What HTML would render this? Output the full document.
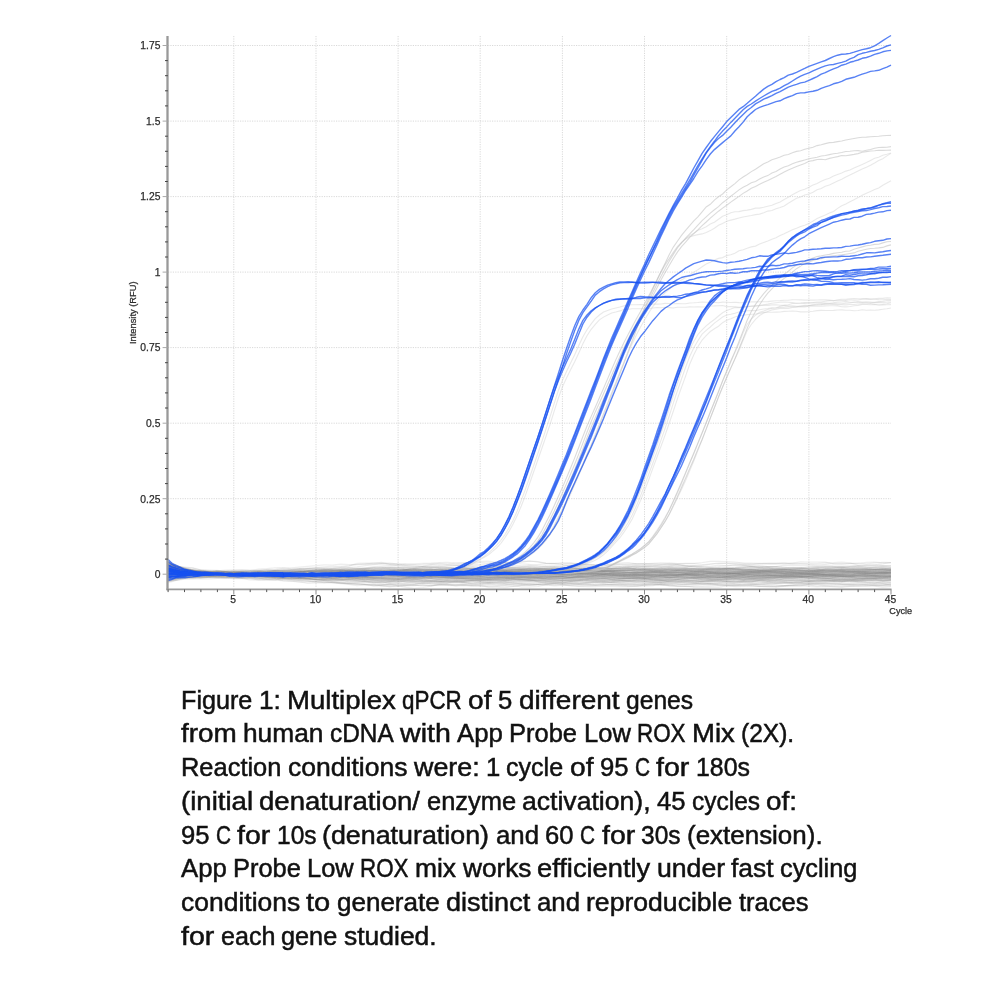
<!DOCTYPE html>
<html><head><meta charset="utf-8"><title>Figure 1</title>
<style>
html,body{margin:0;padding:0;background:#fff;}
body{width:1000px;height:1000px;position:relative;overflow:hidden;font-family:"Liberation Sans",sans-serif;}
.ln{position:absolute;display:block;white-space:nowrap;-webkit-text-stroke:0.5px #111;font-size:25.3px;line-height:33.095px;color:#111;transform-origin:0 50%;letter-spacing:0;}
#cap{position:absolute;left:0;top:0;width:1000px;height:1000px;filter:blur(0.3px);will-change:transform;}
</style></head><body>
<svg width="1000" height="1000" viewBox="0 0 1000 1000" style="position:absolute;left:0;top:0;will-change:transform">
<g stroke="#d9d9d9" stroke-width="1" stroke-dasharray="1.2,1.2" fill="none">
<path d="M233.8,36 V588"/>
<path d="M316.0,36 V588"/>
<path d="M398.1,36 V588"/>
<path d="M480.2,36 V588"/>
<path d="M562.4,36 V588"/>
<path d="M644.5,36 V588"/>
<path d="M726.7,36 V588"/>
<path d="M808.9,36 V588"/>
<path d="M168,498.7 H891"/>
<path d="M168,423.2 H891"/>
<path d="M168,347.6 H891"/>
<path d="M168,272.1 H891"/>
<path d="M168,196.6 H891"/>
<path d="M168,121.1 H891"/>
<path d="M168,45.5 H891"/>
</g>
<g stroke="#8a8a8a" stroke-width="1.2" fill="none" stroke-opacity="0.14" style="filter:blur(0.4px)">
<path d="M168.1,566.6 L176.3,570.1 L184.5,571.5 L192.7,573.5 L200.9,574.9 L209.2,576.1 L217.4,577.4 L225.6,578.2 L233.8,578.6 L242.0,578.7 L250.2,580.0 L258.4,580.1 L266.7,580.3 L274.9,579.9 L283.1,578.4 L291.3,578.7 L299.5,578.9 L307.7,579.7 L316.0,580.1 L324.2,580.4 L332.4,581.4 L340.6,582.2 L348.8,583.1 L357.0,584.5 L365.2,584.7 L373.5,584.8 L381.7,585.2 L389.9,584.3 L398.1,585.8 L406.3,587.3 L414.5,588.3 L422.7,587.5 L431.0,586.1 L439.2,584.4 L447.4,584.4 L455.6,586.0 L463.8,585.5 L472.0,586.1 L480.2,585.8 L488.5,585.3 L496.7,585.7 L504.9,585.2 L513.1,584.2 L521.3,584.3 L529.5,584.2 L537.8,584.5 L546.0,584.7 L554.2,585.2 L562.4,584.6 L570.6,584.6 L578.8,584.1 L587.0,583.3 L595.3,584.0 L603.5,583.8 L611.7,585.0 L619.9,584.8 L628.1,584.7 L636.3,584.5 L644.5,583.9 L652.8,584.3 L661.0,584.7 L669.2,585.6 L677.4,586.1 L685.6,586.0 L693.8,587.1 L702.1,587.4 L710.3,587.1 L718.5,587.3 L726.7,585.8 L734.9,585.8 L743.1,585.3 L751.3,584.6 L759.6,584.5 L767.8,584.2 L776.0,584.8 L784.2,585.6 L792.4,585.4 L800.6,585.0 L808.9,584.7 L817.1,584.9 L825.3,585.8 L833.5,586.7 L841.7,586.6 L849.9,586.1 L858.1,586.5 L866.4,585.9 L874.6,586.2 L882.8,587.3 L891.0,586.7"/>
<path d="M168.1,565.4 L176.3,569.3 L184.5,570.1 L192.7,571.3 L200.9,571.5 L209.2,571.3 L217.4,572.7 L225.6,572.6 L233.8,572.5 L242.0,573.1 L250.2,572.3 L258.4,572.1 L266.7,572.4 L274.9,572.0 L283.1,571.8 L291.3,571.0 L299.5,570.9 L307.7,570.4 L316.0,571.0 L324.2,572.0 L332.4,571.6 L340.6,571.5 L348.8,570.1 L357.0,569.9 L365.2,570.2 L373.5,571.2 L381.7,572.5 L389.9,571.8 L398.1,571.1 L406.3,569.3 L414.5,568.3 L422.7,568.6 L431.0,568.5 L439.2,568.7 L447.4,569.9 L455.6,570.7 L463.8,570.8 L472.0,571.2 L480.2,571.4 L488.5,570.7 L496.7,571.4 L504.9,571.5 L513.1,570.0 L521.3,569.4 L529.5,568.2 L537.8,568.6 L546.0,569.5 L554.2,569.5 L562.4,570.3 L570.6,570.1 L578.8,569.5 L587.0,570.4 L595.3,571.2 L603.5,570.6 L611.7,571.0 L619.9,570.1 L628.1,568.9 L636.3,570.2 L644.5,570.0 L652.8,570.7 L661.0,571.0 L669.2,570.5 L677.4,570.6 L685.6,570.2 L693.8,570.5 L702.1,569.9 L710.3,569.0 L718.5,569.2 L726.7,568.2 L734.9,568.5 L743.1,569.6 L751.3,569.9 L759.6,570.0 L767.8,570.0 L776.0,570.2 L784.2,569.3 L792.4,570.1 L800.6,569.9 L808.9,570.3 L817.1,571.2 L825.3,571.2 L833.5,571.0 L841.7,570.0 L849.9,569.5 L858.1,569.6 L866.4,569.3 L874.6,569.6 L882.8,569.8 L891.0,570.2"/>
<path d="M168.1,580.6 L176.3,578.6 L184.5,577.3 L192.7,577.6 L200.9,577.5 L209.2,577.8 L217.4,578.0 L225.6,578.0 L233.8,576.9 L242.0,577.3 L250.2,577.3 L258.4,577.1 L266.7,578.1 L274.9,578.1 L283.1,578.3 L291.3,578.2 L299.5,578.3 L307.7,579.2 L316.0,579.3 L324.2,579.5 L332.4,578.5 L340.6,578.8 L348.8,579.2 L357.0,579.0 L365.2,580.4 L373.5,580.6 L381.7,581.9 L389.9,583.3 L398.1,583.5 L406.3,582.9 L414.5,582.0 L422.7,581.6 L431.0,580.9 L439.2,581.6 L447.4,581.4 L455.6,580.5 L463.8,581.0 L472.0,580.4 L480.2,581.4 L488.5,581.8 L496.7,581.2 L504.9,581.1 L513.1,580.1 L521.3,579.7 L529.5,580.1 L537.8,580.9 L546.0,580.8 L554.2,582.5 L562.4,583.4 L570.6,583.2 L578.8,583.4 L587.0,582.3 L595.3,581.3 L603.5,580.5 L611.7,581.0 L619.9,580.0 L628.1,580.2 L636.3,581.1 L644.5,580.7 L652.8,581.1 L661.0,580.7 L669.2,580.4 L677.4,580.8 L685.6,581.0 L693.8,582.0 L702.1,581.4 L710.3,581.2 L718.5,582.0 L726.7,581.2 L734.9,582.4 L743.1,581.3 L751.3,581.3 L759.6,582.0 L767.8,581.6 L776.0,583.3 L784.2,582.6 L792.4,582.9 L800.6,582.5 L808.9,581.3 L817.1,581.8 L825.3,580.9 L833.5,581.3 L841.7,581.7 L849.9,581.2 L858.1,581.1 L866.4,580.5 L874.6,580.4 L882.8,579.9 L891.0,579.9"/>
<path d="M168.1,577.6 L176.3,576.1 L184.5,575.3 L192.7,574.1 L200.9,573.5 L209.2,572.8 L217.4,572.0 L225.6,572.5 L233.8,572.5 L242.0,571.6 L250.2,571.2 L258.4,570.9 L266.7,570.8 L274.9,571.6 L283.1,572.7 L291.3,572.7 L299.5,572.1 L307.7,571.0 L316.0,570.9 L324.2,570.6 L332.4,570.6 L340.6,571.1 L348.8,570.9 L357.0,571.3 L365.2,572.0 L373.5,571.9 L381.7,571.3 L389.9,570.7 L398.1,569.6 L406.3,569.8 L414.5,570.1 L422.7,571.1 L431.0,570.7 L439.2,571.1 L447.4,570.6 L455.6,568.9 L463.8,569.5 L472.0,568.8 L480.2,569.1 L488.5,569.5 L496.7,569.6 L504.9,570.5 L513.1,570.7 L521.3,571.7 L529.5,571.5 L537.8,570.7 L546.0,570.2 L554.2,569.8 L562.4,570.6 L570.6,570.5 L578.8,571.2 L587.0,571.0 L595.3,570.9 L603.5,571.4 L611.7,570.9 L619.9,570.8 L628.1,570.3 L636.3,569.1 L644.5,568.9 L652.8,568.8 L661.0,568.4 L669.2,569.5 L677.4,570.4 L685.6,570.4 L693.8,570.7 L702.1,570.3 L710.3,569.1 L718.5,569.7 L726.7,569.5 L734.9,569.4 L743.1,569.9 L751.3,569.5 L759.6,570.3 L767.8,570.6 L776.0,571.0 L784.2,571.4 L792.4,570.8 L800.6,571.0 L808.9,571.7 L817.1,570.9 L825.3,571.2 L833.5,571.4 L841.7,571.0 L849.9,571.4 L858.1,571.8 L866.4,571.8 L874.6,571.6 L882.8,571.1 L891.0,570.9"/>
<path d="M168.1,573.2 L176.3,573.1 L184.5,573.1 L192.7,572.9 L200.9,573.3 L209.2,573.3 L217.4,572.9 L225.6,573.4 L233.8,572.2 L242.0,572.7 L250.2,573.2 L258.4,573.0 L266.7,573.1 L274.9,572.4 L283.1,571.7 L291.3,571.0 L299.5,571.4 L307.7,571.9 L316.0,572.0 L324.2,571.6 L332.4,570.9 L340.6,570.6 L348.8,570.7 L357.0,571.1 L365.2,570.9 L373.5,570.4 L381.7,569.4 L389.9,569.3 L398.1,569.0 L406.3,569.5 L414.5,570.0 L422.7,569.7 L431.0,570.2 L439.2,568.5 L447.4,568.6 L455.6,568.2 L463.8,567.7 L472.0,569.3 L480.2,569.3 L488.5,570.4 L496.7,570.1 L504.9,569.9 L513.1,569.7 L521.3,569.1 L529.5,569.6 L537.8,570.0 L546.0,570.1 L554.2,570.7 L562.4,570.2 L570.6,570.4 L578.8,571.0 L587.0,569.6 L595.3,570.0 L603.5,569.7 L611.7,568.7 L619.9,569.2 L628.1,569.4 L636.3,569.0 L644.5,568.9 L652.8,569.3 L661.0,569.1 L669.2,569.2 L677.4,569.4 L685.6,569.3 L693.8,569.8 L702.1,570.0 L710.3,570.3 L718.5,570.2 L726.7,569.1 L734.9,568.7 L743.1,568.8 L751.3,569.0 L759.6,570.1 L767.8,570.5 L776.0,569.4 L784.2,569.4 L792.4,569.0 L800.6,568.9 L808.9,569.2 L817.1,569.3 L825.3,570.1 L833.5,570.3 L841.7,571.1 L849.9,570.2 L858.1,570.3 L866.4,570.2 L874.6,570.2 L882.8,571.3 L891.0,570.1"/>
<path d="M168.1,562.8 L176.3,567.5 L184.5,569.6 L192.7,570.3 L200.9,572.2 L209.2,572.3 L217.4,572.8 L225.6,573.7 L233.8,573.4 L242.0,572.7 L250.2,573.0 L258.4,572.5 L266.7,572.5 L274.9,573.1 L283.1,573.7 L291.3,574.8 L299.5,574.9 L307.7,574.7 L316.0,573.7 L324.2,573.4 L332.4,572.4 L340.6,572.8 L348.8,573.8 L357.0,573.1 L365.2,573.4 L373.5,573.3 L381.7,572.6 L389.9,572.5 L398.1,572.5 L406.3,572.4 L414.5,572.7 L422.7,571.6 L431.0,571.6 L439.2,571.8 L447.4,571.4 L455.6,572.4 L463.8,572.3 L472.0,572.6 L480.2,572.9 L488.5,572.9 L496.7,572.9 L504.9,571.6 L513.1,571.4 L521.3,572.0 L529.5,571.5 L537.8,572.5 L546.0,572.5 L554.2,571.7 L562.4,572.6 L570.6,571.5 L578.8,571.3 L587.0,571.4 L595.3,570.8 L603.5,571.3 L611.7,572.2 L619.9,572.1 L628.1,572.3 L636.3,572.3 L644.5,571.6 L652.8,572.2 L661.0,572.9 L669.2,572.7 L677.4,573.2 L685.6,572.6 L693.8,572.5 L702.1,573.0 L710.3,573.0 L718.5,573.6 L726.7,573.4 L734.9,573.1 L743.1,572.6 L751.3,572.1 L759.6,572.3 L767.8,572.3 L776.0,572.7 L784.2,572.6 L792.4,571.9 L800.6,571.7 L808.9,570.7 L817.1,571.3 L825.3,572.1 L833.5,572.4 L841.7,572.0 L849.9,571.5 L858.1,571.0 L866.4,570.9 L874.6,571.5 L882.8,571.5 L891.0,571.2"/>
<path d="M168.1,564.4 L176.3,568.7 L184.5,571.4 L192.7,572.9 L200.9,574.1 L209.2,574.4 L217.4,575.4 L225.6,575.6 L233.8,576.2 L242.0,575.7 L250.2,576.2 L258.4,576.1 L266.7,576.4 L274.9,577.4 L283.1,577.1 L291.3,577.6 L299.5,578.1 L307.7,578.8 L316.0,579.8 L324.2,580.2 L332.4,580.0 L340.6,579.7 L348.8,579.6 L357.0,580.3 L365.2,581.5 L373.5,582.1 L381.7,582.8 L389.9,583.1 L398.1,583.2 L406.3,584.0 L414.5,583.7 L422.7,583.4 L431.0,582.5 L439.2,582.1 L447.4,581.0 L455.6,580.9 L463.8,581.6 L472.0,581.2 L480.2,582.5 L488.5,582.1 L496.7,582.3 L504.9,583.2 L513.1,582.0 L521.3,582.3 L529.5,581.7 L537.8,581.4 L546.0,582.7 L554.2,583.1 L562.4,583.2 L570.6,582.8 L578.8,583.3 L587.0,582.6 L595.3,582.5 L603.5,582.2 L611.7,582.0 L619.9,582.6 L628.1,583.2 L636.3,583.7 L644.5,583.9 L652.8,583.4 L661.0,583.4 L669.2,584.6 L677.4,583.5 L685.6,584.3 L693.8,583.7 L702.1,583.3 L710.3,583.8 L718.5,584.0 L726.7,584.2 L734.9,584.0 L743.1,584.3 L751.3,584.0 L759.6,584.6 L767.8,583.6 L776.0,583.3 L784.2,583.1 L792.4,582.8 L800.6,583.2 L808.9,582.9 L817.1,582.9 L825.3,583.2 L833.5,583.4 L841.7,583.5 L849.9,583.3 L858.1,582.6 L866.4,582.9 L874.6,583.5 L882.8,583.4 L891.0,583.9"/>
<path d="M168.1,572.0 L176.3,573.6 L184.5,574.5 L192.7,573.7 L200.9,574.7 L209.2,574.0 L217.4,574.1 L225.6,574.8 L233.8,573.7 L242.0,574.5 L250.2,574.7 L258.4,574.0 L266.7,573.8 L274.9,572.9 L283.1,572.8 L291.3,573.3 L299.5,573.5 L307.7,573.8 L316.0,573.4 L324.2,573.8 L332.4,574.1 L340.6,573.7 L348.8,573.4 L357.0,572.5 L365.2,572.8 L373.5,574.1 L381.7,574.4 L389.9,575.3 L398.1,575.6 L406.3,575.6 L414.5,575.6 L422.7,574.8 L431.0,574.7 L439.2,574.9 L447.4,574.6 L455.6,574.8 L463.8,573.9 L472.0,572.9 L480.2,573.2 L488.5,572.8 L496.7,573.7 L504.9,573.8 L513.1,573.4 L521.3,574.2 L529.5,573.8 L537.8,573.5 L546.0,572.9 L554.2,573.3 L562.4,573.9 L570.6,573.6 L578.8,573.9 L587.0,573.8 L595.3,573.7 L603.5,573.9 L611.7,575.2 L619.9,575.2 L628.1,574.7 L636.3,574.8 L644.5,574.4 L652.8,574.7 L661.0,575.1 L669.2,575.4 L677.4,575.1 L685.6,574.0 L693.8,574.1 L702.1,574.6 L710.3,573.4 L718.5,574.0 L726.7,574.3 L734.9,573.8 L743.1,575.1 L751.3,573.8 L759.6,573.3 L767.8,573.4 L776.0,573.1 L784.2,574.6 L792.4,574.0 L800.6,573.7 L808.9,573.7 L817.1,573.1 L825.3,574.8 L833.5,575.0 L841.7,575.4 L849.9,575.3 L858.1,573.6 L866.4,573.5 L874.6,573.1 L882.8,572.9 L891.0,572.7"/>
<path d="M168.1,561.8 L176.3,565.5 L184.5,568.6 L192.7,570.9 L200.9,571.4 L209.2,572.6 L217.4,572.9 L225.6,573.2 L233.8,574.5 L242.0,574.2 L250.2,573.5 L258.4,573.8 L266.7,573.1 L274.9,573.0 L283.1,574.0 L291.3,574.0 L299.5,574.7 L307.7,575.9 L316.0,576.3 L324.2,576.3 L332.4,575.9 L340.6,575.8 L348.8,575.0 L357.0,576.1 L365.2,577.0 L373.5,576.6 L381.7,577.9 L389.9,577.4 L398.1,576.7 L406.3,577.2 L414.5,577.3 L422.7,576.9 L431.0,576.4 L439.2,576.0 L447.4,574.9 L455.6,575.9 L463.8,577.0 L472.0,576.4 L480.2,576.7 L488.5,576.0 L496.7,576.1 L504.9,577.4 L513.1,577.3 L521.3,576.9 L529.5,576.3 L537.8,575.3 L546.0,575.8 L554.2,576.4 L562.4,576.7 L570.6,577.2 L578.8,577.6 L587.0,576.8 L595.3,576.3 L603.5,576.0 L611.7,575.0 L619.9,575.3 L628.1,575.5 L636.3,575.4 L644.5,575.7 L652.8,576.3 L661.0,576.3 L669.2,576.8 L677.4,577.3 L685.6,577.1 L693.8,577.4 L702.1,576.8 L710.3,576.4 L718.5,575.5 L726.7,575.1 L734.9,575.1 L743.1,575.5 L751.3,576.3 L759.6,576.4 L767.8,576.1 L776.0,575.8 L784.2,575.8 L792.4,576.2 L800.6,576.6 L808.9,576.3 L817.1,576.8 L825.3,575.9 L833.5,575.9 L841.7,576.8 L849.9,576.4 L858.1,576.5 L866.4,576.1 L874.6,576.0 L882.8,576.0 L891.0,575.7"/>
<path d="M168.1,579.0 L176.3,577.3 L184.5,575.7 L192.7,575.5 L200.9,575.0 L209.2,574.2 L217.4,574.3 L225.6,574.2 L233.8,574.2 L242.0,574.2 L250.2,574.1 L258.4,573.9 L266.7,572.5 L274.9,572.2 L283.1,571.4 L291.3,571.8 L299.5,571.7 L307.7,571.3 L316.0,571.1 L324.2,570.6 L332.4,570.0 L340.6,570.2 L348.8,570.6 L357.0,570.1 L365.2,570.2 L373.5,570.3 L381.7,569.7 L389.9,569.2 L398.1,569.0 L406.3,568.7 L414.5,569.0 L422.7,569.3 L431.0,569.3 L439.2,569.6 L447.4,569.8 L455.6,570.5 L463.8,570.8 L472.0,570.5 L480.2,570.5 L488.5,569.9 L496.7,570.2 L504.9,569.5 L513.1,569.4 L521.3,569.7 L529.5,569.3 L537.8,569.4 L546.0,568.5 L554.2,568.5 L562.4,568.6 L570.6,568.5 L578.8,568.7 L587.0,568.9 L595.3,568.7 L603.5,568.1 L611.7,568.2 L619.9,567.0 L628.1,567.4 L636.3,569.1 L644.5,569.6 L652.8,570.7 L661.0,570.8 L669.2,569.0 L677.4,569.2 L685.6,568.9 L693.8,569.1 L702.1,569.8 L710.3,569.5 L718.5,569.9 L726.7,569.2 L734.9,569.1 L743.1,568.4 L751.3,568.3 L759.6,568.4 L767.8,568.9 L776.0,569.3 L784.2,569.3 L792.4,569.2 L800.6,568.2 L808.9,569.3 L817.1,568.8 L825.3,570.0 L833.5,570.8 L841.7,569.9 L849.9,570.2 L858.1,569.3 L866.4,569.3 L874.6,569.5 L882.8,570.5 L891.0,570.5"/>
<path d="M168.1,576.6 L176.3,576.3 L184.5,574.9 L192.7,574.9 L200.9,573.4 L209.2,572.9 L217.4,573.4 L225.6,572.6 L233.8,573.2 L242.0,573.0 L250.2,572.9 L258.4,573.3 L266.7,572.6 L274.9,572.7 L283.1,573.1 L291.3,571.9 L299.5,571.4 L307.7,571.2 L316.0,570.3 L324.2,571.5 L332.4,571.8 L340.6,571.4 L348.8,571.3 L357.0,571.0 L365.2,570.8 L373.5,570.6 L381.7,571.1 L389.9,569.7 L398.1,569.9 L406.3,570.8 L414.5,570.5 L422.7,570.8 L431.0,571.3 L439.2,569.7 L447.4,569.1 L455.6,569.6 L463.8,568.7 L472.0,568.9 L480.2,569.8 L488.5,570.0 L496.7,570.4 L504.9,570.8 L513.1,570.5 L521.3,570.6 L529.5,570.5 L537.8,570.7 L546.0,570.1 L554.2,570.2 L562.4,570.1 L570.6,570.2 L578.8,570.3 L587.0,569.3 L595.3,569.5 L603.5,569.9 L611.7,570.3 L619.9,571.0 L628.1,570.3 L636.3,569.9 L644.5,569.4 L652.8,569.3 L661.0,569.0 L669.2,568.9 L677.4,568.5 L685.6,568.1 L693.8,569.4 L702.1,569.5 L710.3,570.5 L718.5,571.3 L726.7,570.6 L734.9,571.2 L743.1,570.6 L751.3,569.4 L759.6,568.6 L767.8,568.0 L776.0,568.0 L784.2,569.2 L792.4,569.8 L800.6,570.2 L808.9,570.5 L817.1,570.1 L825.3,570.1 L833.5,569.9 L841.7,569.2 L849.9,569.4 L858.1,569.2 L866.4,569.0 L874.6,569.8 L882.8,569.1 L891.0,569.4"/>
<path d="M168.1,579.1 L176.3,578.6 L184.5,577.7 L192.7,577.6 L200.9,577.3 L209.2,577.2 L217.4,577.7 L225.6,577.4 L233.8,578.3 L242.0,578.3 L250.2,578.4 L258.4,579.8 L266.7,579.3 L274.9,579.0 L283.1,579.3 L291.3,579.6 L299.5,580.3 L307.7,581.2 L316.0,582.0 L324.2,582.5 L332.4,582.5 L340.6,582.9 L348.8,582.7 L357.0,582.0 L365.2,582.0 L373.5,583.3 L381.7,584.3 L389.9,585.2 L398.1,585.1 L406.3,584.2 L414.5,583.9 L422.7,582.8 L431.0,583.6 L439.2,583.8 L447.4,584.2 L455.6,584.9 L463.8,584.1 L472.0,584.6 L480.2,584.1 L488.5,583.8 L496.7,584.9 L504.9,584.4 L513.1,585.4 L521.3,587.0 L529.5,587.0 L537.8,586.5 L546.0,584.9 L554.2,583.4 L562.4,582.6 L570.6,583.5 L578.8,584.3 L587.0,584.5 L595.3,584.4 L603.5,583.5 L611.7,583.8 L619.9,583.7 L628.1,583.9 L636.3,584.6 L644.5,583.8 L652.8,583.5 L661.0,584.2 L669.2,583.6 L677.4,583.5 L685.6,584.0 L693.8,583.9 L702.1,583.6 L710.3,583.7 L718.5,583.3 L726.7,582.8 L734.9,583.9 L743.1,584.1 L751.3,584.3 L759.6,583.5 L767.8,582.3 L776.0,581.8 L784.2,582.1 L792.4,583.1 L800.6,583.3 L808.9,583.9 L817.1,583.8 L825.3,584.0 L833.5,583.4 L841.7,583.9 L849.9,584.0 L858.1,583.6 L866.4,584.4 L874.6,584.3 L882.8,584.7 L891.0,584.6"/>
<path d="M168.1,580.2 L176.3,578.6 L184.5,576.0 L192.7,575.4 L200.9,574.4 L209.2,574.0 L217.4,573.8 L225.6,573.6 L233.8,573.2 L242.0,573.6 L250.2,573.4 L258.4,573.4 L266.7,573.8 L274.9,573.3 L283.1,573.1 L291.3,573.5 L299.5,573.0 L307.7,572.6 L316.0,572.5 L324.2,573.4 L332.4,574.0 L340.6,575.3 L348.8,575.8 L357.0,574.0 L365.2,574.2 L373.5,573.4 L381.7,573.2 L389.9,575.1 L398.1,575.7 L406.3,575.7 L414.5,576.0 L422.7,575.4 L431.0,574.7 L439.2,573.9 L447.4,573.9 L455.6,573.3 L463.8,573.0 L472.0,573.8 L480.2,573.0 L488.5,573.3 L496.7,573.4 L504.9,572.7 L513.1,573.5 L521.3,573.6 L529.5,574.5 L537.8,575.2 L546.0,574.1 L554.2,573.8 L562.4,573.9 L570.6,573.4 L578.8,573.5 L587.0,573.0 L595.3,572.3 L603.5,573.0 L611.7,573.3 L619.9,573.9 L628.1,574.2 L636.3,573.5 L644.5,573.5 L652.8,572.8 L661.0,572.5 L669.2,572.9 L677.4,574.0 L685.6,575.2 L693.8,575.4 L702.1,575.8 L710.3,575.5 L718.5,574.3 L726.7,573.2 L734.9,573.4 L743.1,572.1 L751.3,572.5 L759.6,573.0 L767.8,571.8 L776.0,572.4 L784.2,572.8 L792.4,573.2 L800.6,574.7 L808.9,574.9 L817.1,575.1 L825.3,575.2 L833.5,575.4 L841.7,576.0 L849.9,575.8 L858.1,575.3 L866.4,573.4 L874.6,573.2 L882.8,573.0 L891.0,572.8"/>
<path d="M168.1,561.3 L176.3,565.5 L184.5,568.8 L192.7,571.0 L200.9,572.0 L209.2,573.5 L217.4,573.7 L225.6,573.6 L233.8,574.4 L242.0,573.4 L250.2,573.2 L258.4,573.4 L266.7,573.4 L274.9,573.5 L283.1,574.1 L291.3,573.4 L299.5,572.2 L307.7,572.8 L316.0,572.0 L324.2,571.7 L332.4,572.1 L340.6,572.0 L348.8,572.0 L357.0,573.1 L365.2,573.2 L373.5,573.7 L381.7,574.3 L389.9,574.0 L398.1,574.2 L406.3,573.7 L414.5,573.9 L422.7,574.5 L431.0,574.3 L439.2,574.3 L447.4,573.7 L455.6,573.5 L463.8,573.9 L472.0,574.2 L480.2,574.1 L488.5,574.1 L496.7,574.3 L504.9,573.4 L513.1,574.1 L521.3,573.6 L529.5,572.7 L537.8,572.6 L546.0,573.1 L554.2,573.7 L562.4,574.1 L570.6,574.8 L578.8,574.2 L587.0,573.3 L595.3,573.8 L603.5,574.5 L611.7,574.5 L619.9,575.7 L628.1,575.5 L636.3,575.0 L644.5,575.1 L652.8,575.4 L661.0,574.3 L669.2,574.2 L677.4,574.4 L685.6,573.9 L693.8,575.3 L702.1,574.9 L710.3,574.7 L718.5,575.0 L726.7,574.3 L734.9,574.6 L743.1,573.3 L751.3,573.5 L759.6,574.8 L767.8,574.5 L776.0,575.7 L784.2,574.5 L792.4,573.6 L800.6,573.4 L808.9,573.6 L817.1,573.9 L825.3,574.3 L833.5,575.8 L841.7,575.9 L849.9,576.6 L858.1,575.4 L866.4,574.4 L874.6,573.7 L882.8,573.0 L891.0,574.5"/>
<path d="M168.1,563.0 L176.3,567.6 L184.5,570.6 L192.7,572.2 L200.9,572.7 L209.2,572.7 L217.4,572.7 L225.6,573.0 L233.8,572.5 L242.0,571.8 L250.2,572.3 L258.4,572.3 L266.7,573.2 L274.9,574.5 L283.1,573.9 L291.3,574.7 L299.5,574.7 L307.7,574.3 L316.0,574.0 L324.2,574.3 L332.4,574.1 L340.6,574.1 L348.8,573.5 L357.0,572.9 L365.2,574.2 L373.5,573.5 L381.7,574.3 L389.9,573.7 L398.1,572.2 L406.3,572.1 L414.5,571.9 L422.7,572.1 L431.0,572.5 L439.2,573.4 L447.4,573.1 L455.6,573.4 L463.8,573.0 L472.0,572.6 L480.2,572.7 L488.5,572.2 L496.7,572.8 L504.9,573.0 L513.1,574.1 L521.3,574.4 L529.5,574.1 L537.8,574.0 L546.0,573.9 L554.2,574.1 L562.4,574.0 L570.6,574.9 L578.8,574.8 L587.0,574.2 L595.3,574.7 L603.5,574.7 L611.7,574.0 L619.9,574.9 L628.1,575.3 L636.3,574.6 L644.5,573.9 L652.8,572.9 L661.0,571.9 L669.2,572.1 L677.4,572.4 L685.6,573.3 L693.8,573.6 L702.1,573.2 L710.3,574.1 L718.5,573.1 L726.7,573.1 L734.9,572.2 L743.1,571.2 L751.3,570.8 L759.6,570.6 L767.8,570.7 L776.0,571.2 L784.2,571.3 L792.4,571.3 L800.6,572.0 L808.9,572.3 L817.1,573.4 L825.3,574.3 L833.5,574.3 L841.7,573.1 L849.9,572.4 L858.1,572.1 L866.4,572.7 L874.6,574.7 L882.8,574.5 L891.0,574.4"/>
<path d="M168.1,565.3 L176.3,567.2 L184.5,569.5 L192.7,570.5 L200.9,570.7 L209.2,572.1 L217.4,572.0 L225.6,572.3 L233.8,572.8 L242.0,571.7 L250.2,572.6 L258.4,573.3 L266.7,573.1 L274.9,574.7 L283.1,574.6 L291.3,574.0 L299.5,574.3 L307.7,573.5 L316.0,573.4 L324.2,573.5 L332.4,573.4 L340.6,574.0 L348.8,573.6 L357.0,574.8 L365.2,575.0 L373.5,574.0 L381.7,574.5 L389.9,573.4 L398.1,573.1 L406.3,572.6 L414.5,572.7 L422.7,572.3 L431.0,572.4 L439.2,573.6 L447.4,573.0 L455.6,572.8 L463.8,572.5 L472.0,571.6 L480.2,570.9 L488.5,570.2 L496.7,571.1 L504.9,571.4 L513.1,572.8 L521.3,574.1 L529.5,574.1 L537.8,574.0 L546.0,572.2 L554.2,572.5 L562.4,571.9 L570.6,572.3 L578.8,573.0 L587.0,572.0 L595.3,572.7 L603.5,572.8 L611.7,574.1 L619.9,574.9 L628.1,574.3 L636.3,573.4 L644.5,572.4 L652.8,572.3 L661.0,572.4 L669.2,573.5 L677.4,574.2 L685.6,573.5 L693.8,573.4 L702.1,572.8 L710.3,572.3 L718.5,572.9 L726.7,572.5 L734.9,571.9 L743.1,572.4 L751.3,571.6 L759.6,573.4 L767.8,573.6 L776.0,572.5 L784.2,573.1 L792.4,571.8 L800.6,572.6 L808.9,573.4 L817.1,572.6 L825.3,572.2 L833.5,571.3 L841.7,571.3 L849.9,572.4 L858.1,572.6 L866.4,573.5 L874.6,573.5 L882.8,573.1 L891.0,572.4"/>
<path d="M168.1,567.2 L176.3,568.9 L184.5,571.6 L192.7,572.0 L200.9,572.4 L209.2,572.0 L217.4,570.8 L225.6,571.5 L233.8,571.8 L242.0,572.1 L250.2,572.5 L258.4,571.8 L266.7,572.6 L274.9,573.0 L283.1,573.0 L291.3,573.1 L299.5,572.1 L307.7,571.1 L316.0,571.4 L324.2,571.1 L332.4,571.4 L340.6,571.6 L348.8,570.2 L357.0,570.0 L365.2,569.4 L373.5,569.6 L381.7,570.4 L389.9,570.7 L398.1,571.0 L406.3,570.8 L414.5,569.7 L422.7,569.6 L431.0,569.2 L439.2,569.8 L447.4,570.3 L455.6,569.9 L463.8,570.5 L472.0,570.5 L480.2,571.3 L488.5,572.2 L496.7,572.1 L504.9,571.7 L513.1,571.4 L521.3,570.5 L529.5,570.5 L537.8,570.8 L546.0,571.1 L554.2,571.6 L562.4,571.7 L570.6,572.5 L578.8,572.9 L587.0,573.2 L595.3,573.3 L603.5,573.3 L611.7,572.8 L619.9,573.4 L628.1,573.1 L636.3,572.7 L644.5,571.8 L652.8,570.4 L661.0,570.7 L669.2,569.9 L677.4,570.5 L685.6,571.1 L693.8,570.9 L702.1,571.5 L710.3,572.0 L718.5,572.5 L726.7,572.0 L734.9,572.1 L743.1,571.8 L751.3,571.6 L759.6,571.3 L767.8,570.9 L776.0,571.5 L784.2,571.7 L792.4,572.3 L800.6,573.4 L808.9,572.0 L817.1,572.1 L825.3,572.4 L833.5,571.7 L841.7,572.2 L849.9,571.3 L858.1,572.0 L866.4,572.0 L874.6,571.1 L882.8,570.5 L891.0,570.3"/>
<path d="M168.1,570.3 L176.3,571.7 L184.5,571.6 L192.7,573.5 L200.9,572.7 L209.2,573.1 L217.4,574.9 L225.6,573.8 L233.8,574.1 L242.0,574.3 L250.2,573.8 L258.4,573.9 L266.7,574.5 L274.9,575.6 L283.1,575.4 L291.3,575.9 L299.5,577.1 L307.7,576.3 L316.0,576.8 L324.2,577.0 L332.4,576.0 L340.6,575.2 L348.8,574.9 L357.0,575.0 L365.2,575.9 L373.5,576.8 L381.7,576.1 L389.9,576.1 L398.1,576.3 L406.3,576.5 L414.5,577.3 L422.7,577.0 L431.0,576.9 L439.2,576.2 L447.4,575.9 L455.6,576.3 L463.8,575.6 L472.0,575.4 L480.2,576.1 L488.5,576.0 L496.7,575.9 L504.9,576.5 L513.1,576.6 L521.3,576.6 L529.5,576.3 L537.8,576.3 L546.0,576.0 L554.2,576.1 L562.4,577.0 L570.6,577.5 L578.8,576.7 L587.0,576.5 L595.3,575.7 L603.5,575.4 L611.7,575.7 L619.9,575.5 L628.1,575.6 L636.3,574.7 L644.5,574.9 L652.8,575.7 L661.0,575.8 L669.2,575.7 L677.4,575.5 L685.6,574.9 L693.8,575.1 L702.1,576.7 L710.3,577.4 L718.5,577.1 L726.7,576.5 L734.9,574.9 L743.1,574.6 L751.3,575.1 L759.6,576.2 L767.8,577.4 L776.0,577.6 L784.2,577.9 L792.4,577.0 L800.6,577.4 L808.9,576.5 L817.1,575.4 L825.3,576.2 L833.5,575.3 L841.7,576.1 L849.9,575.9 L858.1,575.2 L866.4,575.0 L874.6,575.2 L882.8,575.5 L891.0,576.1"/>
<path d="M168.1,569.3 L176.3,571.0 L184.5,572.6 L192.7,573.3 L200.9,573.7 L209.2,574.3 L217.4,574.4 L225.6,574.1 L233.8,573.7 L242.0,574.0 L250.2,573.7 L258.4,573.6 L266.7,573.0 L274.9,571.3 L283.1,572.0 L291.3,571.9 L299.5,572.8 L307.7,573.5 L316.0,572.9 L324.2,572.9 L332.4,572.7 L340.6,571.9 L348.8,572.8 L357.0,572.6 L365.2,572.8 L373.5,573.7 L381.7,573.0 L389.9,572.9 L398.1,573.1 L406.3,572.3 L414.5,572.3 L422.7,572.5 L431.0,572.5 L439.2,572.9 L447.4,573.4 L455.6,573.5 L463.8,572.7 L472.0,572.3 L480.2,572.3 L488.5,572.7 L496.7,572.0 L504.9,572.3 L513.1,571.8 L521.3,571.3 L529.5,572.5 L537.8,572.9 L546.0,573.1 L554.2,573.5 L562.4,573.4 L570.6,573.2 L578.8,573.3 L587.0,573.0 L595.3,573.4 L603.5,573.0 L611.7,572.8 L619.9,573.0 L628.1,572.5 L636.3,572.8 L644.5,572.8 L652.8,571.7 L661.0,571.4 L669.2,571.1 L677.4,570.5 L685.6,570.2 L693.8,570.8 L702.1,570.9 L710.3,571.8 L718.5,572.7 L726.7,573.1 L734.9,573.0 L743.1,573.0 L751.3,572.9 L759.6,572.7 L767.8,573.3 L776.0,572.7 L784.2,573.6 L792.4,572.7 L800.6,572.1 L808.9,572.8 L817.1,572.1 L825.3,573.1 L833.5,573.3 L841.7,572.4 L849.9,572.0 L858.1,572.2 L866.4,572.7 L874.6,573.1 L882.8,572.9 L891.0,573.2"/>
<path d="M168.1,576.4 L176.3,574.2 L184.5,573.6 L192.7,573.6 L200.9,573.3 L209.2,575.0 L217.4,574.4 L225.6,574.6 L233.8,574.9 L242.0,575.2 L250.2,576.3 L258.4,576.1 L266.7,575.8 L274.9,575.8 L283.1,575.4 L291.3,576.3 L299.5,576.8 L307.7,577.0 L316.0,577.6 L324.2,577.7 L332.4,578.3 L340.6,577.2 L348.8,577.1 L357.0,576.3 L365.2,576.7 L373.5,577.7 L381.7,577.5 L389.9,577.9 L398.1,577.0 L406.3,576.7 L414.5,577.0 L422.7,576.6 L431.0,577.1 L439.2,576.7 L447.4,576.7 L455.6,577.7 L463.8,577.7 L472.0,577.8 L480.2,577.9 L488.5,578.9 L496.7,579.4 L504.9,580.2 L513.1,580.6 L521.3,579.9 L529.5,579.9 L537.8,578.7 L546.0,577.9 L554.2,576.9 L562.4,576.8 L570.6,577.6 L578.8,578.0 L587.0,578.0 L595.3,577.3 L603.5,577.2 L611.7,576.7 L619.9,577.3 L628.1,577.6 L636.3,577.4 L644.5,578.4 L652.8,578.6 L661.0,578.8 L669.2,577.9 L677.4,576.8 L685.6,576.2 L693.8,575.6 L702.1,576.6 L710.3,576.5 L718.5,577.0 L726.7,577.8 L734.9,578.6 L743.1,579.9 L751.3,579.1 L759.6,578.7 L767.8,577.4 L776.0,577.3 L784.2,576.7 L792.4,576.6 L800.6,577.0 L808.9,577.1 L817.1,578.7 L825.3,578.8 L833.5,577.9 L841.7,576.9 L849.9,575.4 L858.1,575.8 L866.4,576.7 L874.6,576.6 L882.8,577.4 L891.0,577.1"/>
<path d="M168.1,565.9 L176.3,569.6 L184.5,571.6 L192.7,572.6 L200.9,572.8 L209.2,574.4 L217.4,575.4 L225.6,575.8 L233.8,575.7 L242.0,575.5 L250.2,576.0 L258.4,576.3 L266.7,577.3 L274.9,577.2 L283.1,576.7 L291.3,576.7 L299.5,577.0 L307.7,577.3 L316.0,577.5 L324.2,578.6 L332.4,578.6 L340.6,579.1 L348.8,579.6 L357.0,579.0 L365.2,579.0 L373.5,579.0 L381.7,578.9 L389.9,578.9 L398.1,579.5 L406.3,581.0 L414.5,581.8 L422.7,582.0 L431.0,581.4 L439.2,579.5 L447.4,578.7 L455.6,579.2 L463.8,579.1 L472.0,580.3 L480.2,581.0 L488.5,580.6 L496.7,580.5 L504.9,580.3 L513.1,579.5 L521.3,579.4 L529.5,580.0 L537.8,579.9 L546.0,579.4 L554.2,579.4 L562.4,578.7 L570.6,578.1 L578.8,578.2 L587.0,578.1 L595.3,578.1 L603.5,578.6 L611.7,579.8 L619.9,580.2 L628.1,580.8 L636.3,580.2 L644.5,580.1 L652.8,580.3 L661.0,579.8 L669.2,580.4 L677.4,579.9 L685.6,580.0 L693.8,581.6 L702.1,581.2 L710.3,581.4 L718.5,580.7 L726.7,579.6 L734.9,580.7 L743.1,580.8 L751.3,580.4 L759.6,579.8 L767.8,578.2 L776.0,578.3 L784.2,579.1 L792.4,579.5 L800.6,580.1 L808.9,579.1 L817.1,579.4 L825.3,579.4 L833.5,580.2 L841.7,581.2 L849.9,580.4 L858.1,580.4 L866.4,579.8 L874.6,578.9 L882.8,578.9 L891.0,578.0"/>
<path d="M168.1,564.8 L176.3,568.3 L184.5,569.9 L192.7,570.2 L200.9,571.2 L209.2,571.2 L217.4,571.4 L225.6,572.1 L233.8,573.5 L242.0,573.3 L250.2,572.6 L258.4,573.4 L266.7,572.7 L274.9,572.0 L283.1,571.9 L291.3,571.9 L299.5,571.8 L307.7,571.6 L316.0,571.4 L324.2,570.6 L332.4,570.2 L340.6,569.9 L348.8,571.2 L357.0,570.9 L365.2,570.4 L373.5,570.8 L381.7,570.2 L389.9,570.0 L398.1,569.2 L406.3,569.7 L414.5,569.0 L422.7,569.8 L431.0,570.8 L439.2,570.1 L447.4,570.5 L455.6,569.3 L463.8,569.0 L472.0,568.8 L480.2,568.4 L488.5,568.5 L496.7,569.0 L504.9,569.6 L513.1,568.9 L521.3,569.3 L529.5,568.7 L537.8,568.1 L546.0,568.4 L554.2,568.8 L562.4,569.0 L570.6,569.8 L578.8,570.8 L587.0,570.7 L595.3,570.9 L603.5,569.6 L611.7,568.9 L619.9,568.6 L628.1,567.9 L636.3,569.3 L644.5,569.8 L652.8,569.8 L661.0,570.2 L669.2,569.2 L677.4,569.0 L685.6,569.5 L693.8,569.1 L702.1,569.8 L710.3,569.4 L718.5,568.7 L726.7,568.8 L734.9,568.9 L743.1,569.0 L751.3,569.3 L759.6,569.7 L767.8,569.2 L776.0,569.1 L784.2,569.5 L792.4,569.7 L800.6,570.4 L808.9,570.8 L817.1,570.0 L825.3,569.4 L833.5,569.5 L841.7,569.4 L849.9,570.0 L858.1,570.5 L866.4,570.6 L874.6,570.2 L882.8,569.7 L891.0,569.5"/>
<path d="M168.1,566.6 L176.3,568.9 L184.5,570.5 L192.7,572.3 L200.9,572.9 L209.2,573.9 L217.4,574.9 L225.6,574.0 L233.8,573.9 L242.0,573.7 L250.2,574.0 L258.4,574.8 L266.7,574.3 L274.9,574.8 L283.1,575.4 L291.3,575.1 L299.5,575.1 L307.7,574.3 L316.0,572.7 L324.2,573.2 L332.4,573.9 L340.6,575.2 L348.8,575.5 L357.0,575.1 L365.2,574.8 L373.5,573.1 L381.7,573.3 L389.9,573.3 L398.1,573.3 L406.3,573.8 L414.5,574.1 L422.7,573.7 L431.0,572.7 L439.2,573.2 L447.4,572.4 L455.6,573.7 L463.8,574.4 L472.0,574.2 L480.2,574.7 L488.5,573.4 L496.7,572.3 L504.9,571.5 L513.1,571.1 L521.3,571.5 L529.5,572.9 L537.8,573.6 L546.0,574.2 L554.2,574.6 L562.4,574.1 L570.6,573.6 L578.8,573.9 L587.0,572.9 L595.3,572.9 L603.5,572.3 L611.7,572.1 L619.9,572.2 L628.1,572.9 L636.3,574.4 L644.5,574.1 L652.8,574.5 L661.0,573.7 L669.2,573.8 L677.4,574.0 L685.6,574.2 L693.8,574.6 L702.1,573.7 L710.3,572.9 L718.5,573.4 L726.7,573.2 L734.9,573.6 L743.1,574.3 L751.3,573.3 L759.6,573.2 L767.8,573.9 L776.0,573.5 L784.2,573.8 L792.4,574.3 L800.6,573.2 L808.9,573.7 L817.1,574.8 L825.3,574.3 L833.5,573.9 L841.7,573.9 L849.9,573.3 L858.1,573.0 L866.4,574.0 L874.6,573.6 L882.8,572.6 L891.0,573.0"/>
<path d="M168.1,572.5 L176.3,573.2 L184.5,574.6 L192.7,575.5 L200.9,576.2 L209.2,577.0 L217.4,575.9 L225.6,574.9 L233.8,575.3 L242.0,574.5 L250.2,574.7 L258.4,575.6 L266.7,575.2 L274.9,576.3 L283.1,577.4 L291.3,577.2 L299.5,578.0 L307.7,577.6 L316.0,577.6 L324.2,577.7 L332.4,578.3 L340.6,579.4 L348.8,579.6 L357.0,580.5 L365.2,580.6 L373.5,580.6 L381.7,580.7 L389.9,580.8 L398.1,580.0 L406.3,579.1 L414.5,578.5 L422.7,577.8 L431.0,578.7 L439.2,579.5 L447.4,580.6 L455.6,581.4 L463.8,581.1 L472.0,580.5 L480.2,580.9 L488.5,580.7 L496.7,580.8 L504.9,581.5 L513.1,580.0 L521.3,580.0 L529.5,580.6 L537.8,580.4 L546.0,581.3 L554.2,581.7 L562.4,580.9 L570.6,580.7 L578.8,581.1 L587.0,580.5 L595.3,581.3 L603.5,582.0 L611.7,582.3 L619.9,582.3 L628.1,581.5 L636.3,580.4 L644.5,579.6 L652.8,579.9 L661.0,580.2 L669.2,581.8 L677.4,582.2 L685.6,582.7 L693.8,582.9 L702.1,581.9 L710.3,581.2 L718.5,579.8 L726.7,578.8 L734.9,578.5 L743.1,579.1 L751.3,580.1 L759.6,580.5 L767.8,580.9 L776.0,580.5 L784.2,579.0 L792.4,578.2 L800.6,577.8 L808.9,578.1 L817.1,579.0 L825.3,579.8 L833.5,579.8 L841.7,579.5 L849.9,579.5 L858.1,580.2 L866.4,580.5 L874.6,580.0 L882.8,580.5 L891.0,580.3"/>
<path d="M168.1,572.5 L176.3,572.2 L184.5,572.9 L192.7,571.9 L200.9,572.5 L209.2,572.5 L217.4,572.1 L225.6,573.1 L233.8,572.6 L242.0,572.6 L250.2,572.3 L258.4,571.8 L266.7,571.7 L274.9,570.4 L283.1,569.9 L291.3,569.9 L299.5,568.9 L307.7,570.0 L316.0,570.0 L324.2,569.7 L332.4,570.1 L340.6,570.3 L348.8,569.5 L357.0,569.5 L365.2,569.4 L373.5,567.8 L381.7,567.9 L389.9,567.6 L398.1,567.5 L406.3,569.4 L414.5,568.2 L422.7,567.6 L431.0,567.5 L439.2,566.4 L447.4,567.5 L455.6,568.1 L463.8,567.6 L472.0,567.2 L480.2,566.5 L488.5,566.5 L496.7,567.3 L504.9,567.6 L513.1,567.9 L521.3,567.4 L529.5,566.1 L537.8,566.3 L546.0,566.8 L554.2,567.4 L562.4,569.2 L570.6,568.3 L578.8,568.0 L587.0,568.2 L595.3,567.4 L603.5,568.6 L611.7,568.6 L619.9,567.9 L628.1,567.2 L636.3,565.9 L644.5,566.4 L652.8,566.0 L661.0,565.7 L669.2,566.1 L677.4,564.8 L685.6,565.6 L693.8,566.6 L702.1,566.5 L710.3,567.3 L718.5,566.7 L726.7,565.6 L734.9,565.6 L743.1,565.3 L751.3,565.6 L759.6,565.8 L767.8,566.5 L776.0,566.6 L784.2,567.2 L792.4,568.0 L800.6,567.9 L808.9,567.5 L817.1,566.9 L825.3,566.7 L833.5,566.6 L841.7,566.7 L849.9,566.9 L858.1,566.8 L866.4,567.0 L874.6,566.8 L882.8,566.4 L891.0,567.1"/>
<path d="M168.1,569.7 L176.3,571.1 L184.5,572.9 L192.7,573.0 L200.9,574.3 L209.2,575.3 L217.4,575.3 L225.6,575.3 L233.8,575.4 L242.0,575.3 L250.2,575.2 L258.4,575.2 L266.7,575.1 L274.9,574.4 L283.1,574.6 L291.3,574.9 L299.5,574.4 L307.7,575.3 L316.0,575.7 L324.2,575.2 L332.4,575.3 L340.6,575.3 L348.8,574.7 L357.0,574.8 L365.2,574.9 L373.5,574.6 L381.7,575.5 L389.9,575.9 L398.1,575.5 L406.3,575.4 L414.5,575.5 L422.7,575.4 L431.0,576.7 L439.2,577.1 L447.4,577.9 L455.6,578.6 L463.8,578.4 L472.0,577.3 L480.2,576.4 L488.5,575.4 L496.7,575.2 L504.9,575.3 L513.1,574.9 L521.3,575.4 L529.5,575.3 L537.8,576.2 L546.0,577.0 L554.2,576.9 L562.4,576.5 L570.6,577.2 L578.8,576.2 L587.0,575.5 L595.3,575.6 L603.5,574.7 L611.7,575.1 L619.9,575.9 L628.1,575.6 L636.3,575.7 L644.5,576.0 L652.8,576.4 L661.0,577.0 L669.2,576.6 L677.4,576.2 L685.6,575.8 L693.8,574.9 L702.1,575.5 L710.3,575.8 L718.5,575.7 L726.7,576.9 L734.9,576.7 L743.1,576.2 L751.3,576.3 L759.6,574.5 L767.8,575.3 L776.0,575.6 L784.2,575.6 L792.4,576.4 L800.6,575.8 L808.9,575.7 L817.1,575.9 L825.3,576.0 L833.5,575.7 L841.7,576.0 L849.9,576.4 L858.1,577.4 L866.4,578.2 L874.6,578.1 L882.8,578.0 L891.0,577.4"/>
<path d="M168.1,570.6 L176.3,572.3 L184.5,573.5 L192.7,574.2 L200.9,575.0 L209.2,575.4 L217.4,574.8 L225.6,575.4 L233.8,575.0 L242.0,575.1 L250.2,575.2 L258.4,575.0 L266.7,575.0 L274.9,575.3 L283.1,575.0 L291.3,575.8 L299.5,576.1 L307.7,575.8 L316.0,576.0 L324.2,575.3 L332.4,575.5 L340.6,576.2 L348.8,577.4 L357.0,577.1 L365.2,576.4 L373.5,575.7 L381.7,575.2 L389.9,575.4 L398.1,575.7 L406.3,575.6 L414.5,575.5 L422.7,576.0 L431.0,576.1 L439.2,577.0 L447.4,577.6 L455.6,576.7 L463.8,576.8 L472.0,575.8 L480.2,575.5 L488.5,576.0 L496.7,576.1 L504.9,575.5 L513.1,575.4 L521.3,575.1 L529.5,575.1 L537.8,575.5 L546.0,575.7 L554.2,575.6 L562.4,576.3 L570.6,577.4 L578.8,576.4 L587.0,576.5 L595.3,575.5 L603.5,575.4 L611.7,575.7 L619.9,575.3 L628.1,575.7 L636.3,576.0 L644.5,575.2 L652.8,576.7 L661.0,576.0 L669.2,575.2 L677.4,576.7 L685.6,575.2 L693.8,575.1 L702.1,575.5 L710.3,575.3 L718.5,575.3 L726.7,576.5 L734.9,575.8 L743.1,576.1 L751.3,576.4 L759.6,575.4 L767.8,576.2 L776.0,575.3 L784.2,575.3 L792.4,575.4 L800.6,574.3 L808.9,574.7 L817.1,574.5 L825.3,574.6 L833.5,574.9 L841.7,574.9 L849.9,575.6 L858.1,575.9 L866.4,576.4 L874.6,577.7 L882.8,577.2 L891.0,576.6"/>
<path d="M168.1,575.8 L176.3,574.3 L184.5,574.3 L192.7,574.0 L200.9,574.1 L209.2,573.7 L217.4,572.8 L225.6,573.1 L233.8,572.3 L242.0,571.5 L250.2,572.2 L258.4,571.7 L266.7,572.3 L274.9,573.4 L283.1,572.5 L291.3,572.5 L299.5,572.7 L307.7,571.7 L316.0,571.0 L324.2,571.2 L332.4,571.2 L340.6,571.5 L348.8,571.8 L357.0,570.6 L365.2,570.2 L373.5,570.2 L381.7,570.6 L389.9,571.6 L398.1,570.4 L406.3,569.6 L414.5,570.4 L422.7,570.3 L431.0,571.1 L439.2,571.9 L447.4,571.0 L455.6,571.0 L463.8,570.9 L472.0,569.8 L480.2,571.0 L488.5,570.6 L496.7,570.1 L504.9,570.6 L513.1,569.3 L521.3,569.1 L529.5,569.4 L537.8,569.0 L546.0,568.8 L554.2,569.6 L562.4,569.9 L570.6,569.9 L578.8,570.6 L587.0,571.0 L595.3,571.0 L603.5,571.0 L611.7,571.1 L619.9,569.7 L628.1,570.3 L636.3,570.9 L644.5,570.0 L652.8,570.9 L661.0,570.3 L669.2,570.4 L677.4,570.1 L685.6,569.8 L693.8,569.9 L702.1,569.5 L710.3,570.4 L718.5,570.3 L726.7,570.5 L734.9,570.1 L743.1,570.2 L751.3,570.3 L759.6,570.5 L767.8,571.2 L776.0,570.6 L784.2,570.5 L792.4,570.4 L800.6,570.5 L808.9,570.9 L817.1,570.4 L825.3,570.4 L833.5,569.7 L841.7,568.6 L849.9,569.0 L858.1,568.1 L866.4,569.2 L874.6,570.4 L882.8,570.0 L891.0,570.5"/>
<path d="M168.1,566.1 L176.3,569.1 L184.5,570.7 L192.7,571.6 L200.9,571.1 L209.2,571.8 L217.4,572.0 L225.6,572.5 L233.8,573.6 L242.0,574.0 L250.2,574.5 L258.4,573.8 L266.7,573.8 L274.9,573.3 L283.1,574.1 L291.3,574.3 L299.5,574.9 L307.7,575.7 L316.0,575.7 L324.2,576.2 L332.4,576.0 L340.6,576.4 L348.8,575.6 L357.0,575.5 L365.2,575.3 L373.5,574.7 L381.7,575.1 L389.9,575.6 L398.1,576.4 L406.3,577.1 L414.5,576.7 L422.7,576.0 L431.0,575.3 L439.2,575.1 L447.4,575.4 L455.6,575.4 L463.8,575.6 L472.0,575.6 L480.2,575.7 L488.5,576.8 L496.7,576.5 L504.9,576.3 L513.1,576.6 L521.3,576.7 L529.5,576.4 L537.8,576.8 L546.0,576.0 L554.2,574.5 L562.4,575.3 L570.6,575.1 L578.8,576.1 L587.0,576.7 L595.3,576.5 L603.5,576.5 L611.7,576.0 L619.9,576.6 L628.1,577.4 L636.3,577.7 L644.5,577.2 L652.8,576.5 L661.0,575.7 L669.2,575.8 L677.4,575.6 L685.6,575.6 L693.8,575.6 L702.1,575.1 L710.3,576.6 L718.5,576.6 L726.7,575.7 L734.9,575.7 L743.1,574.7 L751.3,575.2 L759.6,576.4 L767.8,576.3 L776.0,576.0 L784.2,575.6 L792.4,575.8 L800.6,575.6 L808.9,576.3 L817.1,577.0 L825.3,576.2 L833.5,576.9 L841.7,576.0 L849.9,575.8 L858.1,576.5 L866.4,576.2 L874.6,576.7 L882.8,576.2 L891.0,576.5"/>
<path d="M168.1,582.6 L176.3,580.3 L184.5,579.2 L192.7,579.2 L200.9,578.7 L209.2,579.0 L217.4,578.3 L225.6,577.4 L233.8,577.0 L242.0,576.5 L250.2,577.3 L258.4,577.9 L266.7,577.8 L274.9,578.0 L283.1,578.1 L291.3,578.4 L299.5,579.1 L307.7,579.2 L316.0,579.6 L324.2,579.7 L332.4,580.6 L340.6,580.7 L348.8,581.2 L357.0,582.2 L365.2,581.4 L373.5,581.8 L381.7,581.4 L389.9,580.6 L398.1,581.0 L406.3,581.6 L414.5,581.5 L422.7,581.9 L431.0,581.6 L439.2,581.1 L447.4,581.3 L455.6,582.1 L463.8,582.4 L472.0,583.9 L480.2,583.8 L488.5,582.6 L496.7,582.8 L504.9,582.4 L513.1,583.1 L521.3,583.9 L529.5,583.5 L537.8,583.0 L546.0,581.9 L554.2,581.8 L562.4,582.7 L570.6,581.7 L578.8,582.9 L587.0,583.1 L595.3,582.2 L603.5,582.4 L611.7,582.1 L619.9,581.2 L628.1,581.1 L636.3,582.1 L644.5,582.1 L652.8,581.9 L661.0,582.4 L669.2,581.3 L677.4,581.9 L685.6,582.8 L693.8,582.8 L702.1,584.0 L710.3,583.5 L718.5,582.8 L726.7,581.8 L734.9,582.1 L743.1,582.3 L751.3,583.2 L759.6,584.0 L767.8,583.6 L776.0,583.6 L784.2,583.2 L792.4,583.1 L800.6,583.2 L808.9,582.8 L817.1,583.2 L825.3,582.6 L833.5,582.2 L841.7,581.6 L849.9,580.2 L858.1,580.8 L866.4,581.5 L874.6,581.9 L882.8,583.3 L891.0,583.0"/>
<path d="M168.1,565.3 L176.3,570.0 L184.5,573.7 L192.7,574.8 L200.9,575.6 L209.2,575.5 L217.4,575.6 L225.6,576.4 L233.8,577.7 L242.0,578.2 L250.2,579.0 L258.4,578.8 L266.7,577.6 L274.9,577.9 L283.1,578.5 L291.3,579.3 L299.5,580.6 L307.7,581.1 L316.0,581.7 L324.2,581.9 L332.4,582.5 L340.6,583.6 L348.8,583.7 L357.0,584.2 L365.2,584.0 L373.5,584.5 L381.7,585.8 L389.9,586.6 L398.1,586.3 L406.3,585.3 L414.5,584.3 L422.7,583.0 L431.0,583.1 L439.2,582.9 L447.4,583.2 L455.6,583.0 L463.8,582.7 L472.0,583.7 L480.2,583.4 L488.5,583.5 L496.7,583.1 L504.9,582.8 L513.1,583.0 L521.3,583.6 L529.5,585.0 L537.8,584.9 L546.0,585.0 L554.2,585.8 L562.4,585.3 L570.6,585.5 L578.8,585.9 L587.0,585.7 L595.3,585.5 L603.5,584.8 L611.7,584.5 L619.9,584.3 L628.1,585.6 L636.3,586.1 L644.5,585.2 L652.8,584.9 L661.0,583.4 L669.2,583.3 L677.4,584.4 L685.6,584.6 L693.8,584.5 L702.1,584.2 L710.3,584.3 L718.5,584.7 L726.7,584.9 L734.9,585.1 L743.1,584.0 L751.3,584.0 L759.6,585.2 L767.8,585.3 L776.0,586.7 L784.2,586.5 L792.4,585.8 L800.6,585.8 L808.9,584.2 L817.1,583.6 L825.3,583.6 L833.5,583.9 L841.7,584.4 L849.9,584.7 L858.1,585.2 L866.4,584.7 L874.6,585.7 L882.8,585.4 L891.0,584.0"/>
<path d="M168.1,581.6 L176.3,579.0 L184.5,577.2 L192.7,576.3 L200.9,574.8 L209.2,574.8 L217.4,575.2 L225.6,575.3 L233.8,575.4 L242.0,575.3 L250.2,574.7 L258.4,575.1 L266.7,575.6 L274.9,577.0 L283.1,577.2 L291.3,577.5 L299.5,578.1 L307.7,578.2 L316.0,579.1 L324.2,578.5 L332.4,578.9 L340.6,577.9 L348.8,577.7 L357.0,578.9 L365.2,579.0 L373.5,580.6 L381.7,580.7 L389.9,580.6 L398.1,580.4 L406.3,579.8 L414.5,580.7 L422.7,581.4 L431.0,581.8 L439.2,581.7 L447.4,580.3 L455.6,579.1 L463.8,578.8 L472.0,578.9 L480.2,579.9 L488.5,579.7 L496.7,579.7 L504.9,579.8 L513.1,579.2 L521.3,581.1 L529.5,580.8 L537.8,579.8 L546.0,580.0 L554.2,578.5 L562.4,578.7 L570.6,579.4 L578.8,579.6 L587.0,580.2 L595.3,580.6 L603.5,581.0 L611.7,580.9 L619.9,580.2 L628.1,579.4 L636.3,578.9 L644.5,579.1 L652.8,579.4 L661.0,579.9 L669.2,580.1 L677.4,580.5 L685.6,581.3 L693.8,580.7 L702.1,581.0 L710.3,580.7 L718.5,579.7 L726.7,581.6 L734.9,581.4 L743.1,581.1 L751.3,581.8 L759.6,580.1 L767.8,580.5 L776.0,580.6 L784.2,580.4 L792.4,580.4 L800.6,580.3 L808.9,580.1 L817.1,580.5 L825.3,581.0 L833.5,580.4 L841.7,580.9 L849.9,579.9 L858.1,579.8 L866.4,579.6 L874.6,579.7 L882.8,580.4 L891.0,580.5"/>
<path d="M168.1,573.1 L176.3,573.2 L184.5,573.6 L192.7,575.4 L200.9,575.4 L209.2,576.3 L217.4,576.3 L225.6,575.7 L233.8,575.5 L242.0,574.9 L250.2,575.0 L258.4,574.5 L266.7,575.3 L274.9,575.8 L283.1,575.9 L291.3,576.4 L299.5,575.4 L307.7,575.6 L316.0,575.6 L324.2,575.9 L332.4,576.8 L340.6,577.4 L348.8,577.9 L357.0,578.3 L365.2,577.4 L373.5,577.3 L381.7,577.2 L389.9,576.2 L398.1,576.8 L406.3,576.9 L414.5,577.5 L422.7,577.5 L431.0,578.4 L439.2,578.1 L447.4,577.3 L455.6,578.7 L463.8,578.5 L472.0,579.0 L480.2,579.8 L488.5,578.7 L496.7,578.8 L504.9,578.7 L513.1,578.0 L521.3,577.8 L529.5,577.5 L537.8,577.6 L546.0,578.7 L554.2,579.0 L562.4,578.8 L570.6,578.1 L578.8,577.4 L587.0,577.4 L595.3,578.1 L603.5,578.1 L611.7,579.0 L619.9,578.5 L628.1,578.5 L636.3,578.9 L644.5,578.6 L652.8,578.7 L661.0,578.1 L669.2,577.7 L677.4,576.9 L685.6,577.9 L693.8,578.3 L702.1,579.1 L710.3,579.8 L718.5,579.0 L726.7,578.4 L734.9,577.6 L743.1,577.6 L751.3,578.4 L759.6,578.1 L767.8,578.2 L776.0,577.7 L784.2,577.3 L792.4,577.6 L800.6,577.2 L808.9,577.4 L817.1,577.6 L825.3,578.5 L833.5,579.2 L841.7,579.5 L849.9,580.0 L858.1,579.2 L866.4,579.0 L874.6,578.5 L882.8,578.5 L891.0,579.0"/>
<path d="M168.1,568.7 L176.3,570.0 L184.5,570.1 L192.7,570.9 L200.9,570.9 L209.2,572.4 L217.4,573.6 L225.6,574.6 L233.8,574.5 L242.0,574.8 L250.2,574.8 L258.4,574.5 L266.7,574.7 L274.9,573.2 L283.1,573.8 L291.3,574.0 L299.5,573.3 L307.7,573.4 L316.0,573.2 L324.2,573.2 L332.4,573.8 L340.6,575.1 L348.8,574.5 L357.0,574.3 L365.2,574.5 L373.5,575.0 L381.7,575.3 L389.9,575.1 L398.1,574.4 L406.3,572.7 L414.5,572.5 L422.7,572.3 L431.0,572.6 L439.2,572.6 L447.4,574.3 L455.6,575.0 L463.8,575.2 L472.0,574.8 L480.2,574.1 L488.5,574.2 L496.7,574.7 L504.9,575.5 L513.1,574.9 L521.3,574.2 L529.5,573.1 L537.8,572.8 L546.0,573.5 L554.2,573.8 L562.4,574.0 L570.6,573.8 L578.8,573.0 L587.0,573.2 L595.3,573.8 L603.5,574.4 L611.7,574.2 L619.9,573.2 L628.1,572.9 L636.3,573.0 L644.5,573.4 L652.8,574.1 L661.0,574.8 L669.2,575.3 L677.4,574.4 L685.6,574.7 L693.8,573.0 L702.1,572.7 L710.3,573.5 L718.5,573.5 L726.7,574.7 L734.9,574.4 L743.1,574.8 L751.3,574.4 L759.6,574.2 L767.8,574.7 L776.0,573.9 L784.2,574.8 L792.4,574.9 L800.6,574.3 L808.9,574.5 L817.1,573.6 L825.3,573.3 L833.5,572.6 L841.7,572.7 L849.9,572.8 L858.1,573.2 L866.4,573.9 L874.6,573.8 L882.8,572.9 L891.0,572.5"/>
<path d="M168.1,575.9 L176.3,577.4 L184.5,576.7 L192.7,576.9 L200.9,577.6 L209.2,577.0 L217.4,577.0 L225.6,576.0 L233.8,576.1 L242.0,575.3 L250.2,575.7 L258.4,577.0 L266.7,577.4 L274.9,578.1 L283.1,578.9 L291.3,578.9 L299.5,578.5 L307.7,578.8 L316.0,579.5 L324.2,579.1 L332.4,579.5 L340.6,579.8 L348.8,579.3 L357.0,580.7 L365.2,581.3 L373.5,582.2 L381.7,583.0 L389.9,581.6 L398.1,581.8 L406.3,580.8 L414.5,580.7 L422.7,581.5 L431.0,580.9 L439.2,581.3 L447.4,581.9 L455.6,581.7 L463.8,582.4 L472.0,582.8 L480.2,582.0 L488.5,582.4 L496.7,583.0 L504.9,582.9 L513.1,583.1 L521.3,583.1 L529.5,582.8 L537.8,582.8 L546.0,582.7 L554.2,582.6 L562.4,581.6 L570.6,581.6 L578.8,581.6 L587.0,582.1 L595.3,582.7 L603.5,581.5 L611.7,582.5 L619.9,581.4 L628.1,581.2 L636.3,582.3 L644.5,581.5 L652.8,581.8 L661.0,582.6 L669.2,581.9 L677.4,581.6 L685.6,581.1 L693.8,580.2 L702.1,580.5 L710.3,580.4 L718.5,580.8 L726.7,580.3 L734.9,580.5 L743.1,580.7 L751.3,581.1 L759.6,581.9 L767.8,581.5 L776.0,581.9 L784.2,581.2 L792.4,581.1 L800.6,582.3 L808.9,581.7 L817.1,582.1 L825.3,582.2 L833.5,581.0 L841.7,581.2 L849.9,581.7 L858.1,581.5 L866.4,582.3 L874.6,582.8 L882.8,581.6 L891.0,582.7"/>
<path d="M168.1,564.0 L176.3,566.9 L184.5,569.3 L192.7,571.5 L200.9,571.5 L209.2,572.3 L217.4,573.1 L225.6,572.0 L233.8,573.3 L242.0,574.1 L250.2,574.1 L258.4,575.2 L266.7,575.9 L274.9,575.2 L283.1,575.0 L291.3,574.5 L299.5,572.9 L307.7,573.5 L316.0,573.3 L324.2,573.6 L332.4,574.0 L340.6,573.4 L348.8,573.4 L357.0,573.0 L365.2,573.0 L373.5,572.9 L381.7,573.0 L389.9,573.4 L398.1,573.2 L406.3,572.8 L414.5,573.3 L422.7,573.1 L431.0,573.7 L439.2,574.6 L447.4,574.6 L455.6,574.7 L463.8,574.8 L472.0,574.3 L480.2,574.4 L488.5,573.9 L496.7,573.4 L504.9,573.7 L513.1,572.9 L521.3,573.7 L529.5,574.1 L537.8,574.4 L546.0,575.2 L554.2,576.1 L562.4,576.0 L570.6,575.5 L578.8,575.9 L587.0,575.0 L595.3,574.4 L603.5,574.3 L611.7,573.4 L619.9,573.0 L628.1,573.2 L636.3,574.2 L644.5,575.5 L652.8,575.4 L661.0,575.5 L669.2,574.6 L677.4,573.8 L685.6,573.6 L693.8,573.8 L702.1,574.5 L710.3,573.9 L718.5,573.8 L726.7,574.0 L734.9,573.2 L743.1,573.7 L751.3,574.6 L759.6,574.6 L767.8,574.7 L776.0,574.6 L784.2,574.2 L792.4,574.2 L800.6,574.2 L808.9,574.2 L817.1,574.1 L825.3,574.1 L833.5,574.0 L841.7,573.3 L849.9,573.2 L858.1,573.0 L866.4,572.8 L874.6,574.1 L882.8,573.4 L891.0,573.6"/>
<path d="M168.1,571.3 L176.3,571.1 L184.5,571.9 L192.7,573.0 L200.9,571.3 L209.2,571.9 L217.4,570.9 L225.6,571.5 L233.8,573.2 L242.0,573.5 L250.2,574.4 L258.4,573.3 L266.7,572.3 L274.9,570.7 L283.1,570.0 L291.3,570.0 L299.5,570.2 L307.7,570.4 L316.0,569.4 L324.2,569.3 L332.4,569.5 L340.6,569.4 L348.8,569.1 L357.0,568.8 L365.2,568.4 L373.5,568.4 L381.7,568.2 L389.9,568.4 L398.1,568.0 L406.3,567.4 L414.5,567.8 L422.7,566.9 L431.0,567.2 L439.2,567.6 L447.4,567.8 L455.6,568.6 L463.8,568.1 L472.0,568.8 L480.2,569.3 L488.5,569.1 L496.7,570.0 L504.9,569.7 L513.1,569.2 L521.3,569.3 L529.5,568.5 L537.8,568.2 L546.0,568.3 L554.2,568.1 L562.4,568.8 L570.6,568.3 L578.8,568.5 L587.0,567.6 L595.3,567.3 L603.5,567.7 L611.7,567.5 L619.9,568.4 L628.1,568.8 L636.3,568.5 L644.5,568.3 L652.8,568.5 L661.0,568.0 L669.2,568.2 L677.4,568.9 L685.6,568.6 L693.8,568.6 L702.1,568.8 L710.3,568.5 L718.5,569.2 L726.7,568.5 L734.9,568.3 L743.1,567.7 L751.3,566.6 L759.6,567.8 L767.8,567.6 L776.0,568.0 L784.2,569.0 L792.4,569.1 L800.6,569.6 L808.9,569.4 L817.1,569.4 L825.3,569.1 L833.5,568.0 L841.7,567.7 L849.9,566.8 L858.1,566.1 L866.4,567.4 L874.6,568.0 L882.8,568.5 L891.0,569.4"/>
<path d="M168.1,562.6 L176.3,566.2 L184.5,568.1 L192.7,569.9 L200.9,571.3 L209.2,571.3 L217.4,571.8 L225.6,571.9 L233.8,572.4 L242.0,573.5 L250.2,573.7 L258.4,573.6 L266.7,573.5 L274.9,572.9 L283.1,573.1 L291.3,572.7 L299.5,572.0 L307.7,572.7 L316.0,572.2 L324.2,572.6 L332.4,573.0 L340.6,571.8 L348.8,572.0 L357.0,571.5 L365.2,571.4 L373.5,571.8 L381.7,571.6 L389.9,571.7 L398.1,571.0 L406.3,571.2 L414.5,571.9 L422.7,572.0 L431.0,572.6 L439.2,573.2 L447.4,572.4 L455.6,573.4 L463.8,573.0 L472.0,572.6 L480.2,572.3 L488.5,570.9 L496.7,570.7 L504.9,570.4 L513.1,571.8 L521.3,572.4 L529.5,573.2 L537.8,573.4 L546.0,572.5 L554.2,572.4 L562.4,572.2 L570.6,572.3 L578.8,572.5 L587.0,572.6 L595.3,571.3 L603.5,571.5 L611.7,571.7 L619.9,571.5 L628.1,572.5 L636.3,571.9 L644.5,570.7 L652.8,571.2 L661.0,570.4 L669.2,570.6 L677.4,571.7 L685.6,571.6 L693.8,571.7 L702.1,572.6 L710.3,572.7 L718.5,571.7 L726.7,573.3 L734.9,573.0 L743.1,572.1 L751.3,572.7 L759.6,571.8 L767.8,571.2 L776.0,572.6 L784.2,573.2 L792.4,572.7 L800.6,573.3 L808.9,573.4 L817.1,571.8 L825.3,572.1 L833.5,571.5 L841.7,570.4 L849.9,571.5 L858.1,571.7 L866.4,572.1 L874.6,573.2 L882.8,573.6 L891.0,572.9"/>
<path d="M168.1,580.3 L176.3,578.5 L184.5,576.9 L192.7,576.0 L200.9,575.9 L209.2,575.9 L217.4,576.2 L225.6,576.0 L233.8,575.5 L242.0,574.7 L250.2,574.3 L258.4,573.8 L266.7,574.4 L274.9,574.6 L283.1,574.7 L291.3,575.8 L299.5,575.2 L307.7,575.9 L316.0,576.1 L324.2,575.4 L332.4,575.3 L340.6,574.9 L348.8,575.2 L357.0,574.8 L365.2,575.5 L373.5,575.0 L381.7,575.1 L389.9,575.5 L398.1,576.4 L406.3,577.7 L414.5,577.7 L422.7,578.0 L431.0,577.9 L439.2,577.4 L447.4,577.9 L455.6,578.8 L463.8,578.4 L472.0,578.3 L480.2,578.8 L488.5,577.5 L496.7,577.9 L504.9,578.2 L513.1,577.5 L521.3,578.1 L529.5,578.0 L537.8,577.6 L546.0,578.0 L554.2,577.9 L562.4,578.1 L570.6,577.3 L578.8,577.1 L587.0,576.0 L595.3,575.4 L603.5,575.2 L611.7,575.1 L619.9,575.9 L628.1,576.1 L636.3,575.6 L644.5,576.2 L652.8,576.3 L661.0,575.7 L669.2,577.9 L677.4,578.4 L685.6,577.5 L693.8,578.3 L702.1,577.4 L710.3,577.0 L718.5,577.4 L726.7,576.9 L734.9,576.6 L743.1,575.5 L751.3,575.9 L759.6,576.5 L767.8,576.7 L776.0,577.0 L784.2,577.7 L792.4,576.8 L800.6,576.4 L808.9,575.8 L817.1,575.1 L825.3,576.4 L833.5,577.6 L841.7,578.2 L849.9,577.7 L858.1,576.5 L866.4,575.6 L874.6,576.2 L882.8,576.7 L891.0,577.3"/>
<path d="M168.1,565.5 L176.3,569.4 L184.5,570.9 L192.7,573.1 L200.9,573.9 L209.2,574.1 L217.4,574.1 L225.6,574.7 L233.8,574.4 L242.0,574.3 L250.2,574.8 L258.4,574.7 L266.7,574.4 L274.9,574.8 L283.1,575.2 L291.3,575.5 L299.5,576.6 L307.7,577.0 L316.0,577.5 L324.2,578.0 L332.4,578.6 L340.6,578.2 L348.8,577.9 L357.0,577.5 L365.2,577.3 L373.5,578.0 L381.7,578.3 L389.9,578.8 L398.1,579.4 L406.3,578.5 L414.5,578.5 L422.7,578.1 L431.0,576.7 L439.2,577.3 L447.4,576.7 L455.6,577.1 L463.8,578.5 L472.0,579.0 L480.2,579.3 L488.5,578.6 L496.7,578.0 L504.9,578.2 L513.1,578.9 L521.3,578.9 L529.5,578.7 L537.8,578.4 L546.0,578.0 L554.2,577.2 L562.4,577.5 L570.6,577.7 L578.8,577.8 L587.0,578.7 L595.3,577.9 L603.5,577.2 L611.7,577.6 L619.9,577.9 L628.1,578.1 L636.3,578.5 L644.5,577.4 L652.8,577.9 L661.0,578.4 L669.2,578.2 L677.4,579.1 L685.6,578.5 L693.8,578.1 L702.1,578.2 L710.3,578.0 L718.5,577.9 L726.7,577.8 L734.9,577.1 L743.1,577.0 L751.3,577.4 L759.6,577.5 L767.8,577.5 L776.0,576.6 L784.2,576.3 L792.4,576.6 L800.6,577.0 L808.9,578.1 L817.1,576.9 L825.3,576.9 L833.5,577.0 L841.7,576.7 L849.9,578.0 L858.1,578.5 L866.4,579.0 L874.6,579.4 L882.8,579.8 L891.0,579.3"/>
<path d="M168.1,565.7 L176.3,568.6 L184.5,570.2 L192.7,572.2 L200.9,572.4 L209.2,572.5 L217.4,573.9 L225.6,573.7 L233.8,573.9 L242.0,574.2 L250.2,573.8 L258.4,573.7 L266.7,573.7 L274.9,573.8 L283.1,573.7 L291.3,573.5 L299.5,573.9 L307.7,573.6 L316.0,573.5 L324.2,573.5 L332.4,574.3 L340.6,574.4 L348.8,574.1 L357.0,573.6 L365.2,573.5 L373.5,573.4 L381.7,574.4 L389.9,574.3 L398.1,573.2 L406.3,573.7 L414.5,573.1 L422.7,574.2 L431.0,575.1 L439.2,573.7 L447.4,573.9 L455.6,574.0 L463.8,573.6 L472.0,574.4 L480.2,574.1 L488.5,574.0 L496.7,574.4 L504.9,574.4 L513.1,574.6 L521.3,574.2 L529.5,573.3 L537.8,573.4 L546.0,573.7 L554.2,573.6 L562.4,574.6 L570.6,574.9 L578.8,574.0 L587.0,573.5 L595.3,572.7 L603.5,572.2 L611.7,572.6 L619.9,573.5 L628.1,574.5 L636.3,574.2 L644.5,574.3 L652.8,575.2 L661.0,574.3 L669.2,574.7 L677.4,574.7 L685.6,573.4 L693.8,573.6 L702.1,574.0 L710.3,573.0 L718.5,572.9 L726.7,573.4 L734.9,573.4 L743.1,573.8 L751.3,574.5 L759.6,574.4 L767.8,574.4 L776.0,575.9 L784.2,576.3 L792.4,576.3 L800.6,576.5 L808.9,575.8 L817.1,574.8 L825.3,575.4 L833.5,574.7 L841.7,574.6 L849.9,575.2 L858.1,574.2 L866.4,574.9 L874.6,575.5 L882.8,575.2 L891.0,575.6"/>
<path d="M168.1,562.8 L176.3,566.0 L184.5,568.6 L192.7,571.1 L200.9,572.0 L209.2,573.5 L217.4,574.7 L225.6,575.2 L233.8,575.2 L242.0,575.4 L250.2,574.8 L258.4,574.8 L266.7,575.2 L274.9,575.4 L283.1,575.8 L291.3,576.3 L299.5,575.7 L307.7,575.6 L316.0,575.8 L324.2,576.6 L332.4,577.7 L340.6,577.3 L348.8,577.5 L357.0,576.7 L365.2,577.1 L373.5,578.2 L381.7,578.5 L389.9,579.4 L398.1,579.4 L406.3,578.2 L414.5,578.4 L422.7,578.1 L431.0,577.4 L439.2,578.2 L447.4,578.3 L455.6,578.1 L463.8,578.7 L472.0,579.2 L480.2,578.9 L488.5,578.9 L496.7,579.0 L504.9,578.9 L513.1,578.4 L521.3,577.7 L529.5,577.4 L537.8,578.3 L546.0,578.9 L554.2,580.3 L562.4,580.6 L570.6,580.2 L578.8,579.4 L587.0,578.8 L595.3,578.0 L603.5,578.2 L611.7,578.3 L619.9,578.2 L628.1,578.4 L636.3,577.5 L644.5,578.4 L652.8,579.5 L661.0,580.1 L669.2,580.9 L677.4,581.0 L685.6,580.7 L693.8,580.7 L702.1,578.8 L710.3,578.3 L718.5,577.5 L726.7,577.1 L734.9,578.2 L743.1,578.9 L751.3,578.7 L759.6,578.7 L767.8,579.2 L776.0,578.2 L784.2,577.9 L792.4,578.0 L800.6,577.1 L808.9,577.8 L817.1,578.2 L825.3,578.4 L833.5,579.1 L841.7,578.6 L849.9,578.3 L858.1,577.8 L866.4,577.1 L874.6,577.1 L882.8,577.4 L891.0,576.1"/>
<path d="M168.1,578.7 L176.3,577.5 L184.5,577.4 L192.7,576.7 L200.9,576.1 L209.2,576.9 L217.4,577.0 L225.6,578.2 L233.8,577.9 L242.0,577.4 L250.2,578.0 L258.4,577.8 L266.7,579.3 L274.9,579.8 L283.1,579.4 L291.3,580.1 L299.5,580.0 L307.7,580.5 L316.0,581.4 L324.2,581.1 L332.4,582.6 L340.6,583.1 L348.8,584.3 L357.0,585.7 L365.2,584.9 L373.5,584.6 L381.7,584.9 L389.9,584.1 L398.1,585.0 L406.3,585.6 L414.5,585.2 L422.7,586.0 L431.0,585.1 L439.2,584.8 L447.4,585.1 L455.6,585.0 L463.8,585.0 L472.0,585.0 L480.2,584.6 L488.5,583.7 L496.7,584.0 L504.9,584.2 L513.1,584.6 L521.3,585.0 L529.5,585.0 L537.8,584.3 L546.0,583.6 L554.2,583.9 L562.4,584.6 L570.6,585.9 L578.8,586.5 L587.0,586.7 L595.3,586.6 L603.5,586.4 L611.7,586.4 L619.9,586.6 L628.1,586.7 L636.3,586.2 L644.5,586.2 L652.8,585.6 L661.0,584.4 L669.2,585.0 L677.4,584.9 L685.6,584.0 L693.8,583.9 L702.1,583.0 L710.3,583.7 L718.5,584.9 L726.7,585.6 L734.9,586.7 L743.1,586.5 L751.3,585.5 L759.6,586.4 L767.8,586.3 L776.0,586.2 L784.2,585.7 L792.4,584.9 L800.6,584.8 L808.9,584.9 L817.1,586.3 L825.3,585.7 L833.5,585.5 L841.7,584.8 L849.9,584.9 L858.1,584.9 L866.4,583.9 L874.6,584.0 L882.8,583.9 L891.0,585.1"/>
<path d="M168.1,569.6 L176.3,571.7 L184.5,573.6 L192.7,573.7 L200.9,573.7 L209.2,574.3 L217.4,573.8 L225.6,574.3 L233.8,574.3 L242.0,574.8 L250.2,575.7 L258.4,575.8 L266.7,577.5 L274.9,577.5 L283.1,577.9 L291.3,579.1 L299.5,578.2 L307.7,578.6 L316.0,578.0 L324.2,578.8 L332.4,579.4 L340.6,579.8 L348.8,581.9 L357.0,582.2 L365.2,582.0 L373.5,582.6 L381.7,581.9 L389.9,581.5 L398.1,582.2 L406.3,580.7 L414.5,580.6 L422.7,580.2 L431.0,578.8 L439.2,579.0 L447.4,578.6 L455.6,578.8 L463.8,579.8 L472.0,579.9 L480.2,580.6 L488.5,580.4 L496.7,580.5 L504.9,581.3 L513.1,581.8 L521.3,581.2 L529.5,581.1 L537.8,580.8 L546.0,580.2 L554.2,581.3 L562.4,581.0 L570.6,580.6 L578.8,580.4 L587.0,579.6 L595.3,580.2 L603.5,580.9 L611.7,580.6 L619.9,580.8 L628.1,580.5 L636.3,580.9 L644.5,580.8 L652.8,580.6 L661.0,580.6 L669.2,579.5 L677.4,579.9 L685.6,580.8 L693.8,581.0 L702.1,581.6 L710.3,582.2 L718.5,580.9 L726.7,581.8 L734.9,581.8 L743.1,580.7 L751.3,581.5 L759.6,580.0 L767.8,579.8 L776.0,579.7 L784.2,580.0 L792.4,580.2 L800.6,580.3 L808.9,580.6 L817.1,580.3 L825.3,579.8 L833.5,579.9 L841.7,580.0 L849.9,580.3 L858.1,581.9 L866.4,582.3 L874.6,582.6 L882.8,582.5 L891.0,582.0"/>
<path d="M168.1,563.9 L176.3,567.1 L184.5,569.9 L192.7,571.3 L200.9,573.1 L209.2,574.7 L217.4,576.2 L225.6,577.1 L233.8,576.9 L242.0,575.8 L250.2,575.9 L258.4,576.2 L266.7,576.8 L274.9,577.1 L283.1,576.8 L291.3,577.4 L299.5,577.0 L307.7,577.9 L316.0,577.3 L324.2,577.2 L332.4,577.6 L340.6,577.4 L348.8,578.1 L357.0,578.7 L365.2,579.8 L373.5,579.6 L381.7,581.3 L389.9,581.6 L398.1,580.6 L406.3,580.8 L414.5,579.3 L422.7,579.1 L431.0,581.0 L439.2,582.1 L447.4,583.0 L455.6,581.2 L463.8,580.4 L472.0,579.7 L480.2,579.2 L488.5,579.9 L496.7,579.0 L504.9,578.8 L513.1,578.2 L521.3,579.0 L529.5,579.0 L537.8,578.8 L546.0,579.9 L554.2,579.9 L562.4,580.5 L570.6,580.9 L578.8,580.4 L587.0,580.5 L595.3,580.2 L603.5,580.4 L611.7,580.7 L619.9,580.1 L628.1,580.0 L636.3,579.6 L644.5,579.6 L652.8,580.7 L661.0,581.4 L669.2,581.1 L677.4,579.7 L685.6,578.2 L693.8,577.7 L702.1,577.9 L710.3,579.1 L718.5,579.7 L726.7,579.6 L734.9,580.0 L743.1,579.6 L751.3,578.6 L759.6,579.1 L767.8,578.9 L776.0,578.9 L784.2,580.4 L792.4,579.9 L800.6,579.9 L808.9,580.8 L817.1,579.7 L825.3,580.6 L833.5,580.1 L841.7,579.3 L849.9,579.8 L858.1,578.8 L866.4,578.4 L874.6,578.0 L882.8,578.3 L891.0,578.2"/>
<path d="M168.1,570.8 L176.3,570.7 L184.5,571.1 L192.7,570.8 L200.9,571.1 L209.2,571.5 L217.4,571.2 L225.6,571.3 L233.8,571.2 L242.0,571.2 L250.2,570.5 L258.4,569.1 L266.7,568.6 L274.9,567.9 L283.1,567.7 L291.3,568.8 L299.5,568.5 L307.7,568.3 L316.0,568.5 L324.2,568.2 L332.4,567.5 L340.6,567.0 L348.8,566.1 L357.0,563.4 L365.2,563.2 L373.5,563.1 L381.7,562.4 L389.9,564.4 L398.1,564.3 L406.3,563.8 L414.5,563.9 L422.7,563.4 L431.0,563.1 L439.2,562.5 L447.4,562.3 L455.6,563.2 L463.8,563.7 L472.0,564.2 L480.2,564.5 L488.5,563.4 L496.7,563.2 L504.9,562.8 L513.1,562.6 L521.3,562.3 L529.5,561.0 L537.8,562.0 L546.0,563.3 L554.2,563.8 L562.4,564.5 L570.6,565.7 L578.8,564.5 L587.0,564.5 L595.3,565.0 L603.5,563.8 L611.7,564.8 L619.9,564.7 L628.1,564.6 L636.3,564.1 L644.5,563.6 L652.8,563.9 L661.0,564.1 L669.2,564.3 L677.4,564.7 L685.6,565.7 L693.8,565.5 L702.1,565.4 L710.3,564.2 L718.5,563.5 L726.7,563.3 L734.9,563.9 L743.1,564.6 L751.3,563.8 L759.6,564.0 L767.8,563.8 L776.0,563.9 L784.2,564.0 L792.4,563.3 L800.6,563.7 L808.9,563.5 L817.1,563.7 L825.3,562.8 L833.5,562.7 L841.7,562.2 L849.9,562.8 L858.1,565.0 L866.4,564.7 L874.6,564.8 L882.8,563.9 L891.0,562.5"/>
<path d="M168.1,565.1 L176.3,568.6 L184.5,570.2 L192.7,572.4 L200.9,573.6 L209.2,573.2 L217.4,573.9 L225.6,573.5 L233.8,574.9 L242.0,575.4 L250.2,574.9 L258.4,575.3 L266.7,574.4 L274.9,574.1 L283.1,573.6 L291.3,573.8 L299.5,574.2 L307.7,574.6 L316.0,576.1 L324.2,575.9 L332.4,576.4 L340.6,576.8 L348.8,576.9 L357.0,578.0 L365.2,577.7 L373.5,578.2 L381.7,578.5 L389.9,578.1 L398.1,578.6 L406.3,578.1 L414.5,577.3 L422.7,577.0 L431.0,575.8 L439.2,575.9 L447.4,576.3 L455.6,576.4 L463.8,577.4 L472.0,578.0 L480.2,577.6 L488.5,578.1 L496.7,578.3 L504.9,577.8 L513.1,578.0 L521.3,577.9 L529.5,578.5 L537.8,578.3 L546.0,578.2 L554.2,577.9 L562.4,576.1 L570.6,576.5 L578.8,575.8 L587.0,575.8 L595.3,576.9 L603.5,575.6 L611.7,576.5 L619.9,576.2 L628.1,576.4 L636.3,576.8 L644.5,576.2 L652.8,576.8 L661.0,575.6 L669.2,576.7 L677.4,576.1 L685.6,576.7 L693.8,577.2 L702.1,576.6 L710.3,579.0 L718.5,578.3 L726.7,578.6 L734.9,579.1 L743.1,578.0 L751.3,578.8 L759.6,578.2 L767.8,578.2 L776.0,578.1 L784.2,576.7 L792.4,576.4 L800.6,576.6 L808.9,576.2 L817.1,576.2 L825.3,576.6 L833.5,576.4 L841.7,576.8 L849.9,577.3 L858.1,577.4 L866.4,576.5 L874.6,576.9 L882.8,576.6 L891.0,576.6"/>
<path d="M168.1,579.6 L176.3,577.5 L184.5,577.6 L192.7,576.6 L200.9,574.4 L209.2,574.7 L217.4,573.2 L225.6,573.6 L233.8,575.1 L242.0,575.7 L250.2,576.2 L258.4,576.3 L266.7,576.7 L274.9,575.5 L283.1,575.4 L291.3,575.3 L299.5,573.8 L307.7,574.5 L316.0,575.0 L324.2,575.8 L332.4,577.4 L340.6,576.5 L348.8,576.5 L357.0,576.2 L365.2,575.8 L373.5,576.5 L381.7,576.8 L389.9,576.0 L398.1,575.7 L406.3,575.8 L414.5,575.4 L422.7,574.8 L431.0,574.7 L439.2,575.8 L447.4,575.4 L455.6,576.7 L463.8,576.8 L472.0,575.5 L480.2,575.8 L488.5,575.5 L496.7,575.8 L504.9,575.0 L513.1,575.2 L521.3,576.4 L529.5,576.1 L537.8,577.7 L546.0,578.3 L554.2,577.6 L562.4,578.6 L570.6,578.0 L578.8,577.7 L587.0,577.5 L595.3,576.6 L603.5,576.9 L611.7,577.2 L619.9,577.8 L628.1,577.9 L636.3,577.9 L644.5,578.5 L652.8,578.0 L661.0,577.6 L669.2,577.5 L677.4,576.4 L685.6,575.3 L693.8,575.9 L702.1,575.2 L710.3,576.0 L718.5,576.8 L726.7,576.6 L734.9,577.6 L743.1,577.0 L751.3,577.8 L759.6,578.5 L767.8,577.8 L776.0,577.6 L784.2,576.7 L792.4,576.3 L800.6,575.7 L808.9,576.1 L817.1,576.5 L825.3,576.4 L833.5,576.5 L841.7,576.3 L849.9,576.2 L858.1,575.4 L866.4,575.8 L874.6,576.3 L882.8,576.1 L891.0,576.9"/>
<path d="M168.1,581.0 L176.3,579.9 L184.5,577.6 L192.7,577.9 L200.9,577.0 L209.2,576.3 L217.4,576.6 L225.6,575.6 L233.8,575.4 L242.0,575.3 L250.2,576.0 L258.4,576.0 L266.7,576.7 L274.9,578.0 L283.1,577.6 L291.3,578.2 L299.5,579.3 L307.7,579.0 L316.0,579.7 L324.2,580.6 L332.4,581.1 L340.6,580.7 L348.8,580.7 L357.0,581.1 L365.2,581.2 L373.5,581.8 L381.7,582.5 L389.9,582.1 L398.1,581.7 L406.3,582.1 L414.5,581.6 L422.7,580.6 L431.0,580.8 L439.2,581.2 L447.4,581.3 L455.6,581.4 L463.8,580.6 L472.0,579.8 L480.2,579.3 L488.5,580.2 L496.7,580.9 L504.9,580.6 L513.1,581.4 L521.3,581.0 L529.5,580.5 L537.8,581.2 L546.0,580.6 L554.2,580.3 L562.4,579.9 L570.6,580.0 L578.8,580.2 L587.0,580.8 L595.3,582.0 L603.5,582.1 L611.7,581.9 L619.9,581.2 L628.1,581.1 L636.3,580.7 L644.5,581.4 L652.8,582.5 L661.0,581.5 L669.2,581.7 L677.4,581.8 L685.6,581.7 L693.8,582.9 L702.1,582.2 L710.3,582.8 L718.5,582.9 L726.7,583.0 L734.9,583.4 L743.1,582.2 L751.3,581.9 L759.6,580.9 L767.8,581.0 L776.0,581.7 L784.2,581.8 L792.4,582.4 L800.6,581.9 L808.9,581.0 L817.1,581.0 L825.3,581.2 L833.5,581.5 L841.7,582.2 L849.9,581.5 L858.1,580.3 L866.4,580.1 L874.6,580.2 L882.8,581.3 L891.0,581.8"/>
<path d="M168.1,568.0 L176.3,569.9 L184.5,571.4 L192.7,572.4 L200.9,572.6 L209.2,573.9 L217.4,573.5 L225.6,573.7 L233.8,574.1 L242.0,574.4 L250.2,575.4 L258.4,576.1 L266.7,576.2 L274.9,576.9 L283.1,576.2 L291.3,576.0 L299.5,575.5 L307.7,574.5 L316.0,575.1 L324.2,575.2 L332.4,576.7 L340.6,576.7 L348.8,577.4 L357.0,578.1 L365.2,577.5 L373.5,577.6 L381.7,577.5 L389.9,576.9 L398.1,577.0 L406.3,576.7 L414.5,576.5 L422.7,576.9 L431.0,576.6 L439.2,577.5 L447.4,577.0 L455.6,577.2 L463.8,576.7 L472.0,576.5 L480.2,576.4 L488.5,577.0 L496.7,577.9 L504.9,577.4 L513.1,577.8 L521.3,577.1 L529.5,577.4 L537.8,577.6 L546.0,577.6 L554.2,577.4 L562.4,577.2 L570.6,577.8 L578.8,577.2 L587.0,576.6 L595.3,575.7 L603.5,575.0 L611.7,575.3 L619.9,576.0 L628.1,576.5 L636.3,576.6 L644.5,577.1 L652.8,577.6 L661.0,577.5 L669.2,578.1 L677.4,577.0 L685.6,576.6 L693.8,576.4 L702.1,575.8 L710.3,576.6 L718.5,576.3 L726.7,576.6 L734.9,576.4 L743.1,576.0 L751.3,575.5 L759.6,575.5 L767.8,575.5 L776.0,576.1 L784.2,576.2 L792.4,576.3 L800.6,576.5 L808.9,576.5 L817.1,577.6 L825.3,578.6 L833.5,577.5 L841.7,576.5 L849.9,576.4 L858.1,575.4 L866.4,577.3 L874.6,577.6 L882.8,577.0 L891.0,576.5"/>
<path d="M168.1,577.6 L176.3,575.2 L184.5,574.0 L192.7,574.9 L200.9,573.9 L209.2,572.9 L217.4,572.5 L225.6,571.0 L233.8,571.3 L242.0,572.6 L250.2,573.1 L258.4,572.3 L266.7,572.5 L274.9,573.3 L283.1,572.0 L291.3,573.4 L299.5,572.4 L307.7,570.6 L316.0,570.9 L324.2,570.5 L332.4,570.7 L340.6,570.8 L348.8,571.0 L357.0,570.9 L365.2,571.2 L373.5,571.1 L381.7,572.0 L389.9,571.0 L398.1,570.7 L406.3,571.4 L414.5,569.6 L422.7,569.7 L431.0,569.5 L439.2,568.9 L447.4,569.4 L455.6,569.6 L463.8,569.8 L472.0,569.7 L480.2,568.6 L488.5,568.0 L496.7,568.1 L504.9,568.1 L513.1,569.6 L521.3,570.3 L529.5,570.2 L537.8,569.7 L546.0,569.2 L554.2,569.0 L562.4,569.4 L570.6,569.9 L578.8,569.6 L587.0,569.9 L595.3,569.8 L603.5,569.8 L611.7,571.1 L619.9,570.9 L628.1,570.6 L636.3,570.0 L644.5,569.0 L652.8,569.2 L661.0,569.1 L669.2,569.5 L677.4,570.1 L685.6,569.5 L693.8,569.5 L702.1,568.9 L710.3,568.8 L718.5,569.9 L726.7,569.6 L734.9,569.9 L743.1,569.4 L751.3,569.9 L759.6,570.8 L767.8,570.7 L776.0,570.9 L784.2,570.3 L792.4,570.1 L800.6,570.8 L808.9,571.3 L817.1,570.8 L825.3,570.9 L833.5,570.6 L841.7,569.6 L849.9,569.7 L858.1,569.8 L866.4,568.5 L874.6,569.2 L882.8,569.5 L891.0,568.7"/>
<path d="M168.1,567.0 L176.3,569.1 L184.5,572.3 L192.7,573.5 L200.9,573.6 L209.2,574.2 L217.4,574.3 L225.6,574.6 L233.8,575.6 L242.0,575.4 L250.2,576.0 L258.4,576.3 L266.7,575.7 L274.9,577.2 L283.1,576.8 L291.3,575.8 L299.5,576.4 L307.7,576.5 L316.0,576.1 L324.2,577.6 L332.4,578.3 L340.6,578.8 L348.8,579.5 L357.0,579.9 L365.2,579.2 L373.5,579.0 L381.7,578.9 L389.9,578.4 L398.1,578.7 L406.3,578.4 L414.5,578.1 L422.7,578.4 L431.0,578.3 L439.2,577.9 L447.4,577.8 L455.6,576.3 L463.8,576.0 L472.0,576.3 L480.2,576.3 L488.5,577.5 L496.7,577.4 L504.9,577.6 L513.1,578.3 L521.3,579.4 L529.5,579.4 L537.8,579.9 L546.0,578.8 L554.2,578.3 L562.4,579.2 L570.6,579.0 L578.8,579.9 L587.0,579.3 L595.3,578.8 L603.5,578.7 L611.7,577.4 L619.9,578.6 L628.1,578.5 L636.3,578.0 L644.5,578.8 L652.8,577.0 L661.0,577.0 L669.2,577.9 L677.4,577.6 L685.6,578.9 L693.8,579.4 L702.1,578.5 L710.3,579.5 L718.5,579.3 L726.7,578.7 L734.9,579.4 L743.1,578.7 L751.3,579.2 L759.6,579.7 L767.8,580.0 L776.0,579.9 L784.2,578.9 L792.4,578.5 L800.6,577.7 L808.9,578.4 L817.1,578.0 L825.3,578.3 L833.5,578.5 L841.7,577.8 L849.9,579.0 L858.1,579.4 L866.4,578.3 L874.6,578.5 L882.8,578.5 L891.0,577.8"/>
<path d="M168.1,576.2 L176.3,575.0 L184.5,573.7 L192.7,573.0 L200.9,572.4 L209.2,572.1 L217.4,570.9 L225.6,570.1 L233.8,569.8 L242.0,569.5 L250.2,570.0 L258.4,571.1 L266.7,571.0 L274.9,570.7 L283.1,571.4 L291.3,570.1 L299.5,569.3 L307.7,568.5 L316.0,567.6 L324.2,566.9 L332.4,566.2 L340.6,566.3 L348.8,565.6 L357.0,564.7 L365.2,564.2 L373.5,563.2 L381.7,563.0 L389.9,563.2 L398.1,564.0 L406.3,565.4 L414.5,565.4 L422.7,566.1 L431.0,564.7 L439.2,563.4 L447.4,564.1 L455.6,563.0 L463.8,562.7 L472.0,562.5 L480.2,561.4 L488.5,561.1 L496.7,562.5 L504.9,562.2 L513.1,563.0 L521.3,563.8 L529.5,564.4 L537.8,564.6 L546.0,563.7 L554.2,563.5 L562.4,562.7 L570.6,563.1 L578.8,564.0 L587.0,565.5 L595.3,566.1 L603.5,566.1 L611.7,565.0 L619.9,564.2 L628.1,563.8 L636.3,563.7 L644.5,563.9 L652.8,563.4 L661.0,562.9 L669.2,563.2 L677.4,563.6 L685.6,563.4 L693.8,563.4 L702.1,562.7 L710.3,561.3 L718.5,561.4 L726.7,561.5 L734.9,562.0 L743.1,563.0 L751.3,563.2 L759.6,563.3 L767.8,563.6 L776.0,563.7 L784.2,563.2 L792.4,563.1 L800.6,561.8 L808.9,562.2 L817.1,562.1 L825.3,562.2 L833.5,563.8 L841.7,564.1 L849.9,563.7 L858.1,563.5 L866.4,562.3 L874.6,562.2 L882.8,562.9 L891.0,562.8"/>
<path d="M168.1,564.8 L176.3,567.1 L184.5,569.5 L192.7,571.3 L200.9,572.1 L209.2,573.9 L217.4,575.4 L225.6,575.0 L233.8,575.9 L242.0,575.9 L250.2,576.3 L258.4,576.6 L266.7,576.2 L274.9,576.1 L283.1,575.3 L291.3,575.5 L299.5,575.5 L307.7,576.1 L316.0,577.2 L324.2,576.5 L332.4,576.8 L340.6,575.9 L348.8,574.8 L357.0,575.8 L365.2,576.0 L373.5,576.6 L381.7,576.8 L389.9,576.6 L398.1,576.3 L406.3,576.3 L414.5,576.8 L422.7,577.4 L431.0,577.2 L439.2,577.8 L447.4,577.4 L455.6,577.0 L463.8,577.7 L472.0,577.9 L480.2,578.6 L488.5,578.6 L496.7,578.2 L504.9,577.3 L513.1,577.0 L521.3,577.1 L529.5,577.5 L537.8,577.7 L546.0,578.0 L554.2,578.0 L562.4,577.3 L570.6,577.0 L578.8,576.1 L587.0,575.6 L595.3,575.7 L603.5,576.1 L611.7,575.9 L619.9,576.3 L628.1,577.2 L636.3,577.0 L644.5,577.7 L652.8,577.3 L661.0,576.7 L669.2,577.2 L677.4,576.8 L685.6,577.1 L693.8,577.4 L702.1,577.7 L710.3,578.4 L718.5,578.0 L726.7,576.9 L734.9,575.8 L743.1,575.9 L751.3,576.6 L759.6,577.3 L767.8,577.5 L776.0,577.4 L784.2,576.8 L792.4,576.3 L800.6,576.9 L808.9,576.8 L817.1,576.8 L825.3,576.8 L833.5,576.2 L841.7,576.4 L849.9,577.5 L858.1,577.8 L866.4,577.6 L874.6,576.8 L882.8,576.5 L891.0,576.4"/>
<path d="M168.1,572.5 L176.3,573.0 L184.5,573.2 L192.7,573.1 L200.9,572.1 L209.2,572.6 L217.4,572.5 L225.6,571.8 L233.8,573.4 L242.0,573.7 L250.2,573.7 L258.4,574.1 L266.7,573.0 L274.9,573.2 L283.1,573.6 L291.3,573.5 L299.5,573.7 L307.7,573.9 L316.0,573.2 L324.2,572.5 L332.4,572.6 L340.6,572.3 L348.8,571.4 L357.0,571.0 L365.2,570.8 L373.5,569.9 L381.7,571.0 L389.9,571.9 L398.1,572.4 L406.3,572.8 L414.5,571.8 L422.7,571.7 L431.0,570.8 L439.2,571.4 L447.4,571.9 L455.6,572.0 L463.8,572.0 L472.0,571.7 L480.2,571.9 L488.5,572.7 L496.7,573.4 L504.9,572.4 L513.1,572.4 L521.3,572.1 L529.5,571.2 L537.8,571.5 L546.0,571.7 L554.2,571.0 L562.4,571.7 L570.6,571.6 L578.8,570.7 L587.0,571.8 L595.3,571.5 L603.5,573.0 L611.7,573.8 L619.9,573.3 L628.1,573.2 L636.3,571.9 L644.5,571.5 L652.8,571.0 L661.0,570.8 L669.2,571.6 L677.4,572.7 L685.6,573.6 L693.8,574.4 L702.1,574.1 L710.3,572.8 L718.5,571.4 L726.7,570.9 L734.9,570.5 L743.1,570.8 L751.3,571.8 L759.6,571.7 L767.8,572.0 L776.0,571.6 L784.2,571.1 L792.4,571.4 L800.6,571.4 L808.9,571.8 L817.1,571.4 L825.3,570.8 L833.5,570.7 L841.7,570.8 L849.9,571.4 L858.1,571.9 L866.4,571.7 L874.6,572.1 L882.8,572.1 L891.0,571.7"/>
<path d="M168.1,569.5 L176.3,570.1 L184.5,571.2 L192.7,572.0 L200.9,572.4 L209.2,574.0 L217.4,574.0 L225.6,573.5 L233.8,573.3 L242.0,572.6 L250.2,572.8 L258.4,573.1 L266.7,573.4 L274.9,573.6 L283.1,573.2 L291.3,572.9 L299.5,573.2 L307.7,574.1 L316.0,574.7 L324.2,574.6 L332.4,574.8 L340.6,574.6 L348.8,575.0 L357.0,575.3 L365.2,574.4 L373.5,573.9 L381.7,574.1 L389.9,573.4 L398.1,573.7 L406.3,573.0 L414.5,573.1 L422.7,573.7 L431.0,573.3 L439.2,572.8 L447.4,571.7 L455.6,570.6 L463.8,571.3 L472.0,572.7 L480.2,572.3 L488.5,572.6 L496.7,571.4 L504.9,570.7 L513.1,571.8 L521.3,572.1 L529.5,572.3 L537.8,572.5 L546.0,572.0 L554.2,572.4 L562.4,573.1 L570.6,572.2 L578.8,573.3 L587.0,573.4 L595.3,573.2 L603.5,574.3 L611.7,573.1 L619.9,573.2 L628.1,573.5 L636.3,572.9 L644.5,573.2 L652.8,573.2 L661.0,573.0 L669.2,573.7 L677.4,574.0 L685.6,574.3 L693.8,574.8 L702.1,574.6 L710.3,573.6 L718.5,573.6 L726.7,572.9 L734.9,573.1 L743.1,573.2 L751.3,572.3 L759.6,572.3 L767.8,572.1 L776.0,572.5 L784.2,572.9 L792.4,573.5 L800.6,572.9 L808.9,572.8 L817.1,572.7 L825.3,572.6 L833.5,573.5 L841.7,574.3 L849.9,573.8 L858.1,573.6 L866.4,573.1 L874.6,572.3 L882.8,572.6 L891.0,572.2"/>
<path d="M168.1,581.3 L176.3,580.1 L184.5,578.5 L192.7,578.0 L200.9,578.2 L209.2,577.1 L217.4,577.1 L225.6,577.5 L233.8,576.6 L242.0,577.1 L250.2,577.2 L258.4,576.6 L266.7,576.9 L274.9,577.4 L283.1,578.0 L291.3,577.9 L299.5,578.6 L307.7,578.6 L316.0,579.5 L324.2,580.0 L332.4,580.0 L340.6,580.0 L348.8,578.9 L357.0,579.1 L365.2,579.3 L373.5,579.0 L381.7,579.4 L389.9,579.3 L398.1,579.3 L406.3,579.9 L414.5,579.8 L422.7,580.5 L431.0,581.0 L439.2,581.3 L447.4,582.3 L455.6,582.2 L463.8,581.7 L472.0,580.9 L480.2,580.4 L488.5,579.9 L496.7,579.7 L504.9,579.3 L513.1,579.4 L521.3,579.6 L529.5,579.9 L537.8,580.8 L546.0,581.7 L554.2,581.4 L562.4,580.7 L570.6,581.3 L578.8,580.3 L587.0,579.7 L595.3,579.9 L603.5,578.9 L611.7,579.4 L619.9,580.3 L628.1,580.8 L636.3,581.4 L644.5,581.4 L652.8,582.0 L661.0,582.6 L669.2,582.8 L677.4,582.5 L685.6,582.2 L693.8,581.8 L702.1,581.4 L710.3,580.9 L718.5,581.4 L726.7,581.1 L734.9,581.5 L743.1,581.3 L751.3,580.6 L759.6,580.6 L767.8,579.9 L776.0,580.0 L784.2,580.5 L792.4,580.6 L800.6,581.2 L808.9,581.0 L817.1,580.9 L825.3,580.6 L833.5,580.5 L841.7,580.6 L849.9,580.3 L858.1,580.9 L866.4,580.2 L874.6,581.2 L882.8,581.4 L891.0,580.1"/>
<path d="M168.1,570.7 L176.3,572.9 L184.5,573.2 L192.7,574.6 L200.9,574.8 L209.2,573.9 L217.4,574.7 L225.6,574.5 L233.8,575.4 L242.0,575.8 L250.2,575.7 L258.4,575.4 L266.7,575.6 L274.9,575.0 L283.1,575.3 L291.3,575.5 L299.5,574.3 L307.7,574.6 L316.0,573.4 L324.2,573.0 L332.4,573.3 L340.6,572.8 L348.8,573.1 L357.0,573.0 L365.2,572.5 L373.5,573.8 L381.7,573.8 L389.9,573.7 L398.1,574.5 L406.3,574.3 L414.5,575.0 L422.7,575.5 L431.0,574.6 L439.2,574.0 L447.4,574.3 L455.6,573.3 L463.8,574.1 L472.0,573.9 L480.2,573.4 L488.5,574.9 L496.7,575.2 L504.9,576.8 L513.1,576.9 L521.3,575.8 L529.5,575.3 L537.8,574.9 L546.0,575.9 L554.2,576.2 L562.4,576.2 L570.6,574.8 L578.8,574.1 L587.0,574.1 L595.3,574.7 L603.5,576.1 L611.7,575.7 L619.9,576.4 L628.1,576.2 L636.3,575.6 L644.5,576.6 L652.8,575.6 L661.0,575.7 L669.2,576.0 L677.4,574.8 L685.6,575.0 L693.8,575.1 L702.1,575.4 L710.3,576.6 L718.5,577.1 L726.7,576.3 L734.9,575.5 L743.1,576.1 L751.3,575.7 L759.6,575.5 L767.8,575.9 L776.0,574.8 L784.2,575.0 L792.4,575.1 L800.6,574.7 L808.9,574.8 L817.1,574.3 L825.3,575.3 L833.5,575.2 L841.7,574.6 L849.9,575.2 L858.1,574.8 L866.4,575.1 L874.6,575.6 L882.8,575.0 L891.0,575.2"/>
<path d="M168.1,568.1 L176.3,569.7 L184.5,571.3 L192.7,571.8 L200.9,572.1 L209.2,572.0 L217.4,572.9 L225.6,573.4 L233.8,574.0 L242.0,573.5 L250.2,572.6 L258.4,572.0 L266.7,571.9 L274.9,572.6 L283.1,572.3 L291.3,572.7 L299.5,572.5 L307.7,571.4 L316.0,571.3 L324.2,571.1 L332.4,570.7 L340.6,570.4 L348.8,570.4 L357.0,570.9 L365.2,570.8 L373.5,571.2 L381.7,571.0 L389.9,571.6 L398.1,572.7 L406.3,573.3 L414.5,573.6 L422.7,572.8 L431.0,572.3 L439.2,572.1 L447.4,572.2 L455.6,572.2 L463.8,572.3 L472.0,572.0 L480.2,571.6 L488.5,571.4 L496.7,571.3 L504.9,571.4 L513.1,570.8 L521.3,570.6 L529.5,570.5 L537.8,570.3 L546.0,571.5 L554.2,571.9 L562.4,571.0 L570.6,570.5 L578.8,570.1 L587.0,570.0 L595.3,569.9 L603.5,570.5 L611.7,570.0 L619.9,570.3 L628.1,571.2 L636.3,571.7 L644.5,573.0 L652.8,573.7 L661.0,573.1 L669.2,572.8 L677.4,572.0 L685.6,570.7 L693.8,571.1 L702.1,570.9 L710.3,571.2 L718.5,570.4 L726.7,570.3 L734.9,570.7 L743.1,570.9 L751.3,571.5 L759.6,571.1 L767.8,571.1 L776.0,570.6 L784.2,571.3 L792.4,572.5 L800.6,571.1 L808.9,571.1 L817.1,570.5 L825.3,569.2 L833.5,570.1 L841.7,569.4 L849.9,570.2 L858.1,570.2 L866.4,570.2 L874.6,570.1 L882.8,569.5 L891.0,570.3"/>
<path d="M168.1,581.5 L176.3,580.2 L184.5,578.7 L192.7,577.6 L200.9,577.2 L209.2,576.7 L217.4,575.9 L225.6,575.6 L233.8,576.8 L242.0,575.8 L250.2,576.1 L258.4,576.5 L266.7,575.7 L274.9,576.2 L283.1,576.1 L291.3,575.9 L299.5,576.8 L307.7,577.1 L316.0,577.7 L324.2,578.0 L332.4,577.2 L340.6,577.5 L348.8,578.1 L357.0,578.4 L365.2,579.1 L373.5,579.5 L381.7,580.3 L389.9,580.8 L398.1,581.0 L406.3,580.0 L414.5,579.4 L422.7,579.5 L431.0,578.9 L439.2,580.6 L447.4,580.4 L455.6,580.7 L463.8,581.2 L472.0,580.2 L480.2,580.4 L488.5,579.7 L496.7,579.6 L504.9,580.2 L513.1,579.5 L521.3,579.7 L529.5,579.1 L537.8,579.0 L546.0,579.8 L554.2,579.7 L562.4,580.3 L570.6,580.3 L578.8,580.1 L587.0,579.5 L595.3,579.6 L603.5,579.5 L611.7,579.7 L619.9,580.2 L628.1,579.9 L636.3,579.3 L644.5,579.1 L652.8,579.5 L661.0,578.8 L669.2,579.6 L677.4,579.9 L685.6,579.7 L693.8,580.5 L702.1,580.2 L710.3,579.8 L718.5,579.8 L726.7,579.0 L734.9,579.2 L743.1,580.2 L751.3,579.7 L759.6,580.7 L767.8,580.9 L776.0,580.4 L784.2,581.5 L792.4,581.2 L800.6,581.2 L808.9,581.6 L817.1,581.2 L825.3,580.8 L833.5,580.7 L841.7,580.1 L849.9,578.8 L858.1,579.0 L866.4,578.9 L874.6,579.2 L882.8,580.6 L891.0,579.9"/>
<path d="M168.1,563.1 L176.3,566.8 L184.5,570.5 L192.7,571.3 L200.9,572.1 L209.2,572.4 L217.4,571.6 L225.6,572.7 L233.8,573.2 L242.0,573.3 L250.2,573.7 L258.4,573.5 L266.7,572.8 L274.9,572.5 L283.1,572.7 L291.3,572.1 L299.5,571.7 L307.7,571.3 L316.0,569.7 L324.2,569.0 L332.4,569.9 L340.6,570.5 L348.8,570.8 L357.0,571.8 L365.2,570.7 L373.5,570.1 L381.7,571.0 L389.9,570.4 L398.1,571.0 L406.3,569.9 L414.5,568.7 L422.7,569.4 L431.0,568.7 L439.2,570.5 L447.4,570.8 L455.6,570.1 L463.8,570.2 L472.0,568.5 L480.2,568.7 L488.5,569.1 L496.7,570.2 L504.9,570.9 L513.1,570.8 L521.3,570.8 L529.5,570.3 L537.8,570.0 L546.0,569.9 L554.2,569.6 L562.4,569.9 L570.6,570.8 L578.8,570.4 L587.0,569.8 L595.3,568.5 L603.5,568.7 L611.7,569.8 L619.9,570.3 L628.1,570.9 L636.3,570.0 L644.5,568.9 L652.8,569.1 L661.0,569.3 L669.2,569.4 L677.4,570.5 L685.6,571.3 L693.8,571.4 L702.1,570.4 L710.3,569.1 L718.5,568.6 L726.7,568.5 L734.9,569.4 L743.1,570.2 L751.3,570.8 L759.6,570.7 L767.8,571.5 L776.0,571.3 L784.2,571.2 L792.4,570.9 L800.6,571.3 L808.9,571.3 L817.1,570.1 L825.3,569.3 L833.5,568.3 L841.7,567.9 L849.9,569.0 L858.1,569.2 L866.4,569.4 L874.6,569.5 L882.8,568.7 L891.0,569.2"/>
<path d="M168.1,564.2 L176.3,568.0 L184.5,570.0 L192.7,572.1 L200.9,572.7 L209.2,572.7 L217.4,572.9 L225.6,572.7 L233.8,573.2 L242.0,574.3 L250.2,574.6 L258.4,574.4 L266.7,574.8 L274.9,574.3 L283.1,573.4 L291.3,573.1 L299.5,572.7 L307.7,572.3 L316.0,571.9 L324.2,571.9 L332.4,572.5 L340.6,571.7 L348.8,572.0 L357.0,572.7 L365.2,571.4 L373.5,571.8 L381.7,571.7 L389.9,571.3 L398.1,571.4 L406.3,572.0 L414.5,573.2 L422.7,573.1 L431.0,573.9 L439.2,574.0 L447.4,573.8 L455.6,574.0 L463.8,574.1 L472.0,573.8 L480.2,573.7 L488.5,572.7 L496.7,572.8 L504.9,572.2 L513.1,571.7 L521.3,571.7 L529.5,571.3 L537.8,572.0 L546.0,572.9 L554.2,572.8 L562.4,572.7 L570.6,572.7 L578.8,572.8 L587.0,573.0 L595.3,572.7 L603.5,572.4 L611.7,572.3 L619.9,572.3 L628.1,572.3 L636.3,573.0 L644.5,572.1 L652.8,572.0 L661.0,572.3 L669.2,572.1 L677.4,571.7 L685.6,572.6 L693.8,572.4 L702.1,571.5 L710.3,572.0 L718.5,572.7 L726.7,573.1 L734.9,573.7 L743.1,574.3 L751.3,572.6 L759.6,572.4 L767.8,571.6 L776.0,571.1 L784.2,572.9 L792.4,573.4 L800.6,573.4 L808.9,574.4 L817.1,572.7 L825.3,571.8 L833.5,571.8 L841.7,570.6 L849.9,571.1 L858.1,571.2 L866.4,571.7 L874.6,571.9 L882.8,572.4 L891.0,572.4"/>
<path d="M168.1,577.4 L176.3,575.6 L184.5,574.8 L192.7,574.5 L200.9,574.0 L209.2,573.7 L217.4,573.6 L225.6,573.3 L233.8,573.9 L242.0,574.1 L250.2,574.3 L258.4,574.3 L266.7,574.4 L274.9,574.4 L283.1,574.9 L291.3,575.3 L299.5,575.7 L307.7,575.4 L316.0,575.2 L324.2,575.3 L332.4,574.5 L340.6,574.3 L348.8,573.7 L357.0,572.6 L365.2,571.8 L373.5,571.6 L381.7,572.5 L389.9,572.5 L398.1,573.3 L406.3,573.5 L414.5,573.1 L422.7,573.2 L431.0,573.1 L439.2,572.5 L447.4,572.2 L455.6,572.0 L463.8,572.5 L472.0,573.4 L480.2,573.6 L488.5,573.0 L496.7,572.2 L504.9,571.7 L513.1,571.6 L521.3,572.8 L529.5,573.2 L537.8,573.2 L546.0,572.2 L554.2,572.1 L562.4,572.1 L570.6,572.6 L578.8,572.6 L587.0,572.3 L595.3,571.1 L603.5,570.8 L611.7,571.7 L619.9,572.3 L628.1,572.4 L636.3,572.7 L644.5,572.8 L652.8,572.7 L661.0,573.7 L669.2,574.3 L677.4,574.5 L685.6,573.7 L693.8,573.8 L702.1,573.3 L710.3,573.1 L718.5,573.3 L726.7,573.6 L734.9,573.3 L743.1,574.1 L751.3,574.1 L759.6,573.4 L767.8,573.3 L776.0,572.2 L784.2,572.3 L792.4,572.5 L800.6,573.5 L808.9,573.9 L817.1,573.7 L825.3,574.0 L833.5,573.0 L841.7,572.4 L849.9,573.0 L858.1,572.9 L866.4,573.2 L874.6,574.1 L882.8,573.6 L891.0,573.5"/>
<path d="M168.1,579.6 L176.3,578.8 L184.5,577.3 L192.7,577.0 L200.9,576.1 L209.2,576.2 L217.4,576.1 L225.6,575.4 L233.8,575.2 L242.0,575.0 L250.2,574.8 L258.4,575.1 L266.7,575.4 L274.9,574.6 L283.1,575.2 L291.3,576.3 L299.5,577.3 L307.7,578.7 L316.0,578.4 L324.2,578.1 L332.4,578.0 L340.6,576.6 L348.8,577.1 L357.0,577.7 L365.2,578.7 L373.5,580.2 L381.7,580.5 L389.9,580.3 L398.1,579.7 L406.3,579.5 L414.5,579.2 L422.7,580.1 L431.0,580.6 L439.2,579.2 L447.4,579.3 L455.6,577.9 L463.8,577.3 L472.0,578.1 L480.2,578.6 L488.5,579.4 L496.7,578.9 L504.9,579.7 L513.1,578.9 L521.3,579.6 L529.5,580.4 L537.8,580.0 L546.0,581.0 L554.2,580.5 L562.4,580.3 L570.6,579.8 L578.8,579.8 L587.0,579.0 L595.3,579.6 L603.5,580.1 L611.7,579.8 L619.9,579.1 L628.1,578.3 L636.3,578.5 L644.5,578.3 L652.8,579.8 L661.0,580.4 L669.2,579.4 L677.4,579.5 L685.6,578.5 L693.8,578.1 L702.1,579.6 L710.3,579.8 L718.5,579.7 L726.7,579.8 L734.9,578.6 L743.1,578.4 L751.3,579.1 L759.6,579.6 L767.8,579.1 L776.0,579.5 L784.2,578.9 L792.4,578.8 L800.6,579.3 L808.9,579.8 L817.1,580.0 L825.3,579.8 L833.5,580.6 L841.7,579.9 L849.9,579.9 L858.1,578.8 L866.4,578.3 L874.6,577.9 L882.8,578.6 L891.0,579.5"/>
<path d="M168.1,569.3 L176.3,571.6 L184.5,572.2 L192.7,573.2 L200.9,572.7 L209.2,572.4 L217.4,572.8 L225.6,571.9 L233.8,571.8 L242.0,571.8 L250.2,571.9 L258.4,572.5 L266.7,573.8 L274.9,573.8 L283.1,573.3 L291.3,573.1 L299.5,571.8 L307.7,571.4 L316.0,571.7 L324.2,571.3 L332.4,571.3 L340.6,571.4 L348.8,570.9 L357.0,571.0 L365.2,570.9 L373.5,571.2 L381.7,571.1 L389.9,571.2 L398.1,572.0 L406.3,571.6 L414.5,571.5 L422.7,572.2 L431.0,571.5 L439.2,570.7 L447.4,571.0 L455.6,571.2 L463.8,571.9 L472.0,571.7 L480.2,570.4 L488.5,569.5 L496.7,568.8 L504.9,570.0 L513.1,572.4 L521.3,571.7 L529.5,571.8 L537.8,571.1 L546.0,569.6 L554.2,570.3 L562.4,570.0 L570.6,570.5 L578.8,571.3 L587.0,571.3 L595.3,571.8 L603.5,570.8 L611.7,569.3 L619.9,568.8 L628.1,568.4 L636.3,569.5 L644.5,571.4 L652.8,571.8 L661.0,571.9 L669.2,572.0 L677.4,571.1 L685.6,571.0 L693.8,571.2 L702.1,571.3 L710.3,570.9 L718.5,571.2 L726.7,571.2 L734.9,571.9 L743.1,572.1 L751.3,572.2 L759.6,571.6 L767.8,570.6 L776.0,570.6 L784.2,570.8 L792.4,571.6 L800.6,571.0 L808.9,571.2 L817.1,570.9 L825.3,570.9 L833.5,571.3 L841.7,571.1 L849.9,571.3 L858.1,570.6 L866.4,570.5 L874.6,570.0 L882.8,569.2 L891.0,569.3"/>
<path d="M168.1,567.5 L176.3,569.9 L184.5,571.1 L192.7,572.8 L200.9,575.0 L209.2,575.1 L217.4,575.3 L225.6,575.4 L233.8,574.7 L242.0,574.4 L250.2,575.6 L258.4,576.1 L266.7,575.2 L274.9,576.0 L283.1,575.1 L291.3,574.0 L299.5,575.0 L307.7,575.0 L316.0,574.3 L324.2,574.9 L332.4,574.1 L340.6,573.7 L348.8,574.3 L357.0,575.7 L365.2,576.6 L373.5,576.1 L381.7,575.8 L389.9,575.1 L398.1,575.1 L406.3,574.9 L414.5,575.1 L422.7,574.9 L431.0,574.4 L439.2,575.0 L447.4,575.3 L455.6,576.0 L463.8,575.9 L472.0,576.1 L480.2,576.7 L488.5,575.0 L496.7,575.0 L504.9,575.6 L513.1,574.6 L521.3,575.8 L529.5,576.4 L537.8,576.1 L546.0,576.5 L554.2,576.4 L562.4,575.1 L570.6,574.2 L578.8,574.9 L587.0,574.2 L595.3,575.5 L603.5,576.4 L611.7,575.9 L619.9,576.0 L628.1,576.4 L636.3,575.7 L644.5,575.5 L652.8,575.1 L661.0,574.5 L669.2,574.5 L677.4,575.9 L685.6,576.6 L693.8,576.6 L702.1,577.5 L710.3,575.7 L718.5,574.9 L726.7,575.5 L734.9,575.7 L743.1,575.7 L751.3,576.8 L759.6,575.4 L767.8,574.7 L776.0,574.5 L784.2,575.0 L792.4,575.8 L800.6,576.0 L808.9,576.2 L817.1,575.0 L825.3,575.4 L833.5,575.7 L841.7,576.6 L849.9,576.5 L858.1,576.7 L866.4,575.8 L874.6,575.3 L882.8,575.8 L891.0,575.5"/>
<path d="M168.1,572.8 L176.3,574.2 L184.5,576.1 L192.7,576.9 L200.9,577.4 L209.2,576.8 L217.4,576.0 L225.6,576.5 L233.8,576.9 L242.0,577.4 L250.2,577.1 L258.4,577.0 L266.7,577.0 L274.9,577.3 L283.1,577.6 L291.3,577.4 L299.5,578.1 L307.7,578.5 L316.0,579.3 L324.2,580.1 L332.4,579.8 L340.6,579.9 L348.8,580.2 L357.0,579.6 L365.2,579.6 L373.5,578.5 L381.7,579.0 L389.9,579.9 L398.1,580.7 L406.3,582.0 L414.5,582.3 L422.7,583.1 L431.0,583.0 L439.2,583.1 L447.4,582.7 L455.6,582.1 L463.8,582.6 L472.0,582.8 L480.2,582.5 L488.5,582.4 L496.7,582.1 L504.9,580.2 L513.1,579.5 L521.3,579.4 L529.5,579.6 L537.8,581.9 L546.0,583.1 L554.2,583.0 L562.4,583.0 L570.6,581.7 L578.8,581.3 L587.0,581.7 L595.3,581.4 L603.5,581.9 L611.7,582.7 L619.9,583.1 L628.1,582.6 L636.3,582.9 L644.5,582.5 L652.8,582.4 L661.0,582.3 L669.2,581.8 L677.4,581.8 L685.6,580.6 L693.8,581.0 L702.1,580.9 L710.3,580.5 L718.5,581.1 L726.7,581.3 L734.9,582.0 L743.1,582.3 L751.3,582.6 L759.6,582.8 L767.8,582.3 L776.0,582.6 L784.2,582.4 L792.4,582.7 L800.6,581.8 L808.9,581.3 L817.1,581.4 L825.3,580.3 L833.5,581.5 L841.7,581.7 L849.9,581.5 L858.1,581.6 L866.4,581.1 L874.6,580.4 L882.8,580.5 L891.0,580.5"/>
<path d="M168.1,573.6 L176.3,573.1 L184.5,573.6 L192.7,573.0 L200.9,573.0 L209.2,574.1 L217.4,573.3 L225.6,573.9 L233.8,574.2 L242.0,573.7 L250.2,572.6 L258.4,572.2 L266.7,571.4 L274.9,570.8 L283.1,571.1 L291.3,571.4 L299.5,571.2 L307.7,571.3 L316.0,571.4 L324.2,570.9 L332.4,571.9 L340.6,572.2 L348.8,571.9 L357.0,571.7 L365.2,570.6 L373.5,570.2 L381.7,569.7 L389.9,569.5 L398.1,570.5 L406.3,570.1 L414.5,570.9 L422.7,570.9 L431.0,570.5 L439.2,571.5 L447.4,570.9 L455.6,571.1 L463.8,571.2 L472.0,569.8 L480.2,569.7 L488.5,569.3 L496.7,568.9 L504.9,569.4 L513.1,569.6 L521.3,569.2 L529.5,570.2 L537.8,569.8 L546.0,569.9 L554.2,569.8 L562.4,569.4 L570.6,570.0 L578.8,568.8 L587.0,569.6 L595.3,569.0 L603.5,569.0 L611.7,569.7 L619.9,569.6 L628.1,569.9 L636.3,569.9 L644.5,570.2 L652.8,570.4 L661.0,570.3 L669.2,570.7 L677.4,570.1 L685.6,570.8 L693.8,571.0 L702.1,570.3 L710.3,570.7 L718.5,570.1 L726.7,570.2 L734.9,570.6 L743.1,570.2 L751.3,570.1 L759.6,569.8 L767.8,569.0 L776.0,569.9 L784.2,569.8 L792.4,570.3 L800.6,570.5 L808.9,569.7 L817.1,569.5 L825.3,568.8 L833.5,568.8 L841.7,569.3 L849.9,569.1 L858.1,569.7 L866.4,569.3 L874.6,569.4 L882.8,570.1 L891.0,569.8"/>
<path d="M168.1,569.2 L176.3,571.1 L184.5,572.1 L192.7,573.2 L200.9,573.7 L209.2,574.4 L217.4,573.6 L225.6,573.5 L233.8,573.5 L242.0,573.7 L250.2,575.1 L258.4,574.9 L266.7,575.3 L274.9,574.8 L283.1,574.1 L291.3,575.1 L299.5,575.1 L307.7,575.7 L316.0,576.0 L324.2,575.3 L332.4,575.9 L340.6,575.3 L348.8,576.4 L357.0,576.4 L365.2,576.3 L373.5,577.5 L381.7,577.1 L389.9,577.4 L398.1,577.6 L406.3,577.1 L414.5,576.5 L422.7,576.4 L431.0,576.8 L439.2,576.6 L447.4,576.4 L455.6,576.4 L463.8,575.3 L472.0,575.2 L480.2,575.8 L488.5,575.1 L496.7,575.1 L504.9,574.9 L513.1,574.5 L521.3,574.5 L529.5,574.5 L537.8,575.0 L546.0,575.6 L554.2,576.3 L562.4,576.9 L570.6,577.2 L578.8,576.2 L587.0,575.4 L595.3,574.7 L603.5,573.7 L611.7,574.4 L619.9,574.5 L628.1,575.3 L636.3,576.3 L644.5,576.1 L652.8,576.8 L661.0,576.2 L669.2,575.5 L677.4,575.3 L685.6,574.7 L693.8,575.2 L702.1,575.8 L710.3,575.6 L718.5,575.3 L726.7,574.7 L734.9,574.5 L743.1,574.3 L751.3,575.0 L759.6,575.3 L767.8,575.1 L776.0,575.6 L784.2,574.9 L792.4,574.5 L800.6,574.0 L808.9,574.4 L817.1,574.2 L825.3,575.0 L833.5,575.0 L841.7,576.1 L849.9,576.8 L858.1,576.0 L866.4,576.3 L874.6,575.2 L882.8,575.9 L891.0,576.1"/>
<path d="M168.1,566.5 L176.3,569.2 L184.5,571.0 L192.7,573.1 L200.9,573.6 L209.2,574.0 L217.4,573.5 L225.6,572.9 L233.8,572.2 L242.0,572.0 L250.2,572.3 L258.4,572.5 L266.7,573.3 L274.9,573.9 L283.1,574.2 L291.3,574.2 L299.5,574.5 L307.7,573.4 L316.0,572.9 L324.2,573.3 L332.4,572.6 L340.6,573.0 L348.8,573.3 L357.0,572.5 L365.2,573.2 L373.5,573.7 L381.7,573.1 L389.9,573.9 L398.1,573.3 L406.3,572.7 L414.5,573.0 L422.7,573.1 L431.0,572.0 L439.2,571.8 L447.4,571.8 L455.6,571.7 L463.8,572.4 L472.0,572.6 L480.2,572.4 L488.5,571.9 L496.7,572.4 L504.9,572.2 L513.1,572.7 L521.3,572.8 L529.5,572.0 L537.8,572.6 L546.0,572.0 L554.2,572.3 L562.4,573.2 L570.6,573.2 L578.8,572.7 L587.0,571.7 L595.3,571.3 L603.5,571.4 L611.7,572.2 L619.9,573.5 L628.1,572.9 L636.3,572.9 L644.5,572.7 L652.8,572.2 L661.0,572.6 L669.2,571.9 L677.4,572.1 L685.6,572.2 L693.8,572.5 L702.1,573.0 L710.3,573.4 L718.5,573.8 L726.7,573.4 L734.9,573.8 L743.1,573.6 L751.3,573.1 L759.6,572.8 L767.8,572.8 L776.0,571.9 L784.2,572.2 L792.4,573.3 L800.6,572.8 L808.9,573.1 L817.1,572.7 L825.3,572.8 L833.5,573.0 L841.7,572.6 L849.9,572.9 L858.1,571.7 L866.4,571.3 L874.6,572.3 L882.8,572.6 L891.0,573.8"/>
<path d="M168.1,573.1 L176.3,572.7 L184.5,574.2 L192.7,573.7 L200.9,573.8 L209.2,574.4 L217.4,573.4 L225.6,574.1 L233.8,574.3 L242.0,574.0 L250.2,573.7 L258.4,573.5 L266.7,573.8 L274.9,573.7 L283.1,574.4 L291.3,573.9 L299.5,573.4 L307.7,573.6 L316.0,573.9 L324.2,573.9 L332.4,574.7 L340.6,575.0 L348.8,574.0 L357.0,574.1 L365.2,574.3 L373.5,574.6 L381.7,575.0 L389.9,574.6 L398.1,574.0 L406.3,573.2 L414.5,573.7 L422.7,573.9 L431.0,574.3 L439.2,574.1 L447.4,573.0 L455.6,573.4 L463.8,573.8 L472.0,573.8 L480.2,574.3 L488.5,574.3 L496.7,574.0 L504.9,574.7 L513.1,574.7 L521.3,574.7 L529.5,573.9 L537.8,574.5 L546.0,574.6 L554.2,573.9 L562.4,574.1 L570.6,573.7 L578.8,573.4 L587.0,574.4 L595.3,575.0 L603.5,574.7 L611.7,575.5 L619.9,575.3 L628.1,574.9 L636.3,574.8 L644.5,574.6 L652.8,574.5 L661.0,575.1 L669.2,575.0 L677.4,574.9 L685.6,574.5 L693.8,574.1 L702.1,572.7 L710.3,572.6 L718.5,572.4 L726.7,572.4 L734.9,573.7 L743.1,574.5 L751.3,574.7 L759.6,575.1 L767.8,575.1 L776.0,574.2 L784.2,574.1 L792.4,574.6 L800.6,574.5 L808.9,574.5 L817.1,575.2 L825.3,574.5 L833.5,574.6 L841.7,574.5 L849.9,574.5 L858.1,574.6 L866.4,574.2 L874.6,574.5 L882.8,574.6 L891.0,573.7"/>
<path d="M168.1,570.2 L176.3,571.2 L184.5,572.7 L192.7,572.8 L200.9,573.8 L209.2,573.9 L217.4,573.7 L225.6,573.3 L233.8,572.3 L242.0,571.2 L250.2,571.6 L258.4,571.8 L266.7,572.5 L274.9,574.4 L283.1,574.0 L291.3,574.4 L299.5,574.4 L307.7,574.0 L316.0,573.4 L324.2,573.5 L332.4,571.7 L340.6,571.5 L348.8,572.5 L357.0,571.9 L365.2,572.8 L373.5,572.0 L381.7,571.5 L389.9,571.1 L398.1,571.1 L406.3,571.0 L414.5,570.6 L422.7,571.5 L431.0,570.6 L439.2,571.0 L447.4,571.5 L455.6,571.1 L463.8,571.8 L472.0,571.6 L480.2,571.3 L488.5,571.5 L496.7,571.5 L504.9,571.8 L513.1,571.6 L521.3,571.5 L529.5,571.7 L537.8,571.8 L546.0,571.3 L554.2,571.2 L562.4,570.6 L570.6,571.0 L578.8,570.9 L587.0,570.4 L595.3,570.8 L603.5,570.2 L611.7,571.3 L619.9,572.2 L628.1,572.3 L636.3,572.5 L644.5,572.4 L652.8,571.7 L661.0,572.2 L669.2,572.7 L677.4,572.6 L685.6,572.6 L693.8,572.2 L702.1,571.2 L710.3,571.9 L718.5,571.9 L726.7,571.3 L734.9,571.7 L743.1,570.9 L751.3,571.1 L759.6,571.5 L767.8,571.4 L776.0,571.2 L784.2,571.4 L792.4,572.1 L800.6,572.9 L808.9,573.4 L817.1,573.2 L825.3,572.6 L833.5,571.4 L841.7,571.3 L849.9,571.5 L858.1,571.4 L866.4,571.6 L874.6,570.6 L882.8,571.3 L891.0,571.4"/>
<path d="M168.1,577.9 L176.3,576.4 L184.5,575.4 L192.7,575.2 L200.9,574.6 L209.2,573.2 L217.4,573.0 L225.6,572.5 L233.8,572.4 L242.0,573.3 L250.2,573.6 L258.4,573.2 L266.7,572.8 L274.9,572.5 L283.1,572.6 L291.3,572.3 L299.5,571.2 L307.7,570.9 L316.0,569.9 L324.2,569.6 L332.4,570.0 L340.6,570.0 L348.8,570.2 L357.0,569.2 L365.2,568.4 L373.5,567.6 L381.7,567.7 L389.9,568.9 L398.1,569.5 L406.3,569.5 L414.5,569.2 L422.7,569.2 L431.0,569.5 L439.2,570.2 L447.4,569.4 L455.6,568.9 L463.8,569.5 L472.0,568.8 L480.2,569.6 L488.5,569.2 L496.7,568.5 L504.9,567.8 L513.1,567.8 L521.3,568.2 L529.5,568.3 L537.8,568.9 L546.0,567.7 L554.2,566.9 L562.4,567.5 L570.6,567.6 L578.8,568.3 L587.0,569.1 L595.3,568.6 L603.5,568.8 L611.7,568.5 L619.9,568.0 L628.1,567.0 L636.3,567.2 L644.5,567.5 L652.8,567.7 L661.0,567.6 L669.2,567.2 L677.4,567.8 L685.6,567.6 L693.8,568.4 L702.1,568.8 L710.3,567.7 L718.5,568.0 L726.7,567.5 L734.9,567.7 L743.1,567.5 L751.3,566.9 L759.6,567.3 L767.8,566.5 L776.0,566.6 L784.2,567.7 L792.4,567.4 L800.6,567.6 L808.9,568.8 L817.1,567.7 L825.3,568.3 L833.5,567.9 L841.7,567.1 L849.9,567.8 L858.1,567.3 L866.4,567.5 L874.6,567.8 L882.8,567.7 L891.0,567.6"/>
<path d="M168.1,561.2 L176.3,565.0 L184.5,568.2 L192.7,569.9 L200.9,571.1 L209.2,572.3 L217.4,572.8 L225.6,573.1 L233.8,573.5 L242.0,573.7 L250.2,573.2 L258.4,573.4 L266.7,572.6 L274.9,571.9 L283.1,573.1 L291.3,572.9 L299.5,573.8 L307.7,574.3 L316.0,573.8 L324.2,573.2 L332.4,573.2 L340.6,572.6 L348.8,573.0 L357.0,573.7 L365.2,573.3 L373.5,573.8 L381.7,574.3 L389.9,574.5 L398.1,575.3 L406.3,575.2 L414.5,574.4 L422.7,574.6 L431.0,573.5 L439.2,573.2 L447.4,573.5 L455.6,571.9 L463.8,572.4 L472.0,572.3 L480.2,572.2 L488.5,574.0 L496.7,573.6 L504.9,573.8 L513.1,574.5 L521.3,573.8 L529.5,574.4 L537.8,574.3 L546.0,573.4 L554.2,573.3 L562.4,572.7 L570.6,573.3 L578.8,573.6 L587.0,573.8 L595.3,574.3 L603.5,574.2 L611.7,574.1 L619.9,574.4 L628.1,574.8 L636.3,574.6 L644.5,574.8 L652.8,574.4 L661.0,573.6 L669.2,573.5 L677.4,572.7 L685.6,573.5 L693.8,574.2 L702.1,574.6 L710.3,575.0 L718.5,574.2 L726.7,574.2 L734.9,573.7 L743.1,573.7 L751.3,574.2 L759.6,573.7 L767.8,574.5 L776.0,573.9 L784.2,573.5 L792.4,573.7 L800.6,572.8 L808.9,574.0 L817.1,574.6 L825.3,574.8 L833.5,574.5 L841.7,573.8 L849.9,573.6 L858.1,573.7 L866.4,573.8 L874.6,573.3 L882.8,573.3 L891.0,573.1"/>
<path d="M168.1,565.2 L176.3,568.3 L184.5,570.1 L192.7,571.5 L200.9,572.7 L209.2,573.1 L217.4,573.5 L225.6,573.3 L233.8,572.6 L242.0,572.8 L250.2,572.7 L258.4,572.4 L266.7,572.8 L274.9,573.3 L283.1,573.7 L291.3,574.5 L299.5,574.5 L307.7,573.7 L316.0,574.3 L324.2,574.0 L332.4,574.0 L340.6,574.6 L348.8,574.1 L357.0,573.8 L365.2,573.5 L373.5,574.6 L381.7,573.8 L389.9,574.1 L398.1,574.2 L406.3,573.0 L414.5,573.6 L422.7,573.6 L431.0,574.1 L439.2,574.4 L447.4,574.6 L455.6,573.5 L463.8,572.6 L472.0,572.0 L480.2,570.6 L488.5,571.6 L496.7,572.4 L504.9,573.0 L513.1,573.5 L521.3,572.9 L529.5,572.0 L537.8,571.6 L546.0,571.8 L554.2,572.6 L562.4,573.0 L570.6,573.1 L578.8,572.4 L587.0,572.5 L595.3,572.6 L603.5,572.8 L611.7,573.2 L619.9,572.9 L628.1,573.0 L636.3,573.2 L644.5,573.3 L652.8,573.6 L661.0,573.1 L669.2,572.8 L677.4,573.1 L685.6,572.6 L693.8,572.6 L702.1,573.0 L710.3,573.3 L718.5,573.5 L726.7,573.6 L734.9,573.4 L743.1,572.9 L751.3,573.0 L759.6,573.1 L767.8,573.6 L776.0,574.1 L784.2,573.5 L792.4,572.8 L800.6,572.6 L808.9,573.0 L817.1,573.2 L825.3,574.4 L833.5,573.7 L841.7,573.7 L849.9,573.6 L858.1,573.2 L866.4,573.8 L874.6,572.2 L882.8,573.2 L891.0,572.9"/>
<path d="M168.1,565.8 L176.3,568.6 L184.5,571.5 L192.7,572.7 L200.9,573.5 L209.2,574.1 L217.4,574.8 L225.6,575.7 L233.8,575.7 L242.0,575.3 L250.2,573.4 L258.4,573.4 L266.7,573.8 L274.9,574.0 L283.1,575.0 L291.3,575.1 L299.5,574.5 L307.7,574.2 L316.0,574.3 L324.2,574.0 L332.4,573.7 L340.6,574.1 L348.8,574.6 L357.0,574.2 L365.2,575.8 L373.5,575.7 L381.7,575.2 L389.9,575.4 L398.1,574.6 L406.3,574.0 L414.5,574.2 L422.7,574.4 L431.0,574.2 L439.2,574.8 L447.4,574.5 L455.6,574.1 L463.8,574.2 L472.0,574.7 L480.2,574.9 L488.5,574.5 L496.7,574.2 L504.9,573.4 L513.1,573.7 L521.3,573.5 L529.5,573.1 L537.8,573.8 L546.0,573.7 L554.2,574.5 L562.4,574.2 L570.6,573.2 L578.8,573.9 L587.0,573.2 L595.3,573.3 L603.5,574.2 L611.7,572.9 L619.9,573.6 L628.1,574.0 L636.3,573.4 L644.5,573.9 L652.8,574.7 L661.0,574.4 L669.2,574.6 L677.4,575.2 L685.6,573.8 L693.8,573.8 L702.1,574.5 L710.3,573.5 L718.5,574.3 L726.7,574.8 L734.9,573.7 L743.1,573.7 L751.3,573.3 L759.6,573.4 L767.8,573.6 L776.0,573.5 L784.2,573.1 L792.4,572.3 L800.6,572.8 L808.9,573.0 L817.1,574.3 L825.3,574.4 L833.5,574.8 L841.7,574.7 L849.9,574.7 L858.1,575.1 L866.4,575.4 L874.6,575.5 L882.8,574.5 L891.0,575.0"/>
<path d="M168.1,566.9 L176.3,567.6 L184.5,569.5 L192.7,571.1 L200.9,572.3 L209.2,573.4 L217.4,573.0 L225.6,573.2 L233.8,572.7 L242.0,573.0 L250.2,572.7 L258.4,572.2 L266.7,571.7 L274.9,570.5 L283.1,570.5 L291.3,570.5 L299.5,571.1 L307.7,571.5 L316.0,571.1 L324.2,569.9 L332.4,568.6 L340.6,567.8 L348.8,567.9 L357.0,569.0 L365.2,569.2 L373.5,568.8 L381.7,568.1 L389.9,567.1 L398.1,567.5 L406.3,568.0 L414.5,568.6 L422.7,568.0 L431.0,567.6 L439.2,567.2 L447.4,567.3 L455.6,568.2 L463.8,568.1 L472.0,568.6 L480.2,568.6 L488.5,568.7 L496.7,568.4 L504.9,568.1 L513.1,567.6 L521.3,567.2 L529.5,567.6 L537.8,568.0 L546.0,568.5 L554.2,569.1 L562.4,569.0 L570.6,568.9 L578.8,568.6 L587.0,568.3 L595.3,568.0 L603.5,568.2 L611.7,568.3 L619.9,568.0 L628.1,569.0 L636.3,568.2 L644.5,567.9 L652.8,568.3 L661.0,567.8 L669.2,567.8 L677.4,567.7 L685.6,567.8 L693.8,568.4 L702.1,568.4 L710.3,569.2 L718.5,568.6 L726.7,568.1 L734.9,568.7 L743.1,569.0 L751.3,569.6 L759.6,569.2 L767.8,569.1 L776.0,568.8 L784.2,568.9 L792.4,569.2 L800.6,568.6 L808.9,568.5 L817.1,568.2 L825.3,568.6 L833.5,569.3 L841.7,569.1 L849.9,569.2 L858.1,569.2 L866.4,569.2 L874.6,569.3 L882.8,569.0 L891.0,568.8"/>
<path d="M168.1,563.2 L176.3,567.1 L184.5,569.2 L192.7,570.3 L200.9,571.7 L209.2,571.3 L217.4,571.5 L225.6,571.3 L233.8,571.5 L242.0,572.4 L250.2,573.0 L258.4,573.5 L266.7,573.0 L274.9,572.4 L283.1,572.5 L291.3,572.6 L299.5,572.1 L307.7,571.7 L316.0,571.4 L324.2,571.0 L332.4,571.6 L340.6,571.8 L348.8,571.6 L357.0,571.8 L365.2,571.7 L373.5,571.8 L381.7,571.8 L389.9,571.1 L398.1,571.0 L406.3,570.5 L414.5,570.1 L422.7,570.5 L431.0,571.1 L439.2,571.9 L447.4,572.1 L455.6,572.6 L463.8,571.7 L472.0,571.4 L480.2,571.7 L488.5,571.2 L496.7,571.4 L504.9,571.3 L513.1,570.0 L521.3,569.4 L529.5,569.5 L537.8,569.7 L546.0,571.2 L554.2,571.5 L562.4,571.0 L570.6,570.8 L578.8,570.5 L587.0,570.7 L595.3,571.5 L603.5,571.5 L611.7,570.9 L619.9,571.0 L628.1,570.5 L636.3,570.0 L644.5,570.7 L652.8,571.0 L661.0,571.2 L669.2,572.9 L677.4,572.0 L685.6,571.7 L693.8,571.7 L702.1,570.1 L710.3,571.4 L718.5,570.7 L726.7,570.5 L734.9,571.9 L743.1,571.6 L751.3,571.1 L759.6,571.1 L767.8,569.5 L776.0,569.0 L784.2,569.5 L792.4,570.5 L800.6,571.4 L808.9,570.6 L817.1,570.7 L825.3,570.0 L833.5,569.3 L841.7,570.4 L849.9,571.5 L858.1,571.0 L866.4,571.4 L874.6,571.0 L882.8,570.1 L891.0,570.3"/>
<path d="M168.1,563.3 L176.3,566.0 L184.5,567.5 L192.7,568.1 L200.9,570.1 L209.2,570.0 L217.4,570.4 L225.6,571.6 L233.8,570.5 L242.0,570.3 L250.2,570.7 L258.4,570.1 L266.7,569.6 L274.9,569.6 L283.1,568.4 L291.3,567.8 L299.5,567.1 L307.7,566.3 L316.0,565.7 L324.2,564.9 L332.4,565.0 L340.6,564.1 L348.8,564.5 L357.0,564.5 L365.2,564.0 L373.5,564.2 L381.7,563.5 L389.9,563.5 L398.1,564.0 L406.3,564.4 L414.5,564.5 L422.7,564.3 L431.0,563.8 L439.2,564.1 L447.4,564.4 L455.6,564.9 L463.8,564.9 L472.0,563.6 L480.2,562.4 L488.5,563.0 L496.7,562.5 L504.9,563.1 L513.1,562.5 L521.3,561.3 L529.5,561.2 L537.8,561.7 L546.0,563.1 L554.2,563.4 L562.4,563.8 L570.6,563.1 L578.8,563.6 L587.0,564.0 L595.3,564.9 L603.5,565.0 L611.7,563.8 L619.9,563.2 L628.1,562.5 L636.3,563.9 L644.5,564.1 L652.8,564.3 L661.0,564.5 L669.2,563.4 L677.4,563.6 L685.6,563.5 L693.8,563.6 L702.1,564.5 L710.3,564.0 L718.5,563.0 L726.7,563.2 L734.9,563.0 L743.1,563.3 L751.3,564.7 L759.6,563.6 L767.8,563.2 L776.0,563.0 L784.2,563.2 L792.4,564.0 L800.6,563.9 L808.9,564.4 L817.1,564.9 L825.3,564.3 L833.5,563.5 L841.7,563.6 L849.9,563.4 L858.1,563.0 L866.4,563.9 L874.6,563.0 L882.8,562.3 L891.0,562.5"/>
<path d="M168.1,573.3 L176.3,573.7 L184.5,573.2 L192.7,572.5 L200.9,571.4 L209.2,571.5 L217.4,571.6 L225.6,572.2 L233.8,573.2 L242.0,572.9 L250.2,574.2 L258.4,573.5 L266.7,572.9 L274.9,573.4 L283.1,572.1 L291.3,572.4 L299.5,572.1 L307.7,572.0 L316.0,573.0 L324.2,572.6 L332.4,572.5 L340.6,572.9 L348.8,571.6 L357.0,571.7 L365.2,571.8 L373.5,571.4 L381.7,571.3 L389.9,571.2 L398.1,571.9 L406.3,570.6 L414.5,570.5 L422.7,570.3 L431.0,569.4 L439.2,570.2 L447.4,570.7 L455.6,571.0 L463.8,570.7 L472.0,570.4 L480.2,570.8 L488.5,570.7 L496.7,571.1 L504.9,571.0 L513.1,570.8 L521.3,570.9 L529.5,570.8 L537.8,570.9 L546.0,571.5 L554.2,571.4 L562.4,572.2 L570.6,572.5 L578.8,571.4 L587.0,571.5 L595.3,570.7 L603.5,570.3 L611.7,570.7 L619.9,570.1 L628.1,568.7 L636.3,569.0 L644.5,569.7 L652.8,570.9 L661.0,571.7 L669.2,571.8 L677.4,570.3 L685.6,569.5 L693.8,570.0 L702.1,569.0 L710.3,568.7 L718.5,568.9 L726.7,568.7 L734.9,569.6 L743.1,571.1 L751.3,571.3 L759.6,570.9 L767.8,571.3 L776.0,570.0 L784.2,569.4 L792.4,570.1 L800.6,569.9 L808.9,570.8 L817.1,570.6 L825.3,570.0 L833.5,569.9 L841.7,569.9 L849.9,570.5 L858.1,570.7 L866.4,571.5 L874.6,572.1 L882.8,571.9 L891.0,572.1"/>
<path d="M168.1,575.3 L176.3,576.0 L184.5,574.9 L192.7,574.7 L200.9,574.2 L209.2,574.5 L217.4,575.0 L225.6,575.1 L233.8,575.0 L242.0,574.8 L250.2,574.9 L258.4,575.9 L266.7,576.3 L274.9,576.3 L283.1,577.1 L291.3,576.0 L299.5,575.4 L307.7,575.6 L316.0,575.2 L324.2,575.9 L332.4,576.8 L340.6,576.9 L348.8,577.6 L357.0,577.4 L365.2,577.2 L373.5,577.6 L381.7,578.3 L389.9,578.3 L398.1,577.8 L406.3,577.7 L414.5,576.6 L422.7,576.1 L431.0,576.8 L439.2,575.9 L447.4,576.4 L455.6,577.1 L463.8,577.3 L472.0,578.1 L480.2,578.1 L488.5,577.1 L496.7,576.9 L504.9,576.5 L513.1,576.4 L521.3,577.5 L529.5,577.4 L537.8,577.7 L546.0,578.1 L554.2,578.5 L562.4,578.5 L570.6,577.8 L578.8,577.4 L587.0,577.1 L595.3,576.2 L603.5,576.8 L611.7,576.8 L619.9,576.7 L628.1,576.9 L636.3,577.1 L644.5,577.6 L652.8,578.4 L661.0,579.4 L669.2,579.1 L677.4,578.9 L685.6,578.2 L693.8,577.7 L702.1,577.8 L710.3,578.1 L718.5,577.8 L726.7,577.9 L734.9,578.3 L743.1,577.6 L751.3,576.5 L759.6,576.6 L767.8,575.6 L776.0,575.7 L784.2,576.9 L792.4,576.6 L800.6,576.8 L808.9,576.3 L817.1,575.5 L825.3,575.1 L833.5,575.5 L841.7,576.3 L849.9,576.5 L858.1,577.8 L866.4,577.4 L874.6,576.8 L882.8,577.1 L891.0,577.1"/>
<path d="M168.1,562.7 L176.3,566.9 L184.5,569.9 L192.7,571.2 L200.9,573.4 L209.2,574.0 L217.4,573.8 L225.6,573.9 L233.8,574.6 L242.0,574.2 L250.2,575.1 L258.4,575.9 L266.7,575.3 L274.9,576.2 L283.1,575.4 L291.3,575.0 L299.5,574.5 L307.7,573.6 L316.0,573.5 L324.2,574.4 L332.4,574.3 L340.6,575.0 L348.8,575.1 L357.0,573.9 L365.2,574.0 L373.5,574.3 L381.7,574.6 L389.9,575.3 L398.1,575.4 L406.3,574.2 L414.5,573.3 L422.7,573.1 L431.0,573.2 L439.2,574.1 L447.4,575.4 L455.6,575.2 L463.8,574.5 L472.0,574.2 L480.2,572.9 L488.5,572.8 L496.7,573.9 L504.9,574.5 L513.1,575.1 L521.3,574.9 L529.5,574.2 L537.8,573.9 L546.0,574.4 L554.2,574.3 L562.4,574.6 L570.6,574.3 L578.8,573.4 L587.0,573.8 L595.3,573.7 L603.5,573.4 L611.7,574.2 L619.9,575.0 L628.1,574.7 L636.3,574.7 L644.5,574.5 L652.8,574.6 L661.0,575.0 L669.2,575.1 L677.4,575.3 L685.6,574.4 L693.8,573.9 L702.1,575.1 L710.3,575.0 L718.5,574.9 L726.7,574.9 L734.9,573.5 L743.1,573.2 L751.3,573.0 L759.6,572.6 L767.8,572.3 L776.0,573.0 L784.2,573.7 L792.4,575.1 L800.6,575.7 L808.9,574.7 L817.1,575.0 L825.3,574.8 L833.5,574.6 L841.7,575.2 L849.9,574.6 L858.1,574.9 L866.4,575.4 L874.6,575.5 L882.8,575.3 L891.0,574.8"/>
<path d="M168.1,579.1 L176.3,578.6 L184.5,576.7 L192.7,576.9 L200.9,575.8 L209.2,574.2 L217.4,574.1 L225.6,573.7 L233.8,573.6 L242.0,573.6 L250.2,572.6 L258.4,572.4 L266.7,572.6 L274.9,572.8 L283.1,573.2 L291.3,574.2 L299.5,573.9 L307.7,574.0 L316.0,574.6 L324.2,573.5 L332.4,573.4 L340.6,573.9 L348.8,573.8 L357.0,574.6 L365.2,575.9 L373.5,575.0 L381.7,574.8 L389.9,575.3 L398.1,574.1 L406.3,573.8 L414.5,574.1 L422.7,573.5 L431.0,573.7 L439.2,573.7 L447.4,573.9 L455.6,573.5 L463.8,573.0 L472.0,573.6 L480.2,573.3 L488.5,573.9 L496.7,574.6 L504.9,574.8 L513.1,575.3 L521.3,574.8 L529.5,573.4 L537.8,573.0 L546.0,572.8 L554.2,573.0 L562.4,574.3 L570.6,575.3 L578.8,574.0 L587.0,575.1 L595.3,575.1 L603.5,574.5 L611.7,575.9 L619.9,574.3 L628.1,574.5 L636.3,574.8 L644.5,574.3 L652.8,574.8 L661.0,575.4 L669.2,575.2 L677.4,575.4 L685.6,574.4 L693.8,573.4 L702.1,571.9 L710.3,572.1 L718.5,573.5 L726.7,573.3 L734.9,573.8 L743.1,574.3 L751.3,573.8 L759.6,574.7 L767.8,575.2 L776.0,574.7 L784.2,574.7 L792.4,574.1 L800.6,574.7 L808.9,573.6 L817.1,573.4 L825.3,573.7 L833.5,573.8 L841.7,574.8 L849.9,575.6 L858.1,575.5 L866.4,574.4 L874.6,574.8 L882.8,574.1 L891.0,573.4"/>
<path d="M168.1,572.6 L176.3,573.3 L184.5,573.3 L192.7,573.2 L200.9,572.7 L209.2,573.1 L217.4,573.1 L225.6,573.4 L233.8,573.9 L242.0,575.5 L250.2,576.4 L258.4,575.8 L266.7,575.8 L274.9,574.6 L283.1,573.6 L291.3,574.1 L299.5,573.6 L307.7,573.2 L316.0,574.1 L324.2,573.3 L332.4,573.2 L340.6,573.3 L348.8,572.8 L357.0,572.7 L365.2,573.2 L373.5,574.1 L381.7,574.6 L389.9,575.2 L398.1,574.5 L406.3,573.9 L414.5,572.6 L422.7,573.1 L431.0,574.7 L439.2,574.9 L447.4,576.4 L455.6,575.8 L463.8,574.9 L472.0,574.7 L480.2,574.4 L488.5,574.6 L496.7,575.0 L504.9,575.8 L513.1,575.8 L521.3,576.0 L529.5,575.3 L537.8,574.4 L546.0,574.7 L554.2,574.2 L562.4,574.5 L570.6,574.6 L578.8,574.6 L587.0,575.1 L595.3,575.1 L603.5,574.5 L611.7,573.9 L619.9,574.4 L628.1,574.5 L636.3,575.1 L644.5,575.8 L652.8,575.0 L661.0,574.4 L669.2,574.8 L677.4,574.9 L685.6,575.0 L693.8,576.0 L702.1,575.9 L710.3,575.6 L718.5,575.8 L726.7,575.3 L734.9,575.8 L743.1,575.9 L751.3,576.4 L759.6,575.8 L767.8,575.7 L776.0,576.3 L784.2,575.9 L792.4,575.7 L800.6,575.0 L808.9,574.0 L817.1,573.8 L825.3,575.0 L833.5,575.7 L841.7,575.3 L849.9,574.7 L858.1,573.3 L866.4,574.0 L874.6,576.3 L882.8,577.0 L891.0,578.7"/>
<path d="M168.1,563.9 L176.3,566.6 L184.5,567.2 L192.7,567.9 L200.9,569.8 L209.2,570.5 L217.4,571.3 L225.6,571.6 L233.8,571.2 L242.0,571.5 L250.2,571.0 L258.4,570.9 L266.7,569.7 L274.9,570.0 L283.1,569.8 L291.3,569.3 L299.5,568.7 L307.7,568.4 L316.0,568.0 L324.2,568.0 L332.4,568.7 L340.6,567.6 L348.8,567.6 L357.0,566.8 L365.2,565.7 L373.5,564.6 L381.7,563.9 L389.9,564.7 L398.1,565.6 L406.3,566.6 L414.5,566.7 L422.7,566.4 L431.0,565.9 L439.2,565.5 L447.4,565.5 L455.6,565.2 L463.8,565.4 L472.0,565.6 L480.2,565.4 L488.5,565.0 L496.7,565.3 L504.9,565.2 L513.1,564.8 L521.3,565.8 L529.5,565.4 L537.8,565.9 L546.0,566.2 L554.2,566.3 L562.4,566.2 L570.6,565.6 L578.8,565.0 L587.0,564.5 L595.3,565.1 L603.5,565.3 L611.7,566.1 L619.9,566.4 L628.1,565.8 L636.3,565.9 L644.5,565.7 L652.8,565.7 L661.0,566.5 L669.2,566.9 L677.4,566.8 L685.6,567.1 L693.8,565.9 L702.1,566.2 L710.3,566.3 L718.5,565.2 L726.7,565.9 L734.9,564.6 L743.1,564.9 L751.3,566.6 L759.6,566.4 L767.8,566.6 L776.0,566.5 L784.2,565.1 L792.4,565.4 L800.6,565.6 L808.9,565.7 L817.1,565.8 L825.3,565.4 L833.5,565.9 L841.7,566.0 L849.9,565.8 L858.1,565.6 L866.4,565.6 L874.6,565.2 L882.8,565.7 L891.0,565.7"/>
<path d="M168.1,581.0 L176.3,579.0 L184.5,576.3 L192.7,575.2 L200.9,574.5 L209.2,574.0 L217.4,575.1 L225.6,575.2 L233.8,574.7 L242.0,575.1 L250.2,574.4 L258.4,575.0 L266.7,575.1 L274.9,574.5 L283.1,574.4 L291.3,573.7 L299.5,572.8 L307.7,572.3 L316.0,573.9 L324.2,574.8 L332.4,575.7 L340.6,577.3 L348.8,575.9 L357.0,575.2 L365.2,575.5 L373.5,574.7 L381.7,574.9 L389.9,574.3 L398.1,574.7 L406.3,574.1 L414.5,574.7 L422.7,575.7 L431.0,574.7 L439.2,575.2 L447.4,575.5 L455.6,575.2 L463.8,576.0 L472.0,575.8 L480.2,574.2 L488.5,574.5 L496.7,573.4 L504.9,573.7 L513.1,575.2 L521.3,573.8 L529.5,574.5 L537.8,574.3 L546.0,574.1 L554.2,574.4 L562.4,574.7 L570.6,574.8 L578.8,574.3 L587.0,574.2 L595.3,573.7 L603.5,573.5 L611.7,573.8 L619.9,574.8 L628.1,574.7 L636.3,574.1 L644.5,573.8 L652.8,573.1 L661.0,573.6 L669.2,574.2 L677.4,575.0 L685.6,574.8 L693.8,573.7 L702.1,574.4 L710.3,574.3 L718.5,574.8 L726.7,575.4 L734.9,575.3 L743.1,574.6 L751.3,574.8 L759.6,575.4 L767.8,575.1 L776.0,575.1 L784.2,575.4 L792.4,574.6 L800.6,574.1 L808.9,575.0 L817.1,574.5 L825.3,575.6 L833.5,576.7 L841.7,575.4 L849.9,575.9 L858.1,575.3 L866.4,574.3 L874.6,575.3 L882.8,574.3 L891.0,574.8"/>
<path d="M168.1,573.7 L176.3,575.4 L184.5,576.6 L192.7,577.6 L200.9,577.7 L209.2,577.1 L217.4,577.3 L225.6,576.5 L233.8,577.2 L242.0,578.4 L250.2,578.1 L258.4,579.1 L266.7,579.0 L274.9,578.7 L283.1,580.6 L291.3,581.1 L299.5,582.2 L307.7,581.9 L316.0,581.6 L324.2,582.7 L332.4,581.9 L340.6,583.2 L348.8,583.7 L357.0,583.7 L365.2,584.3 L373.5,585.8 L381.7,585.1 L389.9,584.9 L398.1,584.6 L406.3,584.4 L414.5,585.2 L422.7,584.9 L431.0,585.8 L439.2,584.6 L447.4,585.4 L455.6,585.6 L463.8,585.2 L472.0,585.6 L480.2,585.8 L488.5,586.9 L496.7,587.2 L504.9,587.6 L513.1,586.5 L521.3,585.5 L529.5,585.3 L537.8,584.6 L546.0,584.5 L554.2,583.7 L562.4,582.9 L570.6,583.3 L578.8,584.1 L587.0,584.2 L595.3,585.2 L603.5,585.1 L611.7,584.9 L619.9,585.6 L628.1,586.2 L636.3,586.0 L644.5,585.2 L652.8,585.0 L661.0,584.6 L669.2,584.8 L677.4,586.0 L685.6,586.5 L693.8,586.6 L702.1,586.5 L710.3,586.0 L718.5,585.7 L726.7,585.3 L734.9,585.3 L743.1,585.3 L751.3,585.8 L759.6,586.4 L767.8,586.8 L776.0,587.2 L784.2,585.8 L792.4,585.2 L800.6,584.2 L808.9,583.3 L817.1,584.2 L825.3,584.1 L833.5,584.5 L841.7,584.8 L849.9,584.7 L858.1,584.8 L866.4,585.2 L874.6,585.4 L882.8,586.1 L891.0,586.0"/>
<path d="M168.1,563.5 L176.3,566.6 L184.5,569.0 L192.7,570.0 L200.9,571.3 L209.2,572.2 L217.4,573.9 L225.6,573.7 L233.8,573.1 L242.0,573.9 L250.2,572.9 L258.4,573.3 L266.7,573.7 L274.9,572.6 L283.1,572.5 L291.3,573.3 L299.5,574.1 L307.7,573.7 L316.0,573.5 L324.2,573.1 L332.4,572.5 L340.6,572.3 L348.8,571.9 L357.0,572.1 L365.2,571.6 L373.5,572.6 L381.7,572.6 L389.9,572.0 L398.1,571.5 L406.3,571.4 L414.5,572.3 L422.7,571.9 L431.0,572.1 L439.2,572.2 L447.4,572.3 L455.6,572.6 L463.8,573.5 L472.0,573.8 L480.2,573.2 L488.5,573.4 L496.7,572.6 L504.9,572.5 L513.1,571.8 L521.3,571.0 L529.5,570.9 L537.8,570.5 L546.0,571.8 L554.2,572.3 L562.4,572.2 L570.6,573.1 L578.8,572.1 L587.0,572.0 L595.3,572.5 L603.5,571.3 L611.7,571.3 L619.9,571.4 L628.1,570.8 L636.3,570.7 L644.5,571.3 L652.8,571.4 L661.0,571.3 L669.2,571.0 L677.4,570.9 L685.6,571.0 L693.8,570.8 L702.1,571.6 L710.3,571.7 L718.5,571.3 L726.7,571.4 L734.9,571.2 L743.1,571.8 L751.3,572.1 L759.6,572.2 L767.8,571.8 L776.0,570.7 L784.2,570.6 L792.4,571.0 L800.6,571.0 L808.9,571.7 L817.1,570.9 L825.3,571.4 L833.5,571.0 L841.7,571.3 L849.9,571.8 L858.1,571.4 L866.4,572.7 L874.6,571.7 L882.8,571.5 L891.0,571.1"/>
<path d="M168.1,576.2 L176.3,575.6 L184.5,575.2 L192.7,576.1 L200.9,575.9 L209.2,576.1 L217.4,575.8 L225.6,574.8 L233.8,574.6 L242.0,574.7 L250.2,575.8 L258.4,575.8 L266.7,577.0 L274.9,577.1 L283.1,576.7 L291.3,577.8 L299.5,577.7 L307.7,578.5 L316.0,579.5 L324.2,578.9 L332.4,578.9 L340.6,578.2 L348.8,577.5 L357.0,578.3 L365.2,578.3 L373.5,578.5 L381.7,578.8 L389.9,578.8 L398.1,578.3 L406.3,578.4 L414.5,577.7 L422.7,577.1 L431.0,576.7 L439.2,576.1 L447.4,577.3 L455.6,577.6 L463.8,578.5 L472.0,578.9 L480.2,577.9 L488.5,577.6 L496.7,577.6 L504.9,578.0 L513.1,578.4 L521.3,577.8 L529.5,577.9 L537.8,577.2 L546.0,577.4 L554.2,576.6 L562.4,576.3 L570.6,576.7 L578.8,576.1 L587.0,577.8 L595.3,578.2 L603.5,578.5 L611.7,579.4 L619.9,578.8 L628.1,578.4 L636.3,578.0 L644.5,577.1 L652.8,577.0 L661.0,577.4 L669.2,577.2 L677.4,578.1 L685.6,578.4 L693.8,577.2 L702.1,577.5 L710.3,577.0 L718.5,577.0 L726.7,577.5 L734.9,577.7 L743.1,577.5 L751.3,576.8 L759.6,577.4 L767.8,576.1 L776.0,576.0 L784.2,575.9 L792.4,575.4 L800.6,576.6 L808.9,576.7 L817.1,576.3 L825.3,575.6 L833.5,575.3 L841.7,575.5 L849.9,577.0 L858.1,578.2 L866.4,578.7 L874.6,578.5 L882.8,577.9 L891.0,577.1"/>
<path d="M168.1,569.1 L176.3,570.8 L184.5,571.9 L192.7,572.5 L200.9,574.1 L209.2,575.3 L217.4,575.3 L225.6,575.0 L233.8,574.5 L242.0,574.0 L250.2,574.4 L258.4,575.5 L266.7,575.7 L274.9,575.8 L283.1,575.7 L291.3,574.3 L299.5,575.2 L307.7,576.7 L316.0,577.3 L324.2,577.8 L332.4,577.5 L340.6,576.3 L348.8,576.6 L357.0,577.1 L365.2,577.5 L373.5,577.0 L381.7,576.9 L389.9,578.0 L398.1,578.6 L406.3,579.7 L414.5,579.8 L422.7,578.2 L431.0,577.1 L439.2,577.2 L447.4,577.2 L455.6,577.6 L463.8,579.0 L472.0,577.5 L480.2,577.9 L488.5,577.6 L496.7,576.5 L504.9,578.6 L513.1,577.5 L521.3,577.3 L529.5,577.6 L537.8,575.7 L546.0,576.2 L554.2,576.4 L562.4,575.9 L570.6,577.7 L578.8,577.4 L587.0,577.7 L595.3,578.1 L603.5,577.9 L611.7,577.9 L619.9,577.8 L628.1,578.3 L636.3,577.5 L644.5,577.5 L652.8,577.3 L661.0,577.3 L669.2,577.4 L677.4,576.9 L685.6,578.0 L693.8,577.6 L702.1,577.1 L710.3,577.6 L718.5,577.4 L726.7,576.9 L734.9,577.1 L743.1,577.7 L751.3,576.3 L759.6,576.1 L767.8,575.9 L776.0,575.6 L784.2,577.0 L792.4,578.2 L800.6,578.9 L808.9,578.5 L817.1,578.8 L825.3,578.3 L833.5,578.8 L841.7,579.8 L849.9,579.9 L858.1,580.4 L866.4,579.0 L874.6,578.4 L882.8,577.3 L891.0,576.9"/>
<path d="M168.1,574.3 L176.3,574.9 L184.5,574.8 L192.7,574.1 L200.9,574.3 L209.2,573.3 L217.4,573.6 L225.6,574.1 L233.8,574.8 L242.0,575.6 L250.2,575.5 L258.4,574.5 L266.7,574.5 L274.9,574.1 L283.1,574.4 L291.3,575.2 L299.5,573.6 L307.7,574.3 L316.0,573.5 L324.2,574.4 L332.4,575.6 L340.6,575.2 L348.8,576.5 L357.0,576.2 L365.2,576.4 L373.5,575.4 L381.7,574.7 L389.9,574.3 L398.1,573.7 L406.3,575.6 L414.5,575.6 L422.7,575.6 L431.0,575.8 L439.2,575.1 L447.4,575.3 L455.6,575.4 L463.8,575.7 L472.0,575.8 L480.2,576.4 L488.5,576.6 L496.7,576.8 L504.9,576.9 L513.1,577.0 L521.3,576.6 L529.5,575.9 L537.8,576.0 L546.0,576.0 L554.2,575.8 L562.4,575.8 L570.6,575.2 L578.8,574.2 L587.0,574.5 L595.3,574.9 L603.5,574.6 L611.7,575.6 L619.9,574.8 L628.1,574.7 L636.3,575.2 L644.5,575.2 L652.8,576.0 L661.0,576.3 L669.2,576.3 L677.4,575.0 L685.6,574.4 L693.8,574.2 L702.1,574.3 L710.3,575.3 L718.5,575.2 L726.7,575.8 L734.9,575.7 L743.1,576.5 L751.3,577.9 L759.6,577.1 L767.8,577.3 L776.0,576.1 L784.2,575.4 L792.4,574.9 L800.6,575.3 L808.9,574.1 L817.1,574.2 L825.3,574.6 L833.5,573.8 L841.7,574.1 L849.9,574.1 L858.1,574.4 L866.4,574.9 L874.6,575.6 L882.8,575.1 L891.0,575.8"/>
<path d="M168.1,569.2 L176.3,570.8 L184.5,572.8 L192.7,573.1 L200.9,573.7 L209.2,573.0 L217.4,574.0 L225.6,574.5 L233.8,574.6 L242.0,575.8 L250.2,575.7 L258.4,576.3 L266.7,576.4 L274.9,576.2 L283.1,576.8 L291.3,576.6 L299.5,576.6 L307.7,577.3 L316.0,576.9 L324.2,576.6 L332.4,577.0 L340.6,577.8 L348.8,577.7 L357.0,577.9 L365.2,578.2 L373.5,578.6 L381.7,579.5 L389.9,579.4 L398.1,579.4 L406.3,578.0 L414.5,577.8 L422.7,578.4 L431.0,578.2 L439.2,579.6 L447.4,579.5 L455.6,580.4 L463.8,581.3 L472.0,580.9 L480.2,580.8 L488.5,579.2 L496.7,578.1 L504.9,577.4 L513.1,577.0 L521.3,577.1 L529.5,577.6 L537.8,577.6 L546.0,579.0 L554.2,579.6 L562.4,578.6 L570.6,579.2 L578.8,578.2 L587.0,577.9 L595.3,579.2 L603.5,578.7 L611.7,579.0 L619.9,578.8 L628.1,577.8 L636.3,577.9 L644.5,578.1 L652.8,578.4 L661.0,579.5 L669.2,579.3 L677.4,579.4 L685.6,579.7 L693.8,578.6 L702.1,579.3 L710.3,578.9 L718.5,579.2 L726.7,579.7 L734.9,579.3 L743.1,579.1 L751.3,577.9 L759.6,577.9 L767.8,577.9 L776.0,577.5 L784.2,578.1 L792.4,578.2 L800.6,578.2 L808.9,578.6 L817.1,578.3 L825.3,577.7 L833.5,577.4 L841.7,577.4 L849.9,578.2 L858.1,578.9 L866.4,578.7 L874.6,578.9 L882.8,578.8 L891.0,578.9"/>
<path d="M168.1,567.5 L176.3,570.5 L184.5,572.7 L192.7,573.7 L200.9,574.3 L209.2,574.5 L217.4,574.1 L225.6,574.9 L233.8,574.4 L242.0,574.2 L250.2,574.3 L258.4,573.9 L266.7,574.4 L274.9,575.2 L283.1,575.8 L291.3,575.7 L299.5,576.1 L307.7,576.1 L316.0,576.5 L324.2,575.8 L332.4,575.4 L340.6,575.7 L348.8,574.3 L357.0,575.9 L365.2,576.0 L373.5,576.7 L381.7,577.6 L389.9,576.8 L398.1,577.9 L406.3,577.3 L414.5,578.4 L422.7,579.0 L431.0,578.8 L439.2,578.7 L447.4,578.0 L455.6,577.6 L463.8,577.8 L472.0,577.5 L480.2,577.7 L488.5,577.7 L496.7,577.3 L504.9,577.1 L513.1,576.3 L521.3,576.1 L529.5,575.9 L537.8,576.0 L546.0,577.1 L554.2,577.6 L562.4,577.0 L570.6,577.3 L578.8,576.1 L587.0,576.6 L595.3,576.7 L603.5,577.1 L611.7,578.3 L619.9,577.8 L628.1,578.7 L636.3,578.6 L644.5,578.6 L652.8,579.1 L661.0,578.4 L669.2,578.2 L677.4,578.1 L685.6,577.5 L693.8,578.2 L702.1,578.3 L710.3,577.6 L718.5,577.6 L726.7,577.4 L734.9,577.3 L743.1,577.4 L751.3,578.0 L759.6,577.6 L767.8,578.0 L776.0,577.5 L784.2,577.4 L792.4,577.3 L800.6,576.7 L808.9,577.3 L817.1,577.1 L825.3,577.7 L833.5,578.8 L841.7,578.4 L849.9,577.1 L858.1,576.5 L866.4,575.9 L874.6,576.1 L882.8,577.8 L891.0,578.3"/>
<path d="M168.1,563.0 L176.3,566.7 L184.5,569.7 L192.7,570.0 L200.9,570.5 L209.2,571.9 L217.4,572.3 L225.6,573.2 L233.8,573.5 L242.0,573.0 L250.2,572.9 L258.4,573.2 L266.7,573.0 L274.9,572.7 L283.1,572.7 L291.3,572.6 L299.5,572.9 L307.7,572.9 L316.0,572.9 L324.2,571.6 L332.4,571.0 L340.6,570.2 L348.8,570.0 L357.0,570.9 L365.2,570.8 L373.5,570.8 L381.7,570.5 L389.9,570.8 L398.1,570.6 L406.3,570.9 L414.5,570.6 L422.7,570.9 L431.0,571.1 L439.2,571.0 L447.4,570.3 L455.6,569.5 L463.8,570.0 L472.0,569.6 L480.2,569.9 L488.5,570.6 L496.7,569.9 L504.9,571.1 L513.1,571.4 L521.3,570.1 L529.5,570.3 L537.8,569.5 L546.0,569.5 L554.2,569.7 L562.4,569.3 L570.6,569.1 L578.8,567.7 L587.0,567.5 L595.3,568.0 L603.5,568.4 L611.7,568.7 L619.9,569.2 L628.1,568.5 L636.3,567.9 L644.5,569.0 L652.8,569.6 L661.0,569.7 L669.2,570.1 L677.4,569.9 L685.6,568.5 L693.8,568.7 L702.1,568.2 L710.3,568.0 L718.5,568.1 L726.7,568.6 L734.9,569.3 L743.1,569.8 L751.3,570.8 L759.6,570.5 L767.8,570.7 L776.0,569.6 L784.2,568.6 L792.4,568.0 L800.6,568.2 L808.9,569.0 L817.1,569.4 L825.3,570.9 L833.5,571.0 L841.7,570.8 L849.9,570.7 L858.1,569.9 L866.4,569.3 L874.6,568.8 L882.8,568.8 L891.0,568.3"/>
<path d="M168.1,574.4 L176.3,573.8 L184.5,573.9 L192.7,573.4 L200.9,572.7 L209.2,572.8 L217.4,573.2 L225.6,574.2 L233.8,573.6 L242.0,573.3 L250.2,572.2 L258.4,571.2 L266.7,571.6 L274.9,571.5 L283.1,572.1 L291.3,572.7 L299.5,572.4 L307.7,573.0 L316.0,572.9 L324.2,571.9 L332.4,572.4 L340.6,571.2 L348.8,570.5 L357.0,570.3 L365.2,569.8 L373.5,570.5 L381.7,569.8 L389.9,570.4 L398.1,570.2 L406.3,569.5 L414.5,570.0 L422.7,570.7 L431.0,571.1 L439.2,570.3 L447.4,570.0 L455.6,569.3 L463.8,568.5 L472.0,568.8 L480.2,569.1 L488.5,568.8 L496.7,569.3 L504.9,569.9 L513.1,569.5 L521.3,569.3 L529.5,569.3 L537.8,569.5 L546.0,569.2 L554.2,568.7 L562.4,569.2 L570.6,567.9 L578.8,568.9 L587.0,570.2 L595.3,570.5 L603.5,571.4 L611.7,571.0 L619.9,570.5 L628.1,569.9 L636.3,570.5 L644.5,570.7 L652.8,570.6 L661.0,570.7 L669.2,570.8 L677.4,571.1 L685.6,571.2 L693.8,571.8 L702.1,571.5 L710.3,570.5 L718.5,569.8 L726.7,569.4 L734.9,569.1 L743.1,569.0 L751.3,569.3 L759.6,569.1 L767.8,569.2 L776.0,568.8 L784.2,568.9 L792.4,569.5 L800.6,570.1 L808.9,570.9 L817.1,571.3 L825.3,570.1 L833.5,570.1 L841.7,571.0 L849.9,570.7 L858.1,571.9 L866.4,570.6 L874.6,569.7 L882.8,569.2 L891.0,569.9"/>
<path d="M168.1,570.6 L176.3,572.2 L184.5,571.4 L192.7,571.7 L200.9,572.4 L209.2,573.2 L217.4,573.8 L225.6,573.8 L233.8,573.5 L242.0,573.7 L250.2,574.4 L258.4,574.9 L266.7,574.9 L274.9,574.9 L283.1,574.8 L291.3,574.6 L299.5,574.5 L307.7,574.6 L316.0,574.8 L324.2,576.2 L332.4,576.5 L340.6,576.9 L348.8,576.3 L357.0,575.0 L365.2,575.9 L373.5,575.3 L381.7,575.1 L389.9,575.0 L398.1,574.2 L406.3,573.5 L414.5,574.7 L422.7,575.7 L431.0,575.7 L439.2,577.0 L447.4,576.6 L455.6,576.4 L463.8,576.1 L472.0,575.5 L480.2,575.2 L488.5,575.0 L496.7,575.3 L504.9,575.4 L513.1,575.5 L521.3,575.9 L529.5,576.8 L537.8,576.9 L546.0,575.9 L554.2,576.2 L562.4,575.1 L570.6,574.8 L578.8,575.7 L587.0,574.1 L595.3,573.6 L603.5,573.6 L611.7,574.3 L619.9,575.3 L628.1,576.4 L636.3,576.5 L644.5,576.0 L652.8,576.0 L661.0,574.9 L669.2,575.1 L677.4,575.1 L685.6,574.9 L693.8,576.2 L702.1,576.9 L710.3,577.0 L718.5,577.4 L726.7,577.3 L734.9,576.6 L743.1,577.2 L751.3,576.6 L759.6,576.5 L767.8,576.6 L776.0,575.2 L784.2,576.0 L792.4,575.5 L800.6,575.1 L808.9,576.4 L817.1,575.7 L825.3,576.6 L833.5,577.2 L841.7,576.6 L849.9,576.4 L858.1,575.6 L866.4,575.0 L874.6,575.4 L882.8,576.3 L891.0,575.9"/>
<path d="M168.1,577.4 L176.3,577.6 L184.5,577.7 L192.7,576.9 L200.9,575.7 L209.2,575.3 L217.4,574.3 L225.6,574.7 L233.8,575.0 L242.0,575.2 L250.2,576.1 L258.4,576.5 L266.7,576.3 L274.9,575.7 L283.1,576.3 L291.3,576.3 L299.5,576.9 L307.7,577.8 L316.0,577.3 L324.2,577.2 L332.4,576.9 L340.6,576.5 L348.8,577.5 L357.0,577.2 L365.2,577.4 L373.5,577.1 L381.7,575.8 L389.9,576.0 L398.1,575.9 L406.3,575.9 L414.5,576.1 L422.7,576.0 L431.0,576.3 L439.2,576.9 L447.4,577.9 L455.6,578.3 L463.8,578.1 L472.0,577.9 L480.2,577.6 L488.5,577.1 L496.7,576.9 L504.9,577.9 L513.1,577.6 L521.3,577.7 L529.5,578.6 L537.8,577.4 L546.0,577.2 L554.2,576.7 L562.4,575.6 L570.6,575.9 L578.8,576.1 L587.0,576.5 L595.3,577.8 L603.5,577.8 L611.7,577.7 L619.9,578.2 L628.1,576.7 L636.3,576.8 L644.5,577.2 L652.8,576.8 L661.0,577.2 L669.2,577.4 L677.4,577.0 L685.6,577.5 L693.8,577.4 L702.1,577.1 L710.3,577.1 L718.5,576.0 L726.7,576.5 L734.9,576.5 L743.1,577.4 L751.3,578.1 L759.6,578.1 L767.8,577.7 L776.0,576.3 L784.2,575.5 L792.4,575.0 L800.6,576.3 L808.9,576.6 L817.1,577.6 L825.3,578.1 L833.5,577.8 L841.7,578.5 L849.9,578.1 L858.1,577.9 L866.4,576.8 L874.6,576.2 L882.8,576.9 L891.0,576.5"/>
<path d="M168.1,571.7 L176.3,571.0 L184.5,572.1 L192.7,573.7 L200.9,572.9 L209.2,573.1 L217.4,572.3 L225.6,571.9 L233.8,572.8 L242.0,573.3 L250.2,574.9 L258.4,574.7 L266.7,574.4 L274.9,573.8 L283.1,572.2 L291.3,571.8 L299.5,571.1 L307.7,570.7 L316.0,570.0 L324.2,569.9 L332.4,570.6 L340.6,571.1 L348.8,572.0 L357.0,572.5 L365.2,572.8 L373.5,573.2 L381.7,573.0 L389.9,572.6 L398.1,571.9 L406.3,570.7 L414.5,571.8 L422.7,571.8 L431.0,571.4 L439.2,571.3 L447.4,570.0 L455.6,570.1 L463.8,571.0 L472.0,572.2 L480.2,572.4 L488.5,572.4 L496.7,571.7 L504.9,570.5 L513.1,571.1 L521.3,570.7 L529.5,571.2 L537.8,571.4 L546.0,569.8 L554.2,568.9 L562.4,567.8 L570.6,568.1 L578.8,569.3 L587.0,570.4 L595.3,570.8 L603.5,570.0 L611.7,570.6 L619.9,570.8 L628.1,571.6 L636.3,572.7 L644.5,572.4 L652.8,572.2 L661.0,572.1 L669.2,572.1 L677.4,572.1 L685.6,572.7 L693.8,572.2 L702.1,571.4 L710.3,571.8 L718.5,572.4 L726.7,572.3 L734.9,573.2 L743.1,572.6 L751.3,571.4 L759.6,571.9 L767.8,572.1 L776.0,572.0 L784.2,572.8 L792.4,572.8 L800.6,572.7 L808.9,572.5 L817.1,571.2 L825.3,570.9 L833.5,571.0 L841.7,570.9 L849.9,572.2 L858.1,572.5 L866.4,572.3 L874.6,572.6 L882.8,572.1 L891.0,572.5"/>
<path d="M168.1,565.1 L176.3,569.1 L184.5,571.2 L192.7,573.0 L200.9,574.7 L209.2,575.5 L217.4,575.4 L225.6,575.8 L233.8,576.5 L242.0,576.3 L250.2,577.1 L258.4,577.9 L266.7,578.2 L274.9,578.3 L283.1,578.4 L291.3,577.8 L299.5,577.6 L307.7,578.1 L316.0,579.3 L324.2,580.2 L332.4,579.9 L340.6,579.4 L348.8,578.4 L357.0,577.5 L365.2,577.9 L373.5,578.9 L381.7,579.3 L389.9,578.8 L398.1,579.2 L406.3,578.7 L414.5,579.3 L422.7,580.4 L431.0,580.5 L439.2,580.3 L447.4,579.8 L455.6,579.7 L463.8,579.3 L472.0,580.0 L480.2,579.6 L488.5,579.4 L496.7,579.2 L504.9,578.6 L513.1,578.4 L521.3,578.2 L529.5,577.9 L537.8,577.9 L546.0,577.9 L554.2,578.6 L562.4,578.6 L570.6,578.7 L578.8,579.0 L587.0,578.6 L595.3,578.8 L603.5,578.3 L611.7,579.5 L619.9,578.5 L628.1,578.2 L636.3,578.5 L644.5,578.4 L652.8,579.7 L661.0,580.7 L669.2,580.6 L677.4,579.4 L685.6,579.5 L693.8,578.8 L702.1,579.4 L710.3,579.2 L718.5,578.5 L726.7,578.2 L734.9,578.2 L743.1,579.3 L751.3,579.5 L759.6,579.3 L767.8,579.5 L776.0,578.2 L784.2,578.1 L792.4,578.0 L800.6,577.4 L808.9,577.5 L817.1,577.5 L825.3,578.1 L833.5,579.1 L841.7,579.6 L849.9,578.9 L858.1,579.0 L866.4,578.2 L874.6,578.7 L882.8,579.5 L891.0,579.6"/>
<path d="M168.1,566.7 L176.3,569.3 L184.5,570.6 L192.7,573.1 L200.9,573.9 L209.2,575.0 L217.4,575.6 L225.6,575.1 L233.8,574.6 L242.0,574.6 L250.2,574.3 L258.4,575.2 L266.7,575.4 L274.9,574.9 L283.1,575.3 L291.3,575.1 L299.5,575.2 L307.7,575.4 L316.0,574.0 L324.2,573.2 L332.4,572.4 L340.6,572.7 L348.8,573.7 L357.0,574.0 L365.2,574.6 L373.5,574.0 L381.7,573.5 L389.9,574.5 L398.1,574.0 L406.3,574.3 L414.5,574.6 L422.7,574.3 L431.0,574.4 L439.2,574.0 L447.4,574.7 L455.6,574.0 L463.8,574.5 L472.0,575.0 L480.2,574.9 L488.5,575.4 L496.7,574.9 L504.9,575.1 L513.1,574.6 L521.3,574.3 L529.5,574.7 L537.8,574.5 L546.0,573.9 L554.2,573.8 L562.4,572.3 L570.6,571.1 L578.8,572.1 L587.0,572.2 L595.3,573.3 L603.5,574.3 L611.7,573.8 L619.9,574.4 L628.1,574.3 L636.3,574.8 L644.5,574.9 L652.8,574.4 L661.0,575.3 L669.2,574.3 L677.4,572.7 L685.6,572.7 L693.8,572.1 L702.1,572.4 L710.3,573.7 L718.5,573.8 L726.7,574.1 L734.9,574.5 L743.1,574.4 L751.3,573.6 L759.6,573.7 L767.8,573.4 L776.0,573.4 L784.2,573.3 L792.4,573.9 L800.6,573.6 L808.9,574.0 L817.1,575.5 L825.3,574.0 L833.5,574.8 L841.7,573.9 L849.9,572.5 L858.1,573.3 L866.4,572.5 L874.6,573.0 L882.8,573.4 L891.0,573.2"/>
<path d="M168.1,563.3 L176.3,566.0 L184.5,568.2 L192.7,570.0 L200.9,571.7 L209.2,572.5 L217.4,572.3 L225.6,573.2 L233.8,573.7 L242.0,574.7 L250.2,574.4 L258.4,573.7 L266.7,573.0 L274.9,572.7 L283.1,573.3 L291.3,572.9 L299.5,573.4 L307.7,573.3 L316.0,573.4 L324.2,572.0 L332.4,570.9 L340.6,570.2 L348.8,570.4 L357.0,571.6 L365.2,571.8 L373.5,572.0 L381.7,571.5 L389.9,571.2 L398.1,571.5 L406.3,571.2 L414.5,571.4 L422.7,571.9 L431.0,571.6 L439.2,571.3 L447.4,570.7 L455.6,570.7 L463.8,570.6 L472.0,571.2 L480.2,571.2 L488.5,571.7 L496.7,571.4 L504.9,571.2 L513.1,571.3 L521.3,570.2 L529.5,570.2 L537.8,570.1 L546.0,570.7 L554.2,571.7 L562.4,571.4 L570.6,571.3 L578.8,570.7 L587.0,570.7 L595.3,570.7 L603.5,571.6 L611.7,571.8 L619.9,571.8 L628.1,573.0 L636.3,571.6 L644.5,572.2 L652.8,571.5 L661.0,570.9 L669.2,571.5 L677.4,569.9 L685.6,570.3 L693.8,571.3 L702.1,571.5 L710.3,571.7 L718.5,571.8 L726.7,571.3 L734.9,571.2 L743.1,571.5 L751.3,571.5 L759.6,571.4 L767.8,571.8 L776.0,572.0 L784.2,571.7 L792.4,571.1 L800.6,570.5 L808.9,570.8 L817.1,571.3 L825.3,571.7 L833.5,572.5 L841.7,572.7 L849.9,572.2 L858.1,572.4 L866.4,572.1 L874.6,572.9 L882.8,572.2 L891.0,571.6"/>
<path d="M168.1,573.3 L176.3,572.7 L184.5,573.1 L192.7,574.1 L200.9,574.7 L209.2,575.6 L217.4,575.1 L225.6,574.3 L233.8,573.8 L242.0,572.8 L250.2,572.8 L258.4,573.4 L266.7,573.6 L274.9,573.4 L283.1,573.2 L291.3,572.7 L299.5,572.4 L307.7,572.5 L316.0,572.4 L324.2,572.9 L332.4,572.5 L340.6,573.0 L348.8,572.5 L357.0,571.3 L365.2,572.2 L373.5,571.7 L381.7,571.6 L389.9,571.7 L398.1,570.7 L406.3,570.9 L414.5,571.9 L422.7,571.3 L431.0,571.4 L439.2,571.8 L447.4,571.9 L455.6,572.2 L463.8,572.7 L472.0,572.5 L480.2,571.9 L488.5,572.4 L496.7,573.3 L504.9,573.7 L513.1,574.3 L521.3,574.7 L529.5,573.4 L537.8,571.8 L546.0,571.3 L554.2,571.7 L562.4,572.4 L570.6,573.3 L578.8,573.3 L587.0,571.7 L595.3,571.1 L603.5,571.7 L611.7,571.1 L619.9,572.9 L628.1,572.6 L636.3,572.0 L644.5,572.2 L652.8,572.1 L661.0,572.4 L669.2,572.4 L677.4,572.4 L685.6,572.0 L693.8,572.0 L702.1,571.9 L710.3,572.8 L718.5,573.0 L726.7,573.3 L734.9,573.3 L743.1,572.8 L751.3,572.0 L759.6,571.9 L767.8,571.9 L776.0,572.5 L784.2,572.8 L792.4,572.0 L800.6,572.8 L808.9,572.0 L817.1,571.9 L825.3,572.8 L833.5,572.8 L841.7,571.9 L849.9,571.9 L858.1,571.6 L866.4,570.6 L874.6,571.6 L882.8,572.1 L891.0,572.8"/>
<path d="M168.1,572.2 L176.3,574.9 L184.5,575.5 L192.7,575.9 L200.9,576.2 L209.2,576.2 L217.4,576.2 L225.6,576.9 L233.8,577.1 L242.0,576.3 L250.2,577.3 L258.4,578.3 L266.7,579.4 L274.9,580.0 L283.1,580.9 L291.3,581.2 L299.5,581.7 L307.7,583.3 L316.0,582.8 L324.2,583.0 L332.4,582.9 L340.6,582.9 L348.8,583.7 L357.0,583.5 L365.2,584.7 L373.5,585.6 L381.7,585.8 L389.9,586.6 L398.1,586.0 L406.3,585.6 L414.5,585.7 L422.7,584.9 L431.0,585.4 L439.2,584.8 L447.4,584.6 L455.6,584.6 L463.8,584.5 L472.0,585.5 L480.2,585.5 L488.5,586.8 L496.7,586.5 L504.9,585.8 L513.1,586.5 L521.3,585.2 L529.5,584.6 L537.8,584.3 L546.0,583.4 L554.2,584.0 L562.4,584.5 L570.6,584.6 L578.8,584.9 L587.0,585.2 L595.3,585.4 L603.5,584.7 L611.7,584.5 L619.9,585.0 L628.1,584.5 L636.3,585.0 L644.5,584.8 L652.8,584.0 L661.0,584.8 L669.2,585.8 L677.4,586.3 L685.6,586.4 L693.8,585.6 L702.1,585.0 L710.3,584.8 L718.5,584.8 L726.7,585.0 L734.9,585.1 L743.1,585.6 L751.3,585.8 L759.6,586.5 L767.8,586.3 L776.0,586.0 L784.2,585.5 L792.4,585.8 L800.6,585.8 L808.9,586.3 L817.1,587.0 L825.3,586.5 L833.5,586.7 L841.7,587.1 L849.9,586.3 L858.1,586.0 L866.4,586.0 L874.6,585.1 L882.8,585.4 L891.0,585.2"/>
<path d="M168.1,578.9 L176.3,577.4 L184.5,576.3 L192.7,575.5 L200.9,574.7 L209.2,574.7 L217.4,573.7 L225.6,573.3 L233.8,573.1 L242.0,573.0 L250.2,573.5 L258.4,573.3 L266.7,573.9 L274.9,572.8 L283.1,572.9 L291.3,572.8 L299.5,571.6 L307.7,572.0 L316.0,571.5 L324.2,570.8 L332.4,571.3 L340.6,571.2 L348.8,571.4 L357.0,571.5 L365.2,571.3 L373.5,572.0 L381.7,571.4 L389.9,572.3 L398.1,572.7 L406.3,572.4 L414.5,573.9 L422.7,573.2 L431.0,572.7 L439.2,571.4 L447.4,571.5 L455.6,572.2 L463.8,572.5 L472.0,574.6 L480.2,573.4 L488.5,572.6 L496.7,573.0 L504.9,571.8 L513.1,572.4 L521.3,571.8 L529.5,571.8 L537.8,571.1 L546.0,570.7 L554.2,570.5 L562.4,570.0 L570.6,570.6 L578.8,570.4 L587.0,571.5 L595.3,571.3 L603.5,571.3 L611.7,570.7 L619.9,570.7 L628.1,571.2 L636.3,571.7 L644.5,572.7 L652.8,572.5 L661.0,572.6 L669.2,572.6 L677.4,572.4 L685.6,573.0 L693.8,571.9 L702.1,572.2 L710.3,572.2 L718.5,571.8 L726.7,572.5 L734.9,572.3 L743.1,571.8 L751.3,570.8 L759.6,570.4 L767.8,570.1 L776.0,570.5 L784.2,571.5 L792.4,572.1 L800.6,572.8 L808.9,571.9 L817.1,571.4 L825.3,570.9 L833.5,571.1 L841.7,571.9 L849.9,573.7 L858.1,574.5 L866.4,573.9 L874.6,573.7 L882.8,572.5 L891.0,572.1"/>
<path d="M168.1,561.4 L176.3,565.8 L184.5,568.0 L192.7,570.3 L200.9,572.9 L209.2,573.3 L217.4,574.3 L225.6,574.4 L233.8,573.4 L242.0,573.2 L250.2,572.2 L258.4,570.7 L266.7,571.2 L274.9,570.5 L283.1,570.4 L291.3,570.8 L299.5,569.3 L307.7,569.1 L316.0,568.2 L324.2,568.7 L332.4,569.1 L340.6,568.9 L348.8,569.4 L357.0,568.7 L365.2,568.1 L373.5,567.5 L381.7,566.8 L389.9,567.0 L398.1,567.2 L406.3,567.6 L414.5,567.5 L422.7,566.8 L431.0,566.9 L439.2,567.7 L447.4,567.9 L455.6,568.6 L463.8,569.4 L472.0,568.9 L480.2,569.7 L488.5,569.5 L496.7,568.1 L504.9,568.1 L513.1,567.8 L521.3,568.1 L529.5,568.0 L537.8,568.6 L546.0,568.4 L554.2,567.3 L562.4,567.4 L570.6,566.5 L578.8,566.3 L587.0,566.7 L595.3,567.4 L603.5,567.6 L611.7,568.6 L619.9,567.8 L628.1,567.0 L636.3,567.3 L644.5,566.1 L652.8,566.5 L661.0,566.9 L669.2,565.8 L677.4,566.4 L685.6,566.3 L693.8,566.2 L702.1,567.2 L710.3,568.0 L718.5,568.1 L726.7,568.4 L734.9,568.0 L743.1,567.3 L751.3,567.1 L759.6,567.0 L767.8,567.2 L776.0,567.2 L784.2,567.6 L792.4,567.9 L800.6,567.9 L808.9,567.8 L817.1,567.3 L825.3,566.8 L833.5,566.9 L841.7,567.2 L849.9,568.3 L858.1,568.2 L866.4,568.0 L874.6,567.3 L882.8,566.9 L891.0,567.4"/>
<path d="M168.1,565.7 L176.3,566.9 L184.5,569.2 L192.7,569.9 L200.9,570.0 L209.2,571.6 L217.4,571.2 L225.6,571.5 L233.8,571.4 L242.0,570.8 L250.2,570.8 L258.4,570.7 L266.7,570.8 L274.9,570.5 L283.1,570.7 L291.3,571.3 L299.5,570.7 L307.7,570.7 L316.0,570.5 L324.2,569.4 L332.4,569.0 L340.6,569.4 L348.8,568.2 L357.0,568.2 L365.2,568.1 L373.5,566.6 L381.7,566.0 L389.9,565.4 L398.1,565.4 L406.3,565.7 L414.5,566.5 L422.7,566.7 L431.0,567.0 L439.2,567.0 L447.4,566.2 L455.6,565.7 L463.8,565.5 L472.0,566.7 L480.2,568.3 L488.5,569.2 L496.7,568.5 L504.9,567.4 L513.1,566.5 L521.3,566.5 L529.5,566.9 L537.8,567.7 L546.0,566.3 L554.2,566.0 L562.4,565.9 L570.6,564.9 L578.8,566.2 L587.0,566.1 L595.3,566.5 L603.5,567.0 L611.7,566.3 L619.9,566.5 L628.1,566.0 L636.3,566.1 L644.5,566.5 L652.8,566.1 L661.0,565.0 L669.2,564.5 L677.4,564.7 L685.6,566.0 L693.8,567.0 L702.1,568.4 L710.3,569.1 L718.5,568.2 L726.7,568.7 L734.9,567.7 L743.1,566.1 L751.3,566.4 L759.6,567.3 L767.8,567.3 L776.0,569.6 L784.2,569.7 L792.4,568.2 L800.6,568.4 L808.9,566.7 L817.1,566.5 L825.3,567.4 L833.5,566.9 L841.7,567.0 L849.9,566.5 L858.1,565.9 L866.4,566.0 L874.6,566.2 L882.8,565.6 L891.0,565.9"/>
<path d="M168.1,564.8 L176.3,566.8 L184.5,569.2 L192.7,570.7 L200.9,572.0 L209.2,572.7 L217.4,572.4 L225.6,571.7 L233.8,572.4 L242.0,572.2 L250.2,572.2 L258.4,572.7 L266.7,571.1 L274.9,571.2 L283.1,570.6 L291.3,570.0 L299.5,570.2 L307.7,569.1 L316.0,570.0 L324.2,570.0 L332.4,569.0 L340.6,569.2 L348.8,569.1 L357.0,568.5 L365.2,568.7 L373.5,568.8 L381.7,568.5 L389.9,567.9 L398.1,568.9 L406.3,569.6 L414.5,569.9 L422.7,571.0 L431.0,569.8 L439.2,569.1 L447.4,568.3 L455.6,567.8 L463.8,567.7 L472.0,567.4 L480.2,568.1 L488.5,568.2 L496.7,568.9 L504.9,569.0 L513.1,568.0 L521.3,568.6 L529.5,569.0 L537.8,568.4 L546.0,570.0 L554.2,568.8 L562.4,567.9 L570.6,568.0 L578.8,567.8 L587.0,569.6 L595.3,570.1 L603.5,571.1 L611.7,569.7 L619.9,568.6 L628.1,568.6 L636.3,569.1 L644.5,569.3 L652.8,569.1 L661.0,569.0 L669.2,568.0 L677.4,568.4 L685.6,568.8 L693.8,568.7 L702.1,569.5 L710.3,568.9 L718.5,569.3 L726.7,568.9 L734.9,568.7 L743.1,570.1 L751.3,569.1 L759.6,569.9 L767.8,569.9 L776.0,569.2 L784.2,570.1 L792.4,569.9 L800.6,569.1 L808.9,568.5 L817.1,568.4 L825.3,567.2 L833.5,567.5 L841.7,567.8 L849.9,567.9 L858.1,568.1 L866.4,568.7 L874.6,568.2 L882.8,567.9 L891.0,569.1"/>
<path d="M168.1,567.1 L176.3,569.0 L184.5,570.6 L192.7,571.7 L200.9,572.7 L209.2,572.9 L217.4,572.2 L225.6,573.0 L233.8,572.8 L242.0,573.1 L250.2,573.2 L258.4,571.9 L266.7,571.9 L274.9,571.4 L283.1,572.3 L291.3,572.8 L299.5,572.2 L307.7,572.5 L316.0,570.3 L324.2,570.8 L332.4,570.7 L340.6,570.1 L348.8,570.9 L357.0,570.0 L365.2,570.0 L373.5,570.7 L381.7,570.6 L389.9,571.2 L398.1,570.8 L406.3,569.9 L414.5,569.4 L422.7,569.0 L431.0,569.8 L439.2,570.1 L447.4,570.1 L455.6,571.3 L463.8,572.9 L472.0,572.6 L480.2,573.6 L488.5,573.0 L496.7,571.9 L504.9,571.9 L513.1,570.9 L521.3,570.9 L529.5,570.3 L537.8,570.0 L546.0,571.0 L554.2,570.4 L562.4,571.3 L570.6,572.1 L578.8,571.3 L587.0,571.3 L595.3,570.8 L603.5,570.6 L611.7,570.3 L619.9,570.8 L628.1,570.1 L636.3,571.0 L644.5,570.4 L652.8,569.7 L661.0,569.4 L669.2,568.7 L677.4,569.6 L685.6,570.4 L693.8,571.0 L702.1,570.7 L710.3,571.7 L718.5,572.1 L726.7,571.8 L734.9,572.0 L743.1,571.3 L751.3,570.7 L759.6,570.5 L767.8,570.9 L776.0,571.0 L784.2,571.1 L792.4,572.1 L800.6,572.0 L808.9,572.4 L817.1,572.2 L825.3,572.6 L833.5,572.6 L841.7,572.9 L849.9,572.5 L858.1,571.2 L866.4,571.0 L874.6,569.7 L882.8,569.5 L891.0,571.0"/>
<path d="M168.1,574.5 L176.3,573.3 L184.5,573.4 L192.7,573.3 L200.9,573.3 L209.2,574.2 L217.4,574.3 L225.6,575.9 L233.8,576.1 L242.0,575.5 L250.2,574.8 L258.4,574.1 L266.7,573.2 L274.9,572.5 L283.1,573.3 L291.3,572.6 L299.5,573.5 L307.7,574.5 L316.0,573.8 L324.2,574.1 L332.4,573.1 L340.6,571.6 L348.8,571.7 L357.0,572.6 L365.2,573.4 L373.5,574.6 L381.7,574.9 L389.9,574.4 L398.1,573.9 L406.3,574.0 L414.5,574.1 L422.7,574.0 L431.0,573.5 L439.2,573.3 L447.4,573.4 L455.6,573.2 L463.8,573.8 L472.0,573.7 L480.2,573.3 L488.5,573.4 L496.7,573.4 L504.9,573.2 L513.1,573.9 L521.3,573.6 L529.5,573.7 L537.8,573.4 L546.0,572.5 L554.2,572.3 L562.4,573.1 L570.6,573.6 L578.8,573.2 L587.0,573.5 L595.3,572.9 L603.5,573.4 L611.7,573.8 L619.9,574.0 L628.1,574.6 L636.3,573.3 L644.5,572.5 L652.8,572.2 L661.0,571.7 L669.2,573.2 L677.4,574.3 L685.6,574.6 L693.8,575.4 L702.1,574.3 L710.3,574.1 L718.5,574.0 L726.7,573.5 L734.9,573.2 L743.1,572.8 L751.3,572.3 L759.6,572.2 L767.8,572.3 L776.0,573.2 L784.2,573.7 L792.4,573.7 L800.6,574.1 L808.9,573.7 L817.1,573.4 L825.3,574.5 L833.5,574.1 L841.7,574.3 L849.9,574.8 L858.1,573.3 L866.4,573.3 L874.6,572.6 L882.8,571.9 L891.0,572.1"/>
<path d="M168.1,564.1 L176.3,568.0 L184.5,569.7 L192.7,571.0 L200.9,572.5 L209.2,572.8 L217.4,574.4 L225.6,574.4 L233.8,573.0 L242.0,572.9 L250.2,572.5 L258.4,573.4 L266.7,574.9 L274.9,575.0 L283.1,575.3 L291.3,575.0 L299.5,574.5 L307.7,574.8 L316.0,574.9 L324.2,575.2 L332.4,575.5 L340.6,575.4 L348.8,575.5 L357.0,575.5 L365.2,575.4 L373.5,575.0 L381.7,574.6 L389.9,574.3 L398.1,573.1 L406.3,574.0 L414.5,574.5 L422.7,574.8 L431.0,576.3 L439.2,575.9 L447.4,576.2 L455.6,576.3 L463.8,576.3 L472.0,576.7 L480.2,577.2 L488.5,577.5 L496.7,576.9 L504.9,576.2 L513.1,575.5 L521.3,576.0 L529.5,576.4 L537.8,576.4 L546.0,576.6 L554.2,575.3 L562.4,575.4 L570.6,575.7 L578.8,575.3 L587.0,576.1 L595.3,576.2 L603.5,576.4 L611.7,577.4 L619.9,576.3 L628.1,576.1 L636.3,576.3 L644.5,574.9 L652.8,575.7 L661.0,575.9 L669.2,575.7 L677.4,575.8 L685.6,576.5 L693.8,576.2 L702.1,576.8 L710.3,577.2 L718.5,576.9 L726.7,576.5 L734.9,575.9 L743.1,575.2 L751.3,574.6 L759.6,575.4 L767.8,575.5 L776.0,576.6 L784.2,576.9 L792.4,576.0 L800.6,575.6 L808.9,575.9 L817.1,575.5 L825.3,576.5 L833.5,576.0 L841.7,575.1 L849.9,575.4 L858.1,573.4 L866.4,573.4 L874.6,574.0 L882.8,573.6 L891.0,575.2"/>
</g>
<g stroke="#c4c4c4" stroke-width="1.1" fill="none" stroke-opacity="0.37" style="filter:blur(0.3px)">
<path d="M168.1,574.5 L172.2,574.8 L176.3,574.4 L180.4,574.2 L184.5,573.8 L188.6,574.1 L192.7,573.4 L196.8,573.8 L200.9,573.8 L205.0,573.9 L209.2,573.4 L213.3,573.7 L217.4,573.3 L221.5,573.4 L225.6,573.2 L229.7,573.8 L233.8,573.9 L237.9,574.3 L242.0,574.6 L246.1,573.9 L250.2,573.4 L254.3,573.4 L258.4,573.0 L262.6,572.7 L266.7,573.2 L270.8,573.4 L274.9,573.5 L279.0,573.6 L283.1,573.2 L287.2,573.6 L291.3,573.5 L295.4,573.6 L299.5,573.1 L303.6,573.8 L307.7,573.2 L311.8,573.0 L316.0,572.6 L320.1,573.0 L324.2,572.6 L328.3,573.0 L332.4,572.6 L336.5,573.0 L340.6,573.9 L344.7,574.3 L348.8,574.0 L352.9,574.6 L357.0,574.3 L361.1,573.3 L365.2,572.9 L369.3,572.9 L373.5,572.3 L377.6,572.4 L381.7,572.5 L385.8,572.8 L389.9,572.5 L394.0,572.5 L398.1,572.5 L402.2,572.3 L406.3,572.1 L410.4,572.2 L414.5,572.4 L418.6,572.8 L422.7,573.3 L426.9,573.2 L431.0,573.1 L435.1,573.6 L439.2,573.5 L443.3,573.9 L447.4,574.4 L451.5,574.6 L455.6,574.4 L459.7,573.9 L463.8,572.8 L467.9,572.7 L472.0,572.5 L476.1,571.9 L480.2,571.5 L484.4,571.1 L488.5,569.8 L492.6,568.9 L496.7,568.3 L500.8,567.1 L504.9,565.9 L509.0,565.1 L513.1,563.7 L517.2,561.8 L521.3,560.0 L525.4,557.8 L529.5,554.9 L533.6,551.7 L537.8,548.3 L541.9,544.2 L546.0,539.4 L550.1,533.6 L554.2,525.7 L558.3,517.6 L562.4,509.4 L566.5,500.8 L570.6,492.0 L574.7,482.9 L578.8,473.5 L582.9,464.0 L587.0,454.7 L591.2,444.9 L595.3,435.1 L599.4,424.9 L603.5,414.4 L607.6,403.9 L611.7,393.3 L615.8,383.1 L619.9,372.5 L624.0,362.3 L628.1,351.8 L632.2,341.1 L636.3,330.2 L640.4,319.0 L644.5,308.2 L648.7,298.1 L652.8,288.9 L656.9,280.1 L661.0,272.1 L665.1,265.2 L669.2,258.7 L673.3,252.7 L677.4,247.0 L681.5,242.6 L685.6,238.8 L689.7,235.5 L693.8,233.3 L697.9,230.2 L702.1,228.7 L706.2,226.8 L710.3,224.0 L714.4,222.2 L718.5,219.3 L722.6,216.2 L726.7,214.8 L730.8,212.7 L734.9,211.8 L739.0,211.6 L743.1,210.6 L747.2,210.1 L751.3,209.4 L755.5,208.1 L759.6,208.1 L763.7,207.2 L767.8,206.2 L771.9,205.3 L776.0,203.4 L780.1,201.9 L784.2,199.6 L788.3,197.2 L792.4,194.7 L796.5,192.5 L800.6,190.6 L804.7,189.2 L808.9,187.2 L813.0,185.1 L817.1,183.5 L821.2,181.3 L825.3,179.5 L829.4,178.2 L833.5,176.1 L837.6,174.4 L841.7,173.1 L845.8,171.1 L849.9,170.0 L854.0,167.9 L858.1,166.2 L862.2,164.4 L866.4,162.5 L870.5,160.4 L874.6,158.3 L878.7,157.2 L882.8,155.2 L886.9,154.3 L891.0,153.0"/>
<path d="M168.1,575.0 L172.2,574.9 L176.3,574.2 L180.4,574.3 L184.5,574.6 L188.6,574.6 L192.7,574.3 L196.8,574.2 L200.9,573.9 L205.0,573.6 L209.2,573.2 L213.3,573.9 L217.4,574.4 L221.5,574.9 L225.6,575.3 L229.7,575.2 L233.8,574.7 L237.9,573.8 L242.0,573.8 L246.1,573.5 L250.2,573.4 L254.3,573.2 L258.4,573.7 L262.6,573.4 L266.7,573.4 L270.8,573.6 L274.9,573.8 L279.0,573.5 L283.1,573.5 L287.2,573.0 L291.3,573.4 L295.4,573.4 L299.5,573.2 L303.6,572.9 L307.7,573.1 L311.8,572.9 L316.0,573.1 L320.1,573.5 L324.2,574.0 L328.3,574.4 L332.4,574.0 L336.5,574.4 L340.6,574.4 L344.7,573.9 L348.8,573.5 L352.9,573.4 L357.0,572.6 L361.1,572.3 L365.2,572.3 L369.3,572.7 L373.5,573.1 L377.6,573.0 L381.7,572.9 L385.8,573.1 L389.9,572.1 L394.0,571.9 L398.1,572.9 L402.2,572.6 L406.3,573.3 L410.4,573.8 L414.5,573.9 L418.6,573.6 L422.7,574.1 L426.9,573.6 L431.0,573.0 L435.1,573.3 L439.2,573.4 L443.3,573.2 L447.4,573.2 L451.5,573.5 L455.6,573.1 L459.7,572.9 L463.8,572.5 L467.9,572.1 L472.0,572.3 L476.1,572.1 L480.2,571.7 L484.4,571.5 L488.5,571.0 L492.6,570.1 L496.7,568.9 L500.8,568.1 L504.9,566.8 L509.0,565.4 L513.1,563.8 L517.2,562.3 L521.3,560.1 L525.4,557.8 L529.5,554.9 L533.6,551.6 L537.8,548.1 L541.9,544.0 L546.0,539.3 L550.1,533.5 L554.2,525.9 L558.3,517.8 L562.4,509.6 L566.5,501.0 L570.6,491.8 L574.7,482.4 L578.8,473.0 L582.9,463.7 L587.0,454.3 L591.2,444.6 L595.3,434.7 L599.4,424.3 L603.5,413.8 L607.6,403.4 L611.7,392.9 L615.8,382.7 L619.9,372.4 L624.0,362.4 L628.1,351.7 L632.2,340.8 L636.3,329.8 L640.4,318.5 L644.5,308.3 L648.7,298.5 L652.8,289.2 L656.9,280.5 L661.0,272.2 L665.1,264.3 L669.2,258.5 L673.3,252.2 L677.4,246.5 L681.5,242.4 L685.6,239.0 L689.7,236.8 L693.8,235.6 L697.9,234.6 L702.1,233.9 L706.2,232.5 L710.3,230.6 L714.4,228.2 L718.5,225.3 L722.6,223.4 L726.7,221.2 L730.8,220.1 L734.9,219.1 L739.0,218.0 L743.1,217.0 L747.2,216.2 L751.3,215.5 L755.5,214.6 L759.6,214.1 L763.7,212.7 L767.8,211.1 L771.9,210.5 L776.0,208.8 L780.1,207.5 L784.2,205.9 L788.3,203.2 L792.4,200.8 L796.5,198.3 L800.6,196.9 L804.7,194.9 L808.9,194.0 L813.0,192.3 L817.1,189.8 L821.2,188.5 L825.3,186.3 L829.4,185.0 L833.5,183.0 L837.6,181.1 L841.7,179.3 L845.8,177.1 L849.9,175.1 L854.0,173.1 L858.1,170.9 L862.2,169.1 L866.4,167.2 L870.5,165.2 L874.6,163.0 L878.7,160.5 L882.8,158.8 L886.9,155.9 L891.0,153.4"/>
<path d="M168.1,574.0 L172.2,573.7 L176.3,574.1 L180.4,574.3 L184.5,574.0 L188.6,574.1 L192.7,574.7 L196.8,574.1 L200.9,573.4 L205.0,573.9 L209.2,574.3 L213.3,573.8 L217.4,574.2 L221.5,574.4 L225.6,574.1 L229.7,573.9 L233.8,574.1 L237.9,573.6 L242.0,574.0 L246.1,574.3 L250.2,574.4 L254.3,574.5 L258.4,575.0 L262.6,574.2 L266.7,574.2 L270.8,574.3 L274.9,573.9 L279.0,573.6 L283.1,574.1 L287.2,573.8 L291.3,574.1 L295.4,574.1 L299.5,574.8 L303.6,574.7 L307.7,574.8 L311.8,574.2 L316.0,574.5 L320.1,574.4 L324.2,574.4 L328.3,574.7 L332.4,575.2 L336.5,575.0 L340.6,575.0 L344.7,575.6 L348.8,575.2 L352.9,574.8 L357.0,574.3 L361.1,573.7 L365.2,573.3 L369.3,573.2 L373.5,573.3 L377.6,573.6 L381.7,573.7 L385.8,574.3 L389.9,574.3 L394.0,573.7 L398.1,573.3 L402.2,573.2 L406.3,572.5 L410.4,572.7 L414.5,572.7 L418.6,572.7 L422.7,572.8 L426.9,573.1 L431.0,573.2 L435.1,573.8 L439.2,573.8 L443.3,574.0 L447.4,574.2 L451.5,574.3 L455.6,574.3 L459.7,574.6 L463.8,574.2 L467.9,573.6 L472.0,572.5 L476.1,571.9 L480.2,571.3 L484.4,570.5 L488.5,569.9 L492.6,569.7 L496.7,568.7 L500.8,568.0 L504.9,566.8 L509.0,565.5 L513.1,563.8 L517.2,562.4 L521.3,560.4 L525.4,558.3 L529.5,555.8 L533.6,552.6 L537.8,549.1 L541.9,544.9 L546.0,540.3 L550.1,534.8 L554.2,527.4 L558.3,519.5 L562.4,511.4 L566.5,503.1 L570.6,494.1 L574.7,484.8 L578.8,475.2 L582.9,465.4 L587.0,456.0 L591.2,446.6 L595.3,437.1 L599.4,427.2 L603.5,417.0 L607.6,406.2 L611.7,395.4 L615.8,384.9 L619.9,374.2 L624.0,363.3 L628.1,352.7 L632.2,343.7 L636.3,334.9 L640.4,327.2 L644.5,320.0 L648.7,313.0 L652.8,306.6 L656.9,301.4 L661.0,296.8 L665.1,292.9 L669.2,289.4 L673.3,285.8 L677.4,283.0 L681.5,279.9 L685.6,277.6 L689.7,274.8 L693.8,272.1 L697.9,269.7 L702.1,266.8 L706.2,264.0 L710.3,262.3 L714.4,259.9 L718.5,258.4 L722.6,257.6 L726.7,255.6 L730.8,254.8 L734.9,253.2 L739.0,250.7 L743.1,249.7 L747.2,248.2 L751.3,246.9 L755.5,246.1 L759.6,244.1 L763.7,242.4 L767.8,240.9 L771.9,239.2 L776.0,237.8 L780.1,235.5 L784.2,233.8 L788.3,231.7 L792.4,229.8 L796.5,228.3 L800.6,226.6 L804.7,225.3 L808.9,223.5 L813.0,221.1 L817.1,218.6 L821.2,216.7 L825.3,215.1 L829.4,213.1 L833.5,211.4 L837.6,208.4 L841.7,205.7 L845.8,204.0 L849.9,201.8 L854.0,199.7 L858.1,197.6 L862.2,195.2 L866.4,193.3 L870.5,191.5 L874.6,189.5 L878.7,188.0 L882.8,185.2 L886.9,183.0 L891.0,180.8"/>
<path d="M168.1,574.8 L172.2,574.8 L176.3,575.1 L180.4,574.5 L184.5,574.1 L188.6,573.9 L192.7,574.0 L196.8,574.1 L200.9,574.4 L205.0,574.7 L209.2,574.3 L213.3,574.4 L217.4,574.4 L221.5,574.6 L225.6,574.6 L229.7,574.9 L233.8,574.6 L237.9,574.0 L242.0,573.8 L246.1,574.1 L250.2,574.1 L254.3,574.4 L258.4,575.0 L262.6,575.5 L266.7,574.1 L270.8,574.3 L274.9,574.1 L279.0,573.5 L283.1,572.8 L287.2,573.4 L291.3,573.2 L295.4,573.2 L299.5,573.3 L303.6,573.9 L307.7,574.1 L311.8,574.2 L316.0,574.5 L320.1,574.9 L324.2,574.9 L328.3,574.6 L332.4,574.7 L336.5,574.6 L340.6,574.1 L344.7,573.8 L348.8,574.0 L352.9,574.3 L357.0,573.4 L361.1,573.7 L365.2,573.4 L369.3,573.1 L373.5,572.1 L377.6,572.6 L381.7,572.5 L385.8,573.1 L389.9,573.1 L394.0,573.8 L398.1,573.8 L402.2,573.8 L406.3,573.5 L410.4,573.3 L414.5,573.3 L418.6,573.2 L422.7,572.9 L426.9,572.6 L431.0,572.2 L435.1,571.9 L439.2,572.3 L443.3,572.0 L447.4,571.8 L451.5,572.0 L455.6,571.0 L459.7,569.0 L463.8,567.0 L467.9,565.4 L472.0,563.0 L476.1,561.2 L480.2,558.9 L484.4,556.2 L488.5,552.9 L492.6,549.4 L496.7,545.1 L500.8,540.5 L504.9,534.8 L509.0,527.9 L513.1,520.3 L517.2,511.0 L521.3,500.3 L525.4,489.4 L529.5,477.7 L533.6,465.7 L537.8,453.7 L541.9,441.5 L546.0,429.2 L550.1,416.6 L554.2,403.4 L558.3,390.8 L562.4,380.4 L566.5,371.4 L570.6,363.1 L574.7,354.7 L578.8,345.6 L582.9,336.8 L587.0,329.8 L591.2,323.9 L595.3,318.7 L599.4,315.0 L603.5,312.0 L607.6,310.4 L611.7,309.0 L615.8,308.0 L619.9,307.0 L624.0,305.9 L628.1,305.0 L632.2,304.7 L636.3,304.7 L640.4,304.5 L644.5,304.8 L648.7,304.6 L652.8,304.1 L656.9,304.1 L661.0,304.0 L665.1,303.4 L669.2,303.5 L673.3,303.7 L677.4,303.5 L681.5,303.7 L685.6,303.7 L689.7,303.0 L693.8,302.8 L697.9,302.5 L702.1,302.0 L706.2,302.3 L710.3,302.3 L714.4,302.4 L718.5,302.7 L722.6,302.1 L726.7,302.2 L730.8,302.5 L734.9,302.2 L739.0,302.6 L743.1,302.7 L747.2,302.0 L751.3,301.8 L755.5,301.9 L759.6,301.8 L763.7,301.7 L767.8,301.6 L771.9,301.1 L776.0,300.7 L780.1,300.6 L784.2,300.3 L788.3,300.2 L792.4,299.8 L796.5,299.7 L800.6,299.9 L804.7,300.1 L808.9,300.1 L813.0,300.1 L817.1,300.0 L821.2,299.8 L825.3,299.9 L829.4,300.1 L833.5,300.6 L837.6,300.5 L841.7,300.2 L845.8,300.4 L849.9,299.7 L854.0,300.1 L858.1,300.0 L862.2,299.1 L866.4,299.1 L870.5,299.0 L874.6,299.2 L878.7,299.6 L882.8,299.7 L886.9,299.3 L891.0,299.6"/>
<path d="M168.1,574.4 L172.2,574.1 L176.3,574.2 L180.4,574.4 L184.5,574.2 L188.6,574.4 L192.7,574.2 L196.8,574.0 L200.9,574.3 L205.0,574.4 L209.2,574.7 L213.3,574.7 L217.4,575.1 L221.5,574.6 L225.6,574.0 L229.7,573.8 L233.8,573.6 L237.9,573.4 L242.0,573.9 L246.1,574.2 L250.2,574.1 L254.3,574.6 L258.4,574.6 L262.6,573.8 L266.7,573.7 L270.8,574.0 L274.9,574.4 L279.0,574.2 L283.1,574.3 L287.2,574.7 L291.3,574.3 L295.4,574.0 L299.5,574.0 L303.6,574.0 L307.7,573.1 L311.8,573.2 L316.0,573.6 L320.1,573.8 L324.2,573.8 L328.3,574.6 L332.4,574.8 L336.5,574.2 L340.6,574.2 L344.7,574.2 L348.8,573.9 L352.9,572.9 L357.0,572.6 L361.1,572.3 L365.2,573.0 L369.3,572.8 L373.5,573.0 L377.6,573.3 L381.7,573.2 L385.8,572.6 L389.9,572.4 L394.0,572.7 L398.1,572.3 L402.2,573.1 L406.3,573.3 L410.4,573.7 L414.5,573.6 L418.6,573.9 L422.7,573.8 L426.9,573.4 L431.0,573.1 L435.1,573.0 L439.2,572.2 L443.3,571.8 L447.4,571.3 L451.5,570.7 L455.6,570.2 L459.7,569.0 L463.8,567.3 L467.9,565.7 L472.0,564.2 L476.1,561.6 L480.2,559.4 L484.4,557.3 L488.5,554.7 L492.6,551.4 L496.7,547.9 L500.8,543.5 L504.9,537.8 L509.0,531.4 L513.1,524.1 L517.2,515.6 L521.3,506.0 L525.4,495.4 L529.5,483.9 L533.6,472.0 L537.8,460.0 L541.9,448.3 L546.0,436.3 L550.1,424.2 L554.2,411.2 L558.3,398.3 L562.4,387.0 L566.5,377.9 L570.6,369.7 L574.7,361.8 L578.8,352.9 L582.9,343.7 L587.0,335.7 L591.2,329.3 L595.3,324.3 L599.4,319.9 L603.5,317.1 L607.6,315.0 L611.7,313.0 L615.8,312.0 L619.9,310.9 L624.0,309.6 L628.1,309.3 L632.2,308.7 L636.3,308.8 L640.4,308.8 L644.5,308.5 L648.7,308.7 L652.8,308.0 L656.9,307.5 L661.0,307.8 L665.1,307.2 L669.2,307.6 L673.3,308.0 L677.4,307.3 L681.5,307.3 L685.6,307.2 L689.7,306.9 L693.8,307.0 L697.9,306.9 L702.1,307.0 L706.2,306.7 L710.3,306.0 L714.4,305.9 L718.5,305.7 L722.6,305.5 L726.7,306.6 L730.8,306.6 L734.9,306.7 L739.0,307.2 L743.1,306.9 L747.2,306.8 L751.3,306.1 L755.5,306.1 L759.6,305.8 L763.7,305.3 L767.8,305.4 L771.9,304.9 L776.0,304.8 L780.1,305.2 L784.2,305.4 L788.3,305.7 L792.4,305.9 L796.5,306.4 L800.6,306.4 L804.7,306.1 L808.9,305.8 L813.0,304.7 L817.1,304.2 L821.2,304.1 L825.3,304.0 L829.4,304.1 L833.5,304.5 L837.6,304.6 L841.7,304.6 L845.8,304.9 L849.9,304.5 L854.0,304.5 L858.1,304.0 L862.2,303.7 L866.4,303.8 L870.5,303.5 L874.6,304.2 L878.7,304.3 L882.8,304.1 L886.9,303.7 L891.0,302.8"/>
<path d="M168.1,574.2 L172.2,574.4 L176.3,574.8 L180.4,574.5 L184.5,574.8 L188.6,575.3 L192.7,575.1 L196.8,574.9 L200.9,575.4 L205.0,575.1 L209.2,574.6 L213.3,574.4 L217.4,574.7 L221.5,574.4 L225.6,574.4 L229.7,574.2 L233.8,574.4 L237.9,574.7 L242.0,574.5 L246.1,574.6 L250.2,574.4 L254.3,574.5 L258.4,573.7 L262.6,574.2 L266.7,574.1 L270.8,574.6 L274.9,574.2 L279.0,574.4 L283.1,574.1 L287.2,573.7 L291.3,573.2 L295.4,573.1 L299.5,573.4 L303.6,573.6 L307.7,573.7 L311.8,574.2 L316.0,574.3 L320.1,574.2 L324.2,573.6 L328.3,573.9 L332.4,574.0 L336.5,573.5 L340.6,573.2 L344.7,573.9 L348.8,574.3 L352.9,573.9 L357.0,574.4 L361.1,574.5 L365.2,573.6 L369.3,572.8 L373.5,572.5 L377.6,572.1 L381.7,572.0 L385.8,572.8 L389.9,573.5 L394.0,574.0 L398.1,574.0 L402.2,573.8 L406.3,573.2 L410.4,572.6 L414.5,572.6 L418.6,572.5 L422.7,572.5 L426.9,573.1 L431.0,572.7 L435.1,572.7 L439.2,573.0 L443.3,573.3 L447.4,572.5 L451.5,573.2 L455.6,573.3 L459.7,573.0 L463.8,572.6 L467.9,572.9 L472.0,573.0 L476.1,573.0 L480.2,573.0 L484.4,573.4 L488.5,573.4 L492.6,573.5 L496.7,573.5 L500.8,573.8 L504.9,573.9 L509.0,573.9 L513.1,573.6 L517.2,573.4 L521.3,573.4 L525.4,573.2 L529.5,573.1 L533.6,573.0 L537.8,572.6 L541.9,572.1 L546.0,571.6 L550.1,571.0 L554.2,570.4 L558.3,569.9 L562.4,569.3 L566.5,568.8 L570.6,568.1 L574.7,567.0 L578.8,565.5 L582.9,563.8 L587.0,561.9 L591.2,559.7 L595.3,557.3 L599.4,554.8 L603.5,551.7 L607.6,547.8 L611.7,543.0 L615.8,537.9 L619.9,532.0 L624.0,525.4 L628.1,518.4 L632.2,510.2 L636.3,500.7 L640.4,490.6 L644.5,479.9 L648.7,468.3 L652.8,457.1 L656.9,445.6 L661.0,433.4 L665.1,421.5 L669.2,408.6 L673.3,395.9 L677.4,383.8 L681.5,371.5 L685.6,359.9 L689.7,349.6 L693.8,341.5 L697.9,334.5 L702.1,329.9 L706.2,325.9 L710.3,322.5 L714.4,319.5 L718.5,316.0 L722.6,312.7 L726.7,310.6 L730.8,309.1 L734.9,307.4 L739.0,307.6 L743.1,307.2 L747.2,306.6 L751.3,306.2 L755.5,305.7 L759.6,305.4 L763.7,304.7 L767.8,304.1 L771.9,303.3 L776.0,302.7 L780.1,302.2 L784.2,302.1 L788.3,302.2 L792.4,302.6 L796.5,303.2 L800.6,303.2 L804.7,303.4 L808.9,303.0 L813.0,302.9 L817.1,302.9 L821.2,302.9 L825.3,303.1 L829.4,303.3 L833.5,302.8 L837.6,302.1 L841.7,302.0 L845.8,301.4 L849.9,302.2 L854.0,302.2 L858.1,301.7 L862.2,302.1 L866.4,301.8 L870.5,302.1 L874.6,302.5 L878.7,301.9 L882.8,301.4 L886.9,300.6 L891.0,300.4"/>
<path d="M168.1,575.4 L172.2,576.0 L176.3,576.1 L180.4,575.9 L184.5,575.2 L188.6,574.5 L192.7,574.4 L196.8,574.6 L200.9,574.7 L205.0,574.2 L209.2,574.3 L213.3,574.1 L217.4,573.4 L221.5,573.6 L225.6,573.6 L229.7,573.3 L233.8,573.7 L237.9,573.7 L242.0,573.8 L246.1,573.9 L250.2,574.5 L254.3,574.3 L258.4,574.3 L262.6,574.3 L266.7,574.2 L270.8,574.8 L274.9,574.5 L279.0,574.7 L283.1,574.7 L287.2,574.5 L291.3,573.7 L295.4,573.8 L299.5,573.4 L303.6,573.0 L307.7,573.5 L311.8,573.5 L316.0,573.5 L320.1,573.6 L324.2,573.7 L328.3,573.4 L332.4,573.8 L336.5,573.5 L340.6,573.9 L344.7,573.7 L348.8,573.8 L352.9,573.9 L357.0,574.3 L361.1,574.5 L365.2,574.6 L369.3,574.5 L373.5,574.5 L377.6,574.5 L381.7,574.2 L385.8,574.2 L389.9,574.5 L394.0,574.2 L398.1,574.2 L402.2,574.4 L406.3,574.5 L410.4,574.3 L414.5,574.1 L418.6,573.8 L422.7,573.7 L426.9,573.2 L431.0,572.8 L435.1,573.5 L439.2,573.8 L443.3,573.9 L447.4,574.1 L451.5,574.7 L455.6,574.2 L459.7,574.0 L463.8,573.3 L467.9,573.7 L472.0,573.3 L476.1,573.2 L480.2,572.9 L484.4,573.1 L488.5,572.8 L492.6,573.1 L496.7,573.1 L500.8,573.2 L504.9,573.0 L509.0,573.2 L513.1,573.0 L517.2,573.1 L521.3,573.0 L525.4,573.2 L529.5,573.1 L533.6,573.0 L537.8,572.9 L541.9,572.6 L546.0,572.1 L550.1,571.5 L554.2,570.9 L558.3,570.2 L562.4,569.6 L566.5,569.1 L570.6,568.3 L574.7,567.5 L578.8,566.1 L582.9,564.3 L587.0,562.7 L591.2,560.4 L595.3,558.0 L599.4,555.7 L603.5,552.6 L607.6,549.0 L611.7,544.8 L615.8,540.0 L619.9,535.0 L624.0,529.1 L628.1,522.7 L632.2,515.1 L636.3,506.1 L640.4,496.3 L644.5,485.6 L648.7,474.2 L652.8,463.3 L656.9,452.1 L661.0,440.1 L665.1,428.4 L669.2,416.0 L673.3,403.2 L677.4,390.9 L681.5,379.0 L685.6,367.3 L689.7,356.5 L693.8,347.7 L697.9,340.8 L702.1,334.1 L706.2,330.3 L710.3,327.0 L714.4,323.1 L718.5,320.1 L722.6,317.0 L726.7,315.0 L730.8,314.3 L734.9,313.3 L739.0,312.0 L743.1,311.5 L747.2,310.8 L751.3,310.5 L755.5,310.6 L759.6,309.7 L763.7,309.0 L767.8,308.6 L771.9,307.7 L776.0,308.0 L780.1,307.4 L784.2,307.1 L788.3,306.6 L792.4,306.8 L796.5,307.2 L800.6,306.7 L804.7,306.9 L808.9,306.1 L813.0,305.9 L817.1,306.1 L821.2,306.1 L825.3,305.9 L829.4,305.8 L833.5,305.7 L837.6,305.9 L841.7,306.7 L845.8,306.9 L849.9,306.5 L854.0,305.7 L858.1,305.4 L862.2,304.4 L866.4,304.5 L870.5,304.7 L874.6,304.4 L878.7,305.2 L882.8,304.9 L886.9,304.8 L891.0,304.6"/>
<path d="M168.1,574.7 L172.2,574.8 L176.3,574.4 L180.4,574.4 L184.5,573.9 L188.6,574.0 L192.7,573.9 L196.8,573.8 L200.9,573.4 L205.0,572.9 L209.2,573.2 L213.3,573.3 L217.4,573.7 L221.5,573.9 L225.6,574.3 L229.7,574.4 L233.8,574.1 L237.9,573.9 L242.0,573.7 L246.1,573.5 L250.2,573.5 L254.3,573.6 L258.4,573.6 L262.6,573.8 L266.7,574.0 L270.8,574.5 L274.9,574.9 L279.0,575.0 L283.1,574.8 L287.2,575.0 L291.3,574.8 L295.4,574.1 L299.5,573.8 L303.6,573.7 L307.7,573.4 L311.8,572.8 L316.0,573.1 L320.1,573.5 L324.2,573.7 L328.3,573.4 L332.4,574.1 L336.5,574.4 L340.6,574.1 L344.7,574.0 L348.8,574.4 L352.9,573.9 L357.0,573.7 L361.1,573.2 L365.2,573.4 L369.3,573.2 L373.5,573.5 L377.6,573.3 L381.7,573.7 L385.8,573.3 L389.9,573.1 L394.0,572.4 L398.1,572.8 L402.2,572.9 L406.3,572.8 L410.4,573.1 L414.5,574.1 L418.6,573.8 L422.7,573.9 L426.9,573.9 L431.0,573.6 L435.1,573.1 L439.2,573.4 L443.3,573.4 L447.4,573.6 L451.5,573.7 L455.6,573.4 L459.7,573.0 L463.8,573.1 L467.9,572.6 L472.0,572.5 L476.1,572.6 L480.2,572.6 L484.4,572.6 L488.5,572.7 L492.6,572.8 L496.7,573.0 L500.8,573.4 L504.9,573.1 L509.0,573.3 L513.1,573.3 L517.2,573.1 L521.3,573.2 L525.4,573.2 L529.5,573.3 L533.6,573.3 L537.8,572.8 L541.9,572.5 L546.0,572.0 L550.1,571.6 L554.2,571.0 L558.3,570.6 L562.4,570.1 L566.5,569.2 L570.6,568.8 L574.7,567.6 L578.8,566.4 L582.9,565.2 L587.0,563.5 L591.2,562.1 L595.3,560.2 L599.4,557.7 L603.5,554.8 L607.6,551.1 L611.7,546.7 L615.8,542.1 L619.9,537.7 L624.0,532.1 L628.1,526.0 L632.2,518.9 L636.3,510.0 L640.4,500.9 L644.5,490.8 L648.7,479.9 L652.8,468.4 L656.9,457.4 L661.0,446.4 L665.1,435.1 L669.2,423.2 L673.3,411.3 L677.4,398.9 L681.5,387.4 L685.6,376.1 L689.7,364.2 L693.8,354.8 L697.9,346.7 L702.1,340.0 L706.2,335.7 L710.3,331.5 L714.4,328.8 L718.5,326.2 L722.6,322.7 L726.7,320.3 L730.8,318.8 L734.9,317.0 L739.0,315.7 L743.1,315.3 L747.2,314.8 L751.3,314.3 L755.5,314.0 L759.6,313.4 L763.7,312.4 L767.8,312.3 L771.9,312.3 L776.0,312.1 L780.1,312.0 L784.2,311.4 L788.3,311.2 L792.4,311.0 L796.5,311.3 L800.6,311.9 L804.7,311.9 L808.9,311.7 L813.0,311.3 L817.1,310.6 L821.2,310.4 L825.3,310.5 L829.4,310.5 L833.5,310.4 L837.6,310.0 L841.7,309.9 L845.8,310.2 L849.9,310.3 L854.0,310.7 L858.1,310.5 L862.2,309.7 L866.4,310.2 L870.5,310.1 L874.6,310.3 L878.7,309.9 L882.8,309.2 L886.9,308.8 L891.0,308.0"/>
<path d="M168.1,574.3 L172.2,574.2 L176.3,574.0 L180.4,574.5 L184.5,574.1 L188.6,574.1 L192.7,574.3 L196.8,574.1 L200.9,574.4 L205.0,574.7 L209.2,575.3 L213.3,575.1 L217.4,575.2 L221.5,575.0 L225.6,574.7 L229.7,574.4 L233.8,574.0 L237.9,574.6 L242.0,574.8 L246.1,574.9 L250.2,575.4 L254.3,575.7 L258.4,575.1 L262.6,574.8 L266.7,575.0 L270.8,574.3 L274.9,574.2 L279.0,574.4 L283.1,573.9 L287.2,574.0 L291.3,573.9 L295.4,573.6 L299.5,573.3 L303.6,573.6 L307.7,573.7 L311.8,574.0 L316.0,574.2 L320.1,574.4 L324.2,574.5 L328.3,574.5 L332.4,574.3 L336.5,574.9 L340.6,574.8 L344.7,574.6 L348.8,574.5 L352.9,574.3 L357.0,573.7 L361.1,574.1 L365.2,573.5 L369.3,573.2 L373.5,573.4 L377.6,573.3 L381.7,573.1 L385.8,573.5 L389.9,573.6 L394.0,573.3 L398.1,573.4 L402.2,573.3 L406.3,573.2 L410.4,573.3 L414.5,573.5 L418.6,573.4 L422.7,573.1 L426.9,573.5 L431.0,573.3 L435.1,573.1 L439.2,573.7 L443.3,573.6 L447.4,574.0 L451.5,574.2 L455.6,574.1 L459.7,573.7 L463.8,574.2 L467.9,573.4 L472.0,573.1 L476.1,573.5 L480.2,573.4 L484.4,573.0 L488.5,573.5 L492.6,573.3 L496.7,573.0 L500.8,573.4 L504.9,573.2 L509.0,573.2 L513.1,573.2 L517.2,573.4 L521.3,573.2 L525.4,573.2 L529.5,573.3 L533.6,573.4 L537.8,573.3 L541.9,573.1 L546.0,573.1 L550.1,572.9 L554.2,572.9 L558.3,573.1 L562.4,573.2 L566.5,573.1 L570.6,573.1 L574.7,572.7 L578.8,572.4 L582.9,572.1 L587.0,571.3 L591.2,571.0 L595.3,570.5 L599.4,569.8 L603.5,568.6 L607.6,566.9 L611.7,564.8 L615.8,562.5 L619.9,560.4 L624.0,558.0 L628.1,556.1 L632.2,554.2 L636.3,551.8 L640.4,549.2 L644.5,545.6 L648.7,541.7 L652.8,536.4 L656.9,530.4 L661.0,524.1 L665.1,517.2 L669.2,509.9 L673.3,501.8 L677.4,492.9 L681.5,483.7 L685.6,473.4 L689.7,463.2 L693.8,453.9 L697.9,443.2 L702.1,433.3 L706.2,422.8 L710.3,411.7 L714.4,401.7 L718.5,391.5 L722.6,380.9 L726.7,371.7 L730.8,362.0 L734.9,352.6 L739.0,343.6 L743.1,332.8 L747.2,324.2 L751.3,319.2 L755.5,315.2 L759.6,312.2 L763.7,310.9 L767.8,309.4 L771.9,308.2 L776.0,308.0 L780.1,306.2 L784.2,305.4 L788.3,304.8 L792.4,303.5 L796.5,303.3 L800.6,303.0 L804.7,302.6 L808.9,302.8 L813.0,302.5 L817.1,302.0 L821.2,302.0 L825.3,301.2 L829.4,300.6 L833.5,300.8 L837.6,299.7 L841.7,299.3 L845.8,299.2 L849.9,298.7 L854.0,298.5 L858.1,298.7 L862.2,298.7 L866.4,298.6 L870.5,299.3 L874.6,298.8 L878.7,298.4 L882.8,298.4 L886.9,297.8 L891.0,298.0"/>
<path d="M168.1,574.2 L172.2,574.9 L176.3,574.6 L180.4,574.6 L184.5,574.5 L188.6,574.5 L192.7,573.6 L196.8,573.8 L200.9,574.1 L205.0,573.8 L209.2,573.7 L213.3,574.3 L217.4,574.0 L221.5,573.2 L225.6,573.8 L229.7,574.1 L233.8,574.2 L237.9,574.1 L242.0,574.9 L246.1,574.9 L250.2,574.5 L254.3,573.9 L258.4,574.0 L262.6,573.4 L266.7,573.1 L270.8,572.9 L274.9,573.1 L279.0,573.4 L283.1,573.4 L287.2,573.4 L291.3,573.6 L295.4,573.6 L299.5,573.7 L303.6,573.7 L307.7,573.5 L311.8,574.0 L316.0,574.3 L320.1,573.9 L324.2,573.9 L328.3,574.2 L332.4,573.9 L336.5,573.8 L340.6,574.0 L344.7,574.4 L348.8,574.8 L352.9,574.7 L357.0,574.2 L361.1,574.2 L365.2,574.2 L369.3,573.6 L373.5,573.3 L377.6,573.1 L381.7,573.1 L385.8,572.8 L389.9,573.1 L394.0,573.5 L398.1,574.2 L402.2,574.1 L406.3,574.2 L410.4,573.9 L414.5,573.9 L418.6,573.6 L422.7,573.9 L426.9,574.1 L431.0,574.5 L435.1,574.3 L439.2,574.2 L443.3,573.4 L447.4,573.4 L451.5,573.0 L455.6,572.8 L459.7,572.9 L463.8,573.7 L467.9,573.8 L472.0,574.0 L476.1,574.3 L480.2,574.2 L484.4,573.7 L488.5,573.7 L492.6,573.4 L496.7,573.4 L500.8,573.1 L504.9,573.2 L509.0,573.0 L513.1,573.2 L517.2,573.0 L521.3,573.1 L525.4,573.0 L529.5,572.7 L533.6,572.8 L537.8,572.9 L541.9,572.9 L546.0,573.1 L550.1,573.2 L554.2,573.0 L558.3,573.1 L562.4,573.1 L566.5,573.1 L570.6,573.1 L574.7,573.0 L578.8,572.7 L582.9,572.3 L587.0,572.0 L591.2,571.5 L595.3,571.1 L599.4,570.2 L603.5,568.9 L607.6,567.1 L611.7,565.1 L615.8,563.5 L619.9,561.6 L624.0,559.7 L628.1,557.8 L632.2,555.2 L636.3,553.0 L640.4,550.4 L644.5,547.5 L648.7,544.1 L652.8,539.0 L656.9,533.7 L661.0,527.6 L665.1,521.4 L669.2,514.4 L673.3,506.5 L677.4,498.0 L681.5,489.5 L685.6,480.5 L689.7,470.8 L693.8,461.0 L697.9,450.6 L702.1,439.8 L706.2,428.9 L710.3,418.2 L714.4,407.5 L718.5,397.3 L722.6,387.3 L726.7,377.7 L730.8,368.4 L734.9,359.1 L739.0,350.5 L743.1,340.3 L747.2,330.8 L751.3,324.5 L755.5,319.3 L759.6,315.5 L763.7,313.1 L767.8,311.5 L771.9,309.9 L776.0,309.3 L780.1,308.4 L784.2,308.2 L788.3,308.4 L792.4,307.4 L796.5,306.8 L800.6,306.0 L804.7,305.4 L808.9,305.6 L813.0,305.1 L817.1,304.9 L821.2,304.6 L825.3,303.9 L829.4,303.8 L833.5,303.4 L837.6,303.7 L841.7,303.8 L845.8,303.1 L849.9,302.9 L854.0,302.3 L858.1,302.1 L862.2,302.5 L866.4,302.5 L870.5,302.8 L874.6,302.4 L878.7,302.1 L882.8,302.5 L886.9,302.3 L891.0,302.0"/>
</g>
<g stroke="#bdbdbd" stroke-width="1.1" fill="none" stroke-opacity="0.55" style="filter:blur(0.3px)">
<path d="M168.1,575.0 L172.2,575.4 L176.3,575.5 L180.4,575.5 L184.5,574.6 L188.6,574.9 L192.7,574.5 L196.8,574.6 L200.9,574.1 L205.0,574.2 L209.2,573.8 L213.3,573.9 L217.4,573.9 L221.5,574.3 L225.6,574.6 L229.7,574.7 L233.8,574.6 L237.9,574.2 L242.0,573.8 L246.1,573.0 L250.2,572.6 L254.3,572.4 L258.4,573.0 L262.6,573.1 L266.7,573.3 L270.8,573.9 L274.9,573.6 L279.0,573.5 L283.1,573.3 L287.2,573.3 L291.3,573.1 L295.4,573.4 L299.5,573.4 L303.6,573.2 L307.7,573.6 L311.8,573.4 L316.0,573.5 L320.1,572.7 L324.2,572.8 L328.3,573.1 L332.4,573.8 L336.5,573.8 L340.6,574.5 L344.7,574.6 L348.8,574.1 L352.9,573.7 L357.0,573.8 L361.1,573.9 L365.2,574.0 L369.3,574.4 L373.5,574.6 L377.6,574.4 L381.7,574.8 L385.8,574.6 L389.9,574.6 L394.0,574.2 L398.1,574.3 L402.2,573.8 L406.3,573.8 L410.4,574.2 L414.5,574.0 L418.6,573.9 L422.7,573.7 L426.9,573.4 L431.0,573.2 L435.1,573.5 L439.2,573.7 L443.3,573.7 L447.4,574.3 L451.5,574.2 L455.6,573.3 L459.7,572.8 L463.8,572.5 L467.9,571.6 L472.0,570.7 L476.1,571.1 L480.2,570.1 L484.4,569.2 L488.5,568.2 L492.6,567.8 L496.7,566.6 L500.8,565.5 L504.9,564.2 L509.0,562.8 L513.1,560.7 L517.2,558.1 L521.3,555.3 L525.4,551.9 L529.5,547.8 L533.6,543.0 L537.8,537.4 L541.9,530.5 L546.0,522.6 L550.1,514.5 L554.2,505.7 L558.3,496.6 L562.4,487.6 L566.5,477.9 L570.6,468.0 L574.7,457.9 L578.8,447.3 L582.9,436.5 L587.0,426.0 L591.2,416.4 L595.3,407.2 L599.4,397.8 L603.5,388.5 L607.6,378.9 L611.7,369.2 L615.8,359.9 L619.9,351.0 L624.0,342.5 L628.1,334.4 L632.2,326.7 L636.3,319.1 L640.4,311.8 L644.5,304.0 L648.7,296.0 L652.8,288.1 L656.9,280.0 L661.0,271.4 L665.1,263.2 L669.2,254.7 L673.3,247.1 L677.4,241.3 L681.5,235.4 L685.6,230.3 L689.7,225.7 L693.8,220.8 L697.9,216.9 L702.1,211.9 L706.2,207.0 L710.3,204.3 L714.4,200.1 L718.5,196.8 L722.6,194.0 L726.7,189.8 L730.8,186.8 L734.9,183.6 L739.0,179.9 L743.1,177.0 L747.2,174.5 L751.3,171.6 L755.5,169.2 L759.6,166.5 L763.7,163.8 L767.8,161.9 L771.9,159.8 L776.0,158.5 L780.1,157.1 L784.2,155.3 L788.3,154.5 L792.4,152.7 L796.5,151.4 L800.6,150.7 L804.7,149.3 L808.9,148.3 L813.0,147.3 L817.1,145.6 L821.2,144.7 L825.3,143.6 L829.4,142.6 L833.5,142.4 L837.6,141.6 L841.7,141.0 L845.8,140.0 L849.9,139.2 L854.0,138.5 L858.1,137.8 L862.2,137.2 L866.4,137.1 L870.5,136.7 L874.6,136.5 L878.7,136.3 L882.8,135.7 L886.9,135.5 L891.0,135.4"/>
<path d="M168.1,575.1 L172.2,575.0 L176.3,574.9 L180.4,574.7 L184.5,574.7 L188.6,574.9 L192.7,574.7 L196.8,574.2 L200.9,573.9 L205.0,573.8 L209.2,572.6 L213.3,572.8 L217.4,572.5 L221.5,573.3 L225.6,573.6 L229.7,574.2 L233.8,574.2 L237.9,574.4 L242.0,573.7 L246.1,573.4 L250.2,573.2 L254.3,573.5 L258.4,573.7 L262.6,574.8 L266.7,574.8 L270.8,575.0 L274.9,575.0 L279.0,575.1 L283.1,574.5 L287.2,574.7 L291.3,574.6 L295.4,574.5 L299.5,574.2 L303.6,574.6 L307.7,574.1 L311.8,574.0 L316.0,574.0 L320.1,574.0 L324.2,573.5 L328.3,573.3 L332.4,573.7 L336.5,572.9 L340.6,572.4 L344.7,572.2 L348.8,572.2 L352.9,572.0 L357.0,573.1 L361.1,573.4 L365.2,573.7 L369.3,573.6 L373.5,573.8 L377.6,573.7 L381.7,573.3 L385.8,573.5 L389.9,573.4 L394.0,573.3 L398.1,573.2 L402.2,573.4 L406.3,574.0 L410.4,573.9 L414.5,573.9 L418.6,573.5 L422.7,573.5 L426.9,572.3 L431.0,572.3 L435.1,572.8 L439.2,573.6 L443.3,573.5 L447.4,574.2 L451.5,574.4 L455.6,573.9 L459.7,573.3 L463.8,572.9 L467.9,572.1 L472.0,571.5 L476.1,571.1 L480.2,569.6 L484.4,568.8 L488.5,568.2 L492.6,567.3 L496.7,566.6 L500.8,566.3 L504.9,565.3 L509.0,564.0 L513.1,562.6 L517.2,560.3 L521.3,557.6 L525.4,554.6 L529.5,550.7 L533.6,546.2 L537.8,540.9 L541.9,534.8 L546.0,527.2 L550.1,519.3 L554.2,511.0 L558.3,502.1 L562.4,493.0 L566.5,483.6 L570.6,474.0 L574.7,464.2 L578.8,453.9 L582.9,443.1 L587.0,432.2 L591.2,421.6 L595.3,411.9 L599.4,403.0 L603.5,393.8 L607.6,384.5 L611.7,375.1 L615.8,365.7 L619.9,356.4 L624.0,347.4 L628.1,339.2 L632.2,331.0 L636.3,323.5 L640.4,316.1 L644.5,308.8 L648.7,300.9 L652.8,292.5 L656.9,284.3 L661.0,276.2 L665.1,268.8 L669.2,261.3 L673.3,254.4 L677.4,248.0 L681.5,242.8 L685.6,238.2 L689.7,233.9 L693.8,229.7 L697.9,225.1 L702.1,220.7 L706.2,216.9 L710.3,213.1 L714.4,209.8 L718.5,206.6 L722.6,202.7 L726.7,199.6 L730.8,196.3 L734.9,193.1 L739.0,189.9 L743.1,187.2 L747.2,185.3 L751.3,182.8 L755.5,181.4 L759.6,179.0 L763.7,177.0 L767.8,175.6 L771.9,173.0 L776.0,171.5 L780.1,169.1 L784.2,167.0 L788.3,165.7 L792.4,163.7 L796.5,162.3 L800.6,161.1 L804.7,160.0 L808.9,158.8 L813.0,158.0 L817.1,157.2 L821.2,156.0 L825.3,155.5 L829.4,154.6 L833.5,153.8 L837.6,153.2 L841.7,152.5 L845.8,151.5 L849.9,151.2 L854.0,150.8 L858.1,150.6 L862.2,151.2 L866.4,150.3 L870.5,149.5 L874.6,148.2 L878.7,147.5 L882.8,147.4 L886.9,147.3 L891.0,146.6"/>
<path d="M168.1,574.3 L172.2,574.0 L176.3,573.8 L180.4,574.2 L184.5,574.7 L188.6,574.6 L192.7,574.6 L196.8,574.9 L200.9,574.7 L205.0,574.4 L209.2,574.4 L213.3,574.0 L217.4,573.9 L221.5,573.6 L225.6,573.4 L229.7,573.5 L233.8,573.7 L237.9,574.2 L242.0,574.8 L246.1,574.4 L250.2,574.5 L254.3,574.7 L258.4,574.6 L262.6,574.2 L266.7,574.7 L270.8,574.3 L274.9,574.2 L279.0,574.3 L283.1,574.5 L287.2,574.4 L291.3,574.5 L295.4,574.4 L299.5,574.1 L303.6,574.1 L307.7,573.7 L311.8,574.1 L316.0,573.9 L320.1,574.0 L324.2,573.8 L328.3,574.3 L332.4,574.0 L336.5,574.6 L340.6,574.4 L344.7,574.2 L348.8,573.7 L352.9,574.3 L357.0,574.7 L361.1,574.7 L365.2,575.2 L369.3,575.5 L373.5,574.6 L377.6,574.2 L381.7,574.0 L385.8,573.5 L389.9,573.1 L394.0,573.3 L398.1,573.4 L402.2,573.5 L406.3,573.8 L410.4,573.3 L414.5,573.2 L418.6,572.9 L422.7,573.3 L426.9,573.2 L431.0,573.6 L435.1,573.6 L439.2,573.3 L443.3,573.4 L447.4,573.5 L451.5,573.4 L455.6,573.9 L459.7,574.1 L463.8,574.1 L467.9,573.6 L472.0,573.5 L476.1,572.8 L480.2,572.6 L484.4,571.3 L488.5,570.1 L492.6,568.9 L496.7,567.9 L500.8,566.8 L504.9,565.9 L509.0,564.8 L513.1,563.4 L517.2,561.1 L521.3,558.6 L525.4,555.5 L529.5,552.1 L533.6,548.2 L537.8,543.5 L541.9,538.1 L546.0,531.4 L550.1,523.9 L554.2,516.0 L558.3,507.3 L562.4,498.1 L566.5,488.7 L570.6,479.1 L574.7,469.4 L578.8,459.3 L582.9,449.0 L587.0,437.9 L591.2,427.0 L595.3,417.6 L599.4,408.2 L603.5,399.2 L607.6,390.2 L611.7,380.3 L615.8,370.6 L619.9,361.2 L624.0,352.1 L628.1,343.5 L632.2,335.6 L636.3,327.9 L640.4,320.3 L644.5,312.6 L648.7,304.5 L652.8,296.1 L656.9,288.0 L661.0,280.1 L665.1,272.6 L669.2,265.5 L673.3,258.5 L677.4,252.1 L681.5,246.6 L685.6,242.2 L689.7,237.4 L693.8,233.7 L697.9,229.9 L702.1,225.7 L706.2,222.0 L710.3,218.1 L714.4,214.6 L718.5,211.2 L722.6,208.1 L726.7,205.3 L730.8,202.1 L734.9,199.3 L739.0,196.4 L743.1,193.4 L747.2,191.0 L751.3,188.3 L755.5,186.5 L759.6,184.3 L763.7,182.3 L767.8,180.6 L771.9,178.5 L776.0,176.5 L780.1,174.3 L784.2,172.1 L788.3,169.9 L792.4,168.2 L796.5,166.4 L800.6,165.0 L804.7,163.5 L808.9,161.3 L813.0,160.6 L817.1,159.5 L821.2,159.3 L825.3,159.8 L829.4,158.4 L833.5,157.5 L837.6,156.6 L841.7,155.5 L845.8,155.8 L849.9,155.1 L854.0,154.4 L858.1,153.6 L862.2,152.3 L866.4,151.6 L870.5,151.0 L874.6,150.7 L878.7,150.3 L882.8,150.4 L886.9,150.3 L891.0,150.1"/>
<path d="M168.1,573.2 L172.2,573.3 L176.3,574.1 L180.4,574.5 L184.5,574.0 L188.6,574.0 L192.7,574.0 L196.8,573.2 L200.9,572.9 L205.0,572.8 L209.2,573.5 L213.3,573.7 L217.4,574.3 L221.5,574.9 L225.6,576.0 L229.7,575.6 L233.8,575.0 L237.9,575.1 L242.0,574.2 L246.1,573.9 L250.2,573.7 L254.3,574.0 L258.4,574.0 L262.6,574.5 L266.7,574.2 L270.8,574.4 L274.9,574.0 L279.0,573.4 L283.1,573.7 L287.2,573.4 L291.3,573.7 L295.4,574.5 L299.5,574.6 L303.6,573.7 L307.7,574.3 L311.8,574.2 L316.0,573.8 L320.1,574.0 L324.2,574.4 L328.3,574.1 L332.4,574.5 L336.5,574.0 L340.6,574.1 L344.7,573.2 L348.8,572.8 L352.9,572.6 L357.0,573.2 L361.1,573.0 L365.2,574.0 L369.3,574.2 L373.5,573.6 L377.6,572.8 L381.7,572.6 L385.8,571.9 L389.9,572.3 L394.0,572.6 L398.1,573.0 L402.2,573.0 L406.3,573.3 L410.4,573.1 L414.5,572.9 L418.6,573.2 L422.7,573.7 L426.9,573.7 L431.0,573.8 L435.1,574.2 L439.2,573.9 L443.3,573.9 L447.4,573.8 L451.5,573.7 L455.6,573.9 L459.7,574.8 L463.8,574.8 L467.9,574.8 L472.0,574.8 L476.1,574.6 L480.2,573.9 L484.4,573.6 L488.5,573.7 L492.6,573.8 L496.7,573.4 L500.8,573.3 L504.9,573.4 L509.0,573.4 L513.1,573.1 L517.2,573.1 L521.3,573.0 L525.4,573.0 L529.5,573.1 L533.6,573.2 L537.8,573.2 L541.9,573.1 L546.0,573.2 L550.1,573.1 L554.2,573.2 L558.3,573.5 L562.4,573.3 L566.5,573.3 L570.6,573.0 L574.7,572.6 L578.8,572.1 L582.9,571.8 L587.0,571.6 L591.2,570.9 L595.3,570.2 L599.4,569.4 L603.5,568.0 L607.6,566.7 L611.7,565.0 L615.8,562.8 L619.9,560.8 L624.0,558.5 L628.1,556.4 L632.2,554.0 L636.3,551.4 L640.4,548.7 L644.5,545.5 L648.7,542.0 L652.8,537.1 L656.9,531.7 L661.0,525.4 L665.1,518.2 L669.2,510.2 L673.3,501.0 L677.4,491.8 L681.5,482.3 L685.6,472.6 L689.7,462.7 L693.8,453.0 L697.9,443.1 L702.1,432.7 L706.2,422.8 L710.3,412.3 L714.4,402.0 L718.5,391.7 L722.6,381.0 L726.7,371.0 L730.8,361.0 L734.9,351.6 L739.0,341.5 L743.1,330.9 L747.2,320.3 L751.3,311.5 L755.5,304.4 L759.6,298.8 L763.7,293.6 L767.8,289.1 L771.9,285.1 L776.0,281.5 L780.1,277.9 L784.2,274.2 L788.3,271.2 L792.4,267.9 L796.5,265.1 L800.6,263.4 L804.7,261.6 L808.9,259.5 L813.0,258.1 L817.1,256.6 L821.2,255.9 L825.3,255.0 L829.4,254.4 L833.5,253.4 L837.6,252.8 L841.7,252.2 L845.8,251.2 L849.9,251.0 L854.0,249.3 L858.1,248.0 L862.2,246.9 L866.4,245.7 L870.5,245.3 L874.6,244.4 L878.7,244.2 L882.8,242.9 L886.9,241.7 L891.0,241.5"/>
<path d="M168.1,572.4 L172.2,573.1 L176.3,573.3 L180.4,573.7 L184.5,573.9 L188.6,574.0 L192.7,573.7 L196.8,573.9 L200.9,573.5 L205.0,573.6 L209.2,573.2 L213.3,573.2 L217.4,572.7 L221.5,573.3 L225.6,573.3 L229.7,573.4 L233.8,573.4 L237.9,573.7 L242.0,573.4 L246.1,573.2 L250.2,573.3 L254.3,573.7 L258.4,574.5 L262.6,574.8 L266.7,575.2 L270.8,575.1 L274.9,573.9 L279.0,573.8 L283.1,574.0 L287.2,573.7 L291.3,573.4 L295.4,573.8 L299.5,573.9 L303.6,573.3 L307.7,573.7 L311.8,574.5 L316.0,574.3 L320.1,574.5 L324.2,574.7 L328.3,574.4 L332.4,574.5 L336.5,574.4 L340.6,573.5 L344.7,573.3 L348.8,573.5 L352.9,573.2 L357.0,573.2 L361.1,573.9 L365.2,574.2 L369.3,574.1 L373.5,573.9 L377.6,573.9 L381.7,573.8 L385.8,573.6 L389.9,573.2 L394.0,572.9 L398.1,572.9 L402.2,572.7 L406.3,572.8 L410.4,573.1 L414.5,573.2 L418.6,573.8 L422.7,573.6 L426.9,573.8 L431.0,573.7 L435.1,573.5 L439.2,572.7 L443.3,572.4 L447.4,572.9 L451.5,572.8 L455.6,573.2 L459.7,573.1 L463.8,573.7 L467.9,572.9 L472.0,573.2 L476.1,573.3 L480.2,574.2 L484.4,573.9 L488.5,574.1 L492.6,574.0 L496.7,573.5 L500.8,573.4 L504.9,573.2 L509.0,573.2 L513.1,573.3 L517.2,573.4 L521.3,573.3 L525.4,573.2 L529.5,573.3 L533.6,573.3 L537.8,573.3 L541.9,573.1 L546.0,573.1 L550.1,573.2 L554.2,573.0 L558.3,573.2 L562.4,573.2 L566.5,573.0 L570.6,573.1 L574.7,572.8 L578.8,572.5 L582.9,572.3 L587.0,572.0 L591.2,571.3 L595.3,570.9 L599.4,570.3 L603.5,568.8 L607.6,567.4 L611.7,565.3 L615.8,563.3 L619.9,561.2 L624.0,559.2 L628.1,557.3 L632.2,555.1 L636.3,553.0 L640.4,550.2 L644.5,547.4 L648.7,543.8 L652.8,538.9 L656.9,533.9 L661.0,527.7 L665.1,521.4 L669.2,514.2 L673.3,505.6 L677.4,496.7 L681.5,487.6 L685.6,478.1 L689.7,468.5 L693.8,459.2 L697.9,449.1 L702.1,439.5 L706.2,429.1 L710.3,418.1 L714.4,407.8 L718.5,396.9 L722.6,386.9 L726.7,377.2 L730.8,367.9 L734.9,358.9 L739.0,348.7 L743.1,338.8 L747.2,328.4 L751.3,319.0 L755.5,311.5 L759.6,304.8 L763.7,298.5 L767.8,293.1 L771.9,288.9 L776.0,284.7 L780.1,281.6 L784.2,278.4 L788.3,275.5 L792.4,272.2 L796.5,268.7 L800.6,266.1 L804.7,263.3 L808.9,261.9 L813.0,260.5 L817.1,259.2 L821.2,258.7 L825.3,257.5 L829.4,256.4 L833.5,255.7 L837.6,255.3 L841.7,254.9 L845.8,254.2 L849.9,253.5 L854.0,252.9 L858.1,251.3 L862.2,250.3 L866.4,249.3 L870.5,248.5 L874.6,248.3 L878.7,247.9 L882.8,247.4 L886.9,245.9 L891.0,244.9"/>
</g>
<g stroke="#1650f0" stroke-width="1.4" fill="none" stroke-opacity="0.72" stroke-linejoin="round" style="filter:blur(0.35px)">
<path d="M168.1,559.5 L172.2,563.6 L176.3,565.5 L180.4,567.4 L184.5,569.5 L188.6,570.7 L192.7,571.4 L196.8,572.2 L200.9,572.7 L205.0,572.8 L209.2,573.2 L213.3,573.1 L217.4,573.5 L221.5,573.6 L225.6,574.0 L229.7,573.9 L233.8,573.8 L237.9,574.5 L242.0,574.8 L246.1,575.2 L250.2,575.6 L254.3,576.6 L258.4,576.4 L262.6,576.4 L266.7,575.8 L270.8,575.7 L274.9,575.6 L279.0,575.5 L283.1,576.1 L287.2,575.9 L291.3,576.5 L295.4,576.2 L299.5,576.8 L303.6,576.5 L307.7,576.4 L311.8,576.2 L316.0,575.6 L320.1,574.4 L324.2,574.5 L328.3,575.7 L332.4,575.4 L336.5,575.7 L340.6,575.7 L344.7,575.2 L348.8,574.3 L352.9,574.6 L357.0,574.6 L361.1,574.8 L365.2,575.2 L369.3,575.1 L373.5,575.0 L377.6,575.0 L381.7,575.5 L385.8,574.3 L389.9,574.6 L394.0,574.8 L398.1,574.7 L402.2,574.9 L406.3,575.5 L410.4,575.7 L414.5,575.5 L418.6,575.7 L422.7,576.0 L426.9,575.3 L431.0,574.6 L435.1,574.9 L439.2,573.6 L443.3,572.4 L447.4,571.9 L451.5,570.6 L455.6,568.3 L459.7,567.0 L463.8,564.9 L467.9,562.6 L472.0,560.7 L476.1,558.4 L480.2,555.3 L484.4,552.2 L488.5,548.6 L492.6,543.9 L496.7,538.9 L500.8,532.3 L504.9,525.0 L509.0,516.6 L513.1,506.9 L517.2,496.5 L521.3,485.6 L525.4,473.6 L529.5,461.6 L533.6,449.4 L537.8,437.2 L541.9,424.6 L546.0,411.9 L550.1,399.2 L554.2,386.5 L558.3,373.8 L562.4,360.8 L566.5,348.5 L570.6,336.8 L574.7,325.7 L578.8,316.6 L582.9,310.0 L587.0,304.3 L591.2,297.7 L595.3,292.8 L599.4,289.4 L603.5,287.2 L607.6,285.2 L611.7,283.9 L615.8,282.8 L619.9,281.9 L624.0,281.9 L628.1,281.8 L632.2,282.3 L636.3,282.8 L640.4,283.1 L644.5,283.0 L648.7,282.8 L652.8,282.4 L656.9,282.3 L661.0,282.2 L665.1,282.7 L669.2,282.7 L673.3,283.3 L677.4,283.1 L681.5,282.5 L685.6,282.5 L689.7,282.6 L693.8,283.5 L697.9,283.8 L702.1,284.4 L706.2,285.1 L710.3,285.3 L714.4,285.6 L718.5,286.1 L722.6,286.3 L726.7,286.7 L730.8,287.3 L734.9,287.4 L739.0,287.2 L743.1,287.6 L747.2,287.3 L751.3,286.6 L755.5,286.3 L759.6,285.9 L763.7,286.4 L767.8,286.9 L771.9,286.3 L776.0,286.3 L780.1,286.2 L784.2,285.5 L788.3,286.0 L792.4,285.9 L796.5,284.8 L800.6,284.7 L804.7,283.9 L808.9,284.3 L813.0,284.6 L817.1,284.4 L821.2,284.9 L825.3,283.8 L829.4,283.7 L833.5,283.7 L837.6,283.9 L841.7,284.2 L845.8,284.3 L849.9,284.4 L854.0,283.9 L858.1,283.3 L862.2,283.3 L866.4,282.5 L870.5,282.0 L874.6,282.1 L878.7,281.7 L882.8,282.6 L886.9,282.5 L891.0,282.9"/>
<path d="M168.1,579.4 L172.2,578.3 L176.3,577.6 L180.4,577.7 L184.5,577.8 L188.6,577.3 L192.7,576.9 L196.8,576.3 L200.9,575.3 L205.0,574.7 L209.2,574.3 L213.3,574.4 L217.4,574.5 L221.5,574.8 L225.6,574.6 L229.7,574.8 L233.8,574.4 L237.9,573.8 L242.0,572.9 L246.1,573.2 L250.2,573.1 L254.3,573.6 L258.4,573.8 L262.6,574.1 L266.7,574.5 L270.8,574.3 L274.9,574.2 L279.0,574.1 L283.1,574.3 L287.2,573.7 L291.3,573.7 L295.4,573.7 L299.5,574.2 L303.6,574.1 L307.7,574.1 L311.8,574.7 L316.0,574.8 L320.1,574.3 L324.2,575.0 L328.3,575.4 L332.4,575.5 L336.5,575.1 L340.6,575.4 L344.7,574.8 L348.8,574.7 L352.9,574.7 L357.0,574.7 L361.1,574.7 L365.2,574.5 L369.3,574.5 L373.5,573.8 L377.6,573.8 L381.7,573.4 L385.8,573.1 L389.9,573.1 L394.0,573.1 L398.1,572.9 L402.2,573.0 L406.3,573.1 L410.4,573.0 L414.5,573.0 L418.6,572.3 L422.7,572.7 L426.9,572.3 L431.0,572.0 L435.1,571.8 L439.2,571.7 L443.3,570.9 L447.4,571.2 L451.5,570.4 L455.6,569.5 L459.7,568.0 L463.8,566.6 L467.9,564.0 L472.0,561.5 L476.1,558.3 L480.2,556.3 L484.4,553.2 L488.5,549.5 L492.6,545.5 L496.7,541.2 L500.8,535.1 L504.9,528.2 L509.0,520.3 L513.1,511.1 L517.2,500.7 L521.3,489.9 L525.4,478.1 L529.5,466.0 L533.6,454.1 L537.8,441.8 L541.9,429.5 L546.0,417.0 L550.1,404.6 L554.2,392.1 L558.3,379.5 L562.4,366.7 L566.5,353.8 L570.6,342.0 L574.7,330.5 L578.8,320.4 L582.9,312.7 L587.0,306.8 L591.2,301.1 L595.3,295.1 L599.4,291.7 L603.5,288.9 L607.6,286.6 L611.7,284.9 L615.8,283.9 L619.9,282.8 L624.0,282.6 L628.1,282.6 L632.2,282.2 L636.3,282.4 L640.4,282.4 L644.5,282.2 L648.7,282.3 L652.8,282.3 L656.9,282.9 L661.0,283.2 L665.1,283.2 L669.2,282.8 L673.3,282.3 L677.4,282.5 L681.5,282.9 L685.6,283.2 L689.7,283.5 L693.8,283.6 L697.9,284.0 L702.1,284.5 L706.2,284.9 L710.3,285.1 L714.4,285.3 L718.5,285.8 L722.6,285.4 L726.7,285.4 L730.8,286.0 L734.9,285.8 L739.0,285.9 L743.1,286.4 L747.2,285.4 L751.3,285.7 L755.5,285.4 L759.6,285.4 L763.7,286.1 L767.8,285.6 L771.9,285.3 L776.0,284.7 L780.1,284.0 L784.2,284.5 L788.3,285.5 L792.4,285.7 L796.5,285.4 L800.6,285.7 L804.7,285.3 L808.9,285.7 L813.0,286.1 L817.1,285.1 L821.2,285.2 L825.3,284.6 L829.4,284.0 L833.5,284.2 L837.6,284.1 L841.7,284.2 L845.8,285.2 L849.9,284.8 L854.0,284.5 L858.1,283.6 L862.2,282.4 L866.4,282.8 L870.5,282.6 L874.6,282.5 L878.7,282.6 L882.8,282.2 L886.9,282.4 L891.0,282.2"/>
<path d="M168.1,568.1 L172.2,569.2 L176.3,570.3 L180.4,571.3 L184.5,571.4 L188.6,572.4 L192.7,573.0 L196.8,572.9 L200.9,573.4 L205.0,573.4 L209.2,573.4 L213.3,573.2 L217.4,573.7 L221.5,573.4 L225.6,573.7 L229.7,573.8 L233.8,574.1 L237.9,574.0 L242.0,573.6 L246.1,573.9 L250.2,573.5 L254.3,573.1 L258.4,573.1 L262.6,573.5 L266.7,572.8 L270.8,573.3 L274.9,573.9 L279.0,573.8 L283.1,574.0 L287.2,573.9 L291.3,573.3 L295.4,573.6 L299.5,573.4 L303.6,573.4 L307.7,573.8 L311.8,574.4 L316.0,573.8 L320.1,573.8 L324.2,573.7 L328.3,573.6 L332.4,573.4 L336.5,573.7 L340.6,573.8 L344.7,573.8 L348.8,573.9 L352.9,573.5 L357.0,573.7 L361.1,573.6 L365.2,573.7 L369.3,573.3 L373.5,572.7 L377.6,572.2 L381.7,572.4 L385.8,571.9 L389.9,572.5 L394.0,572.7 L398.1,573.0 L402.2,572.4 L406.3,572.4 L410.4,572.4 L414.5,572.0 L418.6,572.3 L422.7,572.8 L426.9,573.1 L431.0,572.8 L435.1,573.0 L439.2,572.5 L443.3,571.9 L447.4,570.8 L451.5,569.4 L455.6,568.4 L459.7,566.4 L463.8,564.0 L467.9,562.4 L472.0,560.5 L476.1,557.2 L480.2,553.8 L484.4,551.3 L488.5,547.5 L492.6,543.3 L496.7,538.4 L500.8,532.5 L504.9,524.8 L509.0,517.1 L513.1,507.3 L517.2,496.7 L521.3,485.5 L525.4,473.6 L529.5,461.4 L533.6,449.5 L537.8,437.4 L541.9,425.1 L546.0,412.4 L550.1,399.4 L554.2,387.2 L558.3,376.9 L562.4,367.3 L566.5,358.5 L570.6,349.4 L574.7,339.5 L578.8,329.1 L582.9,320.4 L587.0,315.0 L591.2,310.8 L595.3,307.9 L599.4,305.5 L603.5,303.2 L607.6,301.9 L611.7,300.4 L615.8,299.7 L619.9,299.3 L624.0,298.7 L628.1,299.0 L632.2,298.5 L636.3,298.5 L640.4,298.5 L644.5,297.7 L648.7,297.8 L652.8,297.5 L656.9,297.3 L661.0,297.4 L665.1,297.2 L669.2,297.4 L673.3,296.5 L677.4,296.1 L681.5,295.4 L685.6,294.2 L689.7,293.7 L693.8,292.9 L697.9,292.8 L702.1,292.1 L706.2,291.6 L710.3,291.0 L714.4,290.1 L718.5,289.8 L722.6,289.1 L726.7,288.8 L730.8,288.8 L734.9,288.6 L739.0,288.9 L743.1,288.2 L747.2,287.8 L751.3,286.4 L755.5,285.7 L759.6,284.6 L763.7,284.2 L767.8,284.1 L771.9,283.6 L776.0,283.4 L780.1,281.8 L784.2,281.8 L788.3,281.2 L792.4,281.0 L796.5,281.3 L800.6,280.6 L804.7,280.3 L808.9,280.0 L813.0,279.0 L817.1,278.7 L821.2,278.3 L825.3,277.9 L829.4,278.4 L833.5,276.7 L837.6,276.4 L841.7,276.2 L845.8,274.7 L849.9,275.3 L854.0,274.5 L858.1,273.8 L862.2,273.9 L866.4,273.9 L870.5,273.8 L874.6,273.0 L878.7,272.6 L882.8,272.2 L886.9,271.9 L891.0,272.3"/>
<path d="M168.1,571.3 L172.2,571.8 L176.3,572.3 L180.4,573.0 L184.5,573.2 L188.6,573.7 L192.7,573.3 L196.8,573.7 L200.9,573.5 L205.0,573.5 L209.2,573.8 L213.3,573.9 L217.4,574.1 L221.5,573.6 L225.6,573.7 L229.7,573.4 L233.8,573.8 L237.9,573.6 L242.0,574.1 L246.1,574.3 L250.2,574.6 L254.3,574.4 L258.4,574.4 L262.6,574.3 L266.7,574.8 L270.8,575.2 L274.9,575.5 L279.0,575.6 L283.1,576.5 L287.2,575.8 L291.3,575.4 L295.4,575.1 L299.5,575.2 L303.6,574.7 L307.7,574.8 L311.8,574.8 L316.0,574.9 L320.1,574.6 L324.2,575.0 L328.3,574.5 L332.4,575.4 L336.5,575.4 L340.6,575.9 L344.7,575.4 L348.8,576.1 L352.9,574.6 L357.0,574.8 L361.1,573.9 L365.2,574.0 L369.3,573.5 L373.5,573.8 L377.6,572.6 L381.7,572.8 L385.8,573.6 L389.9,573.2 L394.0,573.2 L398.1,574.3 L402.2,574.2 L406.3,573.9 L410.4,574.2 L414.5,574.1 L418.6,573.8 L422.7,573.8 L426.9,573.6 L431.0,573.4 L435.1,573.4 L439.2,572.9 L443.3,572.1 L447.4,571.3 L451.5,570.8 L455.6,569.2 L459.7,567.6 L463.8,566.2 L467.9,564.1 L472.0,561.8 L476.1,559.4 L480.2,556.7 L484.4,553.4 L488.5,549.7 L492.6,545.7 L496.7,541.1 L500.8,535.6 L504.9,528.5 L509.0,520.8 L513.1,511.8 L517.2,501.5 L521.3,490.9 L525.4,479.5 L529.5,467.5 L533.6,455.3 L537.8,442.7 L541.9,430.3 L546.0,417.6 L550.1,404.7 L554.2,392.0 L558.3,380.9 L562.4,371.2 L566.5,362.0 L570.6,353.5 L574.7,344.3 L578.8,333.9 L582.9,324.0 L587.0,317.2 L591.2,312.0 L595.3,308.2 L599.4,305.5 L603.5,303.3 L607.6,301.5 L611.7,300.4 L615.8,299.3 L619.9,299.0 L624.0,298.9 L628.1,298.4 L632.2,298.5 L636.3,297.3 L640.4,296.5 L644.5,296.8 L648.7,296.9 L652.8,297.5 L656.9,297.7 L661.0,296.9 L665.1,296.4 L669.2,296.5 L673.3,296.9 L677.4,297.5 L681.5,297.6 L685.6,296.6 L689.7,295.5 L693.8,294.5 L697.9,293.4 L702.1,292.3 L706.2,291.8 L710.3,290.8 L714.4,290.0 L718.5,289.7 L722.6,289.1 L726.7,288.6 L730.8,288.5 L734.9,288.1 L739.0,287.9 L743.1,286.7 L747.2,285.8 L751.3,285.0 L755.5,283.7 L759.6,283.2 L763.7,282.5 L767.8,282.3 L771.9,282.6 L776.0,281.9 L780.1,282.2 L784.2,282.1 L788.3,281.8 L792.4,282.1 L796.5,281.3 L800.6,280.3 L804.7,279.7 L808.9,279.9 L813.0,279.6 L817.1,279.2 L821.2,278.7 L825.3,277.8 L829.4,277.3 L833.5,276.8 L837.6,276.4 L841.7,276.5 L845.8,276.5 L849.9,276.6 L854.0,276.8 L858.1,275.8 L862.2,275.5 L866.4,274.9 L870.5,273.8 L874.6,273.8 L878.7,272.7 L882.8,272.6 L886.9,272.6 L891.0,272.0"/>
<path d="M168.1,566.1 L172.2,568.3 L176.3,569.7 L180.4,571.0 L184.5,571.6 L188.6,573.0 L192.7,573.6 L196.8,573.8 L200.9,573.6 L205.0,574.2 L209.2,574.0 L213.3,573.7 L217.4,572.7 L221.5,573.3 L225.6,573.6 L229.7,573.8 L233.8,573.9 L237.9,574.9 L242.0,575.0 L246.1,574.6 L250.2,574.7 L254.3,574.8 L258.4,574.6 L262.6,574.2 L266.7,574.3 L270.8,573.4 L274.9,573.1 L279.0,573.2 L283.1,573.3 L287.2,573.0 L291.3,573.3 L295.4,573.4 L299.5,573.4 L303.6,573.3 L307.7,573.6 L311.8,573.3 L316.0,573.6 L320.1,573.8 L324.2,574.2 L328.3,574.3 L332.4,575.0 L336.5,574.9 L340.6,574.6 L344.7,574.5 L348.8,574.3 L352.9,573.9 L357.0,573.6 L361.1,573.4 L365.2,573.1 L369.3,572.8 L373.5,572.8 L377.6,572.5 L381.7,572.6 L385.8,572.5 L389.9,572.3 L394.0,572.5 L398.1,572.8 L402.2,572.4 L406.3,572.5 L410.4,572.5 L414.5,572.6 L418.6,572.7 L422.7,573.0 L426.9,573.1 L431.0,573.2 L435.1,572.9 L439.2,573.6 L443.3,573.2 L447.4,572.9 L451.5,573.0 L455.6,573.0 L459.7,572.0 L463.8,571.6 L467.9,571.4 L472.0,570.2 L476.1,568.7 L480.2,567.2 L484.4,566.2 L488.5,564.7 L492.6,563.5 L496.7,562.1 L500.8,560.5 L504.9,558.6 L509.0,556.1 L513.1,553.4 L517.2,550.0 L521.3,545.8 L525.4,540.8 L529.5,534.9 L533.6,527.7 L537.8,520.0 L541.9,511.5 L546.0,502.5 L550.1,493.2 L554.2,483.9 L558.3,474.1 L562.4,464.1 L566.5,454.2 L570.6,443.6 L574.7,433.5 L578.8,422.7 L582.9,412.0 L587.0,401.6 L591.2,390.6 L595.3,380.3 L599.4,369.4 L603.5,358.6 L607.6,348.2 L611.7,338.1 L615.8,328.9 L619.9,319.4 L624.0,310.2 L628.1,300.8 L632.2,291.6 L636.3,282.2 L640.4,273.0 L644.5,264.4 L648.7,254.7 L652.8,246.2 L656.9,237.8 L661.0,229.4 L665.1,221.2 L669.2,213.0 L673.3,205.4 L677.4,198.0 L681.5,190.4 L685.6,183.6 L689.7,175.9 L693.8,168.0 L697.9,160.9 L702.1,153.3 L706.2,147.5 L710.3,141.8 L714.4,136.6 L718.5,131.6 L722.6,126.7 L726.7,121.6 L730.8,117.4 L734.9,113.4 L739.0,109.4 L743.1,106.7 L747.2,103.3 L751.3,99.7 L755.5,96.3 L759.6,92.6 L763.7,89.1 L767.8,86.4 L771.9,84.3 L776.0,81.6 L780.1,79.5 L784.2,77.6 L788.3,75.1 L792.4,74.0 L796.5,72.4 L800.6,70.3 L804.7,68.4 L808.9,66.3 L813.0,64.8 L817.1,63.3 L821.2,61.9 L825.3,60.5 L829.4,58.5 L833.5,56.7 L837.6,55.2 L841.7,54.3 L845.8,54.0 L849.9,53.4 L854.0,52.2 L858.1,50.8 L862.2,49.6 L866.4,48.7 L870.5,47.7 L874.6,45.8 L878.7,43.4 L882.8,40.7 L886.9,38.0 L891.0,35.5"/>
<path d="M168.1,577.5 L172.2,576.8 L176.3,576.8 L180.4,576.7 L184.5,576.6 L188.6,575.1 L192.7,573.9 L196.8,573.8 L200.9,574.2 L205.0,573.7 L209.2,574.3 L213.3,574.5 L217.4,574.1 L221.5,573.7 L225.6,574.1 L229.7,574.0 L233.8,574.1 L237.9,574.2 L242.0,574.0 L246.1,573.5 L250.2,573.6 L254.3,574.1 L258.4,573.8 L262.6,574.3 L266.7,574.1 L270.8,574.2 L274.9,573.5 L279.0,573.7 L283.1,573.1 L287.2,573.5 L291.3,573.3 L295.4,573.6 L299.5,573.8 L303.6,574.1 L307.7,574.1 L311.8,574.7 L316.0,574.6 L320.1,574.5 L324.2,574.4 L328.3,574.3 L332.4,573.9 L336.5,573.0 L340.6,572.4 L344.7,572.3 L348.8,571.9 L352.9,571.9 L357.0,572.7 L361.1,572.4 L365.2,572.1 L369.3,573.0 L373.5,573.0 L377.6,572.8 L381.7,573.2 L385.8,573.1 L389.9,572.5 L394.0,572.4 L398.1,572.5 L402.2,572.5 L406.3,572.5 L410.4,572.5 L414.5,572.7 L418.6,572.8 L422.7,572.9 L426.9,572.9 L431.0,572.6 L435.1,572.9 L439.2,573.0 L443.3,572.0 L447.4,572.2 L451.5,572.4 L455.6,571.6 L459.7,571.4 L463.8,571.7 L467.9,570.8 L472.0,569.6 L476.1,568.8 L480.2,567.4 L484.4,566.4 L488.5,565.7 L492.6,564.8 L496.7,563.4 L500.8,562.0 L504.9,559.8 L509.0,557.3 L513.1,554.4 L517.2,551.0 L521.3,547.0 L525.4,542.2 L529.5,536.4 L533.6,529.2 L537.8,521.3 L541.9,513.2 L546.0,504.4 L550.1,495.4 L554.2,486.1 L558.3,476.7 L562.4,466.8 L566.5,456.9 L570.6,446.4 L574.7,435.3 L578.8,424.9 L582.9,414.4 L587.0,403.6 L591.2,393.1 L595.3,382.2 L599.4,371.3 L603.5,360.6 L607.6,350.2 L611.7,340.7 L615.8,331.1 L619.9,322.1 L624.0,312.8 L628.1,303.0 L632.2,293.6 L636.3,284.3 L640.4,275.8 L644.5,267.0 L648.7,258.4 L652.8,249.7 L656.9,240.7 L661.0,231.5 L665.1,222.8 L669.2,214.5 L673.3,206.8 L677.4,200.3 L681.5,193.5 L685.6,186.9 L689.7,180.0 L693.8,172.8 L697.9,165.7 L702.1,158.8 L706.2,152.4 L710.3,146.6 L714.4,141.3 L718.5,135.7 L722.6,131.1 L726.7,126.9 L730.8,122.4 L734.9,118.3 L739.0,114.0 L743.1,109.8 L747.2,106.4 L751.3,104.0 L755.5,101.2 L759.6,98.5 L763.7,96.0 L767.8,93.6 L771.9,91.4 L776.0,90.0 L780.1,88.1 L784.2,85.7 L788.3,83.6 L792.4,81.0 L796.5,78.4 L800.6,76.2 L804.7,74.4 L808.9,72.9 L813.0,70.8 L817.1,69.1 L821.2,67.4 L825.3,65.9 L829.4,64.9 L833.5,64.5 L837.6,63.4 L841.7,62.4 L845.8,61.2 L849.9,58.8 L854.0,57.3 L858.1,54.7 L862.2,53.3 L866.4,52.4 L870.5,51.3 L874.6,50.5 L878.7,49.4 L882.8,47.8 L886.9,46.0 L891.0,44.9"/>
<path d="M168.1,569.0 L172.2,570.6 L176.3,572.0 L180.4,572.2 L184.5,572.0 L188.6,572.4 L192.7,572.2 L196.8,572.0 L200.9,572.4 L205.0,573.0 L209.2,573.4 L213.3,573.6 L217.4,574.0 L221.5,574.3 L225.6,574.4 L229.7,574.4 L233.8,574.0 L237.9,574.1 L242.0,574.4 L246.1,574.6 L250.2,574.6 L254.3,574.4 L258.4,573.9 L262.6,573.4 L266.7,573.6 L270.8,573.3 L274.9,574.1 L279.0,573.9 L283.1,574.3 L287.2,574.3 L291.3,574.3 L295.4,573.9 L299.5,574.1 L303.6,574.2 L307.7,573.6 L311.8,573.3 L316.0,573.7 L320.1,573.5 L324.2,573.5 L328.3,573.1 L332.4,573.0 L336.5,573.0 L340.6,573.4 L344.7,572.7 L348.8,573.3 L352.9,573.8 L357.0,573.8 L361.1,573.9 L365.2,574.1 L369.3,573.7 L373.5,573.8 L377.6,573.0 L381.7,573.3 L385.8,573.7 L389.9,573.9 L394.0,573.2 L398.1,573.5 L402.2,573.4 L406.3,573.1 L410.4,573.3 L414.5,573.5 L418.6,573.5 L422.7,573.0 L426.9,572.5 L431.0,572.2 L435.1,572.5 L439.2,572.3 L443.3,572.3 L447.4,573.3 L451.5,573.2 L455.6,572.1 L459.7,572.1 L463.8,572.3 L467.9,571.4 L472.0,570.7 L476.1,569.9 L480.2,568.7 L484.4,567.4 L488.5,566.5 L492.6,565.5 L496.7,564.8 L500.8,563.0 L504.9,560.8 L509.0,558.5 L513.1,555.6 L517.2,552.1 L521.3,547.9 L525.4,543.3 L529.5,537.9 L533.6,531.1 L537.8,523.5 L541.9,515.4 L546.0,506.5 L550.1,497.5 L554.2,488.4 L558.3,478.9 L562.4,469.2 L566.5,459.1 L570.6,448.9 L574.7,438.5 L578.8,428.0 L582.9,417.2 L587.0,406.2 L591.2,395.4 L595.3,384.4 L599.4,373.8 L603.5,363.2 L607.6,352.7 L611.7,343.1 L615.8,333.4 L619.9,324.3 L624.0,314.7 L628.1,304.9 L632.2,295.8 L636.3,286.4 L640.4,277.0 L644.5,268.0 L648.7,258.8 L652.8,250.5 L656.9,242.5 L661.0,233.8 L665.1,225.3 L669.2,216.6 L673.3,208.8 L677.4,202.3 L681.5,195.6 L685.6,188.9 L689.7,182.6 L693.8,175.2 L697.9,168.0 L702.1,160.4 L706.2,153.2 L710.3,147.6 L714.4,142.6 L718.5,138.5 L722.6,135.4 L726.7,131.3 L730.8,127.2 L734.9,122.8 L739.0,118.5 L743.1,114.4 L747.2,110.5 L751.3,107.5 L755.5,103.9 L759.6,101.7 L763.7,99.2 L767.8,97.5 L771.9,95.7 L776.0,93.3 L780.1,91.6 L784.2,89.3 L788.3,87.1 L792.4,85.7 L796.5,84.4 L800.6,82.9 L804.7,82.1 L808.9,80.3 L813.0,78.5 L817.1,76.6 L821.2,74.2 L825.3,72.7 L829.4,70.6 L833.5,68.8 L837.6,67.3 L841.7,65.2 L845.8,64.1 L849.9,62.3 L854.0,61.2 L858.1,60.0 L862.2,58.3 L866.4,57.5 L870.5,56.2 L874.6,54.4 L878.7,53.3 L882.8,51.8 L886.9,50.9 L891.0,50.4"/>
<path d="M168.1,573.4 L172.2,573.9 L176.3,574.0 L180.4,573.9 L184.5,574.1 L188.6,574.4 L192.7,574.4 L196.8,574.7 L200.9,575.4 L205.0,575.2 L209.2,574.9 L213.3,574.9 L217.4,575.1 L221.5,574.6 L225.6,574.4 L229.7,574.4 L233.8,574.5 L237.9,574.4 L242.0,574.1 L246.1,573.9 L250.2,573.8 L254.3,573.9 L258.4,573.4 L262.6,573.9 L266.7,574.1 L270.8,574.3 L274.9,574.1 L279.0,574.4 L283.1,574.3 L287.2,574.9 L291.3,574.5 L295.4,574.8 L299.5,575.0 L303.6,575.1 L307.7,574.9 L311.8,575.7 L316.0,575.5 L320.1,575.2 L324.2,575.2 L328.3,574.7 L332.4,574.3 L336.5,574.3 L340.6,574.7 L344.7,575.2 L348.8,575.9 L352.9,575.7 L357.0,575.7 L361.1,575.0 L365.2,574.3 L369.3,573.8 L373.5,573.8 L377.6,573.5 L381.7,573.8 L385.8,573.9 L389.9,573.9 L394.0,574.0 L398.1,574.9 L402.2,574.9 L406.3,574.4 L410.4,574.4 L414.5,574.5 L418.6,573.6 L422.7,573.1 L426.9,573.8 L431.0,573.9 L435.1,574.0 L439.2,574.1 L443.3,574.8 L447.4,574.7 L451.5,574.0 L455.6,573.2 L459.7,572.8 L463.8,572.4 L467.9,572.5 L472.0,572.1 L476.1,571.4 L480.2,570.0 L484.4,568.6 L488.5,567.4 L492.6,566.9 L496.7,565.3 L500.8,564.0 L504.9,561.8 L509.0,559.5 L513.1,556.8 L517.2,553.9 L521.3,549.8 L525.4,545.4 L529.5,539.7 L533.6,533.2 L537.8,525.6 L541.9,517.6 L546.0,508.9 L550.1,499.6 L554.2,490.3 L558.3,480.8 L562.4,471.3 L566.5,461.5 L570.6,451.4 L574.7,441.1 L578.8,430.3 L582.9,419.7 L587.0,409.2 L591.2,398.4 L595.3,387.6 L599.4,376.8 L603.5,366.0 L607.6,355.5 L611.7,345.2 L615.8,335.7 L619.9,326.7 L624.0,317.4 L628.1,308.1 L632.2,298.1 L636.3,289.0 L640.4,279.9 L644.5,271.3 L648.7,262.9 L652.8,253.9 L656.9,245.1 L661.0,236.0 L665.1,227.4 L669.2,218.8 L673.3,211.0 L677.4,204.0 L681.5,197.5 L685.6,190.5 L689.7,184.7 L693.8,178.5 L697.9,171.6 L702.1,165.8 L706.2,159.6 L710.3,154.0 L714.4,149.6 L718.5,146.1 L722.6,142.6 L726.7,139.3 L730.8,135.9 L734.9,131.0 L739.0,126.7 L743.1,122.1 L747.2,116.8 L751.3,113.1 L755.5,109.5 L759.6,107.3 L763.7,105.8 L767.8,104.6 L771.9,103.1 L776.0,101.6 L780.1,100.8 L784.2,98.7 L788.3,97.0 L792.4,95.7 L796.5,93.6 L800.6,92.9 L804.7,92.8 L808.9,91.9 L813.0,91.3 L817.1,90.3 L821.2,88.3 L825.3,86.9 L829.4,85.6 L833.5,83.8 L837.6,82.8 L841.7,81.3 L845.8,79.3 L849.9,78.3 L854.0,77.3 L858.1,75.7 L862.2,74.1 L866.4,72.8 L870.5,71.4 L874.6,70.9 L878.7,70.3 L882.8,68.7 L886.9,67.2 L891.0,65.2"/>
<path d="M168.1,567.8 L172.2,569.7 L176.3,571.4 L180.4,572.7 L184.5,573.2 L188.6,574.4 L192.7,574.7 L196.8,574.7 L200.9,574.5 L205.0,574.2 L209.2,574.3 L213.3,574.3 L217.4,574.4 L221.5,574.8 L225.6,574.9 L229.7,574.3 L233.8,574.2 L237.9,574.1 L242.0,573.3 L246.1,573.1 L250.2,573.8 L254.3,573.8 L258.4,573.1 L262.6,573.8 L266.7,573.6 L270.8,573.0 L274.9,573.6 L279.0,573.4 L283.1,573.6 L287.2,574.1 L291.3,573.8 L295.4,573.4 L299.5,573.7 L303.6,574.4 L307.7,573.9 L311.8,574.1 L316.0,573.8 L320.1,574.4 L324.2,573.8 L328.3,573.7 L332.4,574.1 L336.5,574.6 L340.6,573.6 L344.7,573.6 L348.8,573.2 L352.9,573.0 L357.0,572.4 L361.1,573.0 L365.2,572.1 L369.3,572.6 L373.5,572.9 L377.6,572.8 L381.7,571.7 L385.8,571.9 L389.9,571.7 L394.0,571.5 L398.1,571.9 L402.2,572.8 L406.3,573.5 L410.4,573.5 L414.5,573.1 L418.6,573.1 L422.7,572.9 L426.9,572.9 L431.0,573.2 L435.1,573.5 L439.2,573.2 L443.3,573.8 L447.4,573.2 L451.5,572.9 L455.6,572.5 L459.7,572.8 L463.8,572.3 L467.9,571.9 L472.0,571.8 L476.1,571.5 L480.2,571.2 L484.4,571.0 L488.5,570.3 L492.6,569.4 L496.7,568.2 L500.8,566.5 L504.9,564.7 L509.0,563.0 L513.1,561.2 L517.2,558.9 L521.3,556.6 L525.4,553.7 L529.5,550.6 L533.6,546.9 L537.8,542.8 L541.9,537.9 L546.0,531.5 L550.1,523.7 L554.2,515.7 L558.3,507.4 L562.4,498.9 L566.5,489.8 L570.6,480.5 L574.7,471.3 L578.8,461.7 L582.9,451.9 L587.0,442.1 L591.2,432.0 L595.3,422.1 L599.4,411.8 L603.5,401.0 L607.6,390.7 L611.7,380.4 L615.8,370.0 L619.9,359.7 L624.0,349.7 L628.1,340.5 L632.2,332.0 L636.3,324.6 L640.4,317.3 L644.5,310.8 L648.7,304.9 L652.8,298.8 L656.9,293.6 L661.0,288.5 L665.1,283.7 L669.2,280.3 L673.3,276.9 L677.4,274.0 L681.5,271.2 L685.6,268.1 L689.7,265.8 L693.8,263.7 L697.9,262.4 L702.1,261.2 L706.2,260.0 L710.3,260.2 L714.4,260.8 L718.5,261.8 L722.6,262.6 L726.7,263.1 L730.8,262.2 L734.9,261.9 L739.0,261.3 L743.1,260.4 L747.2,259.4 L751.3,257.8 L755.5,257.1 L759.6,255.8 L763.7,256.3 L767.8,256.3 L771.9,254.9 L776.0,254.4 L780.1,253.6 L784.2,252.9 L788.3,253.6 L792.4,253.0 L796.5,252.4 L800.6,251.3 L804.7,249.9 L808.9,249.8 L813.0,249.2 L817.1,249.0 L821.2,248.7 L825.3,248.3 L829.4,248.3 L833.5,247.9 L837.6,247.8 L841.7,247.5 L845.8,246.4 L849.9,246.1 L854.0,245.4 L858.1,245.0 L862.2,244.3 L866.4,243.3 L870.5,242.6 L874.6,241.3 L878.7,240.8 L882.8,240.3 L886.9,239.0 L891.0,238.6"/>
<path d="M168.1,580.7 L172.2,579.4 L176.3,577.3 L180.4,575.8 L184.5,575.2 L188.6,574.8 L192.7,573.9 L196.8,574.7 L200.9,575.1 L205.0,574.5 L209.2,575.0 L213.3,574.9 L217.4,574.4 L221.5,574.4 L225.6,574.7 L229.7,574.2 L233.8,574.1 L237.9,574.2 L242.0,573.5 L246.1,573.6 L250.2,573.9 L254.3,573.8 L258.4,573.6 L262.6,573.3 L266.7,573.2 L270.8,572.8 L274.9,573.4 L279.0,573.7 L283.1,574.0 L287.2,574.1 L291.3,574.5 L295.4,574.3 L299.5,574.5 L303.6,574.7 L307.7,574.6 L311.8,574.6 L316.0,575.0 L320.1,574.2 L324.2,574.1 L328.3,574.4 L332.4,574.4 L336.5,574.5 L340.6,575.5 L344.7,576.1 L348.8,575.9 L352.9,575.5 L357.0,574.8 L361.1,574.4 L365.2,573.6 L369.3,573.1 L373.5,573.5 L377.6,573.8 L381.7,573.6 L385.8,573.7 L389.9,573.4 L394.0,573.4 L398.1,573.7 L402.2,573.3 L406.3,573.6 L410.4,573.7 L414.5,573.3 L418.6,573.0 L422.7,573.2 L426.9,573.0 L431.0,572.9 L435.1,572.7 L439.2,572.6 L443.3,573.0 L447.4,572.9 L451.5,573.5 L455.6,573.6 L459.7,572.9 L463.8,573.1 L467.9,573.2 L472.0,572.7 L476.1,572.0 L480.2,571.7 L484.4,570.8 L488.5,569.9 L492.6,569.3 L496.7,568.4 L500.8,567.1 L504.9,565.5 L509.0,563.8 L513.1,561.9 L517.2,560.2 L521.3,557.8 L525.4,554.9 L529.5,551.8 L533.6,548.2 L537.8,544.0 L541.9,539.4 L546.0,533.4 L550.1,525.7 L554.2,517.6 L558.3,509.5 L562.4,501.0 L566.5,492.2 L570.6,483.0 L574.7,473.5 L578.8,463.8 L582.9,454.3 L587.0,444.6 L591.2,434.8 L595.3,424.4 L599.4,414.1 L603.5,403.8 L607.6,393.1 L611.7,383.4 L615.8,372.9 L619.9,362.0 L624.0,351.5 L628.1,342.0 L632.2,333.5 L636.3,325.7 L640.4,319.0 L644.5,312.4 L648.7,305.8 L652.8,300.3 L656.9,295.3 L661.0,290.8 L665.1,287.8 L669.2,284.8 L673.3,282.1 L677.4,279.6 L681.5,277.5 L685.6,276.4 L689.7,275.8 L693.8,274.5 L697.9,273.4 L702.1,272.4 L706.2,271.7 L710.3,271.6 L714.4,271.6 L718.5,271.4 L722.6,271.1 L726.7,270.5 L730.8,269.9 L734.9,269.2 L739.0,269.0 L743.1,268.8 L747.2,268.1 L751.3,267.9 L755.5,267.4 L759.6,266.3 L763.7,266.5 L767.8,266.2 L771.9,265.2 L776.0,265.7 L780.1,265.2 L784.2,263.9 L788.3,263.7 L792.4,263.2 L796.5,262.1 L800.6,261.4 L804.7,261.0 L808.9,260.0 L813.0,259.3 L817.1,259.0 L821.2,257.7 L825.3,257.1 L829.4,257.1 L833.5,256.9 L837.6,256.8 L841.7,256.2 L845.8,256.4 L849.9,256.3 L854.0,255.7 L858.1,255.1 L862.2,254.0 L866.4,252.8 L870.5,252.7 L874.6,252.9 L878.7,252.2 L882.8,251.7 L886.9,251.0 L891.0,250.5"/>
<path d="M168.1,571.8 L172.2,572.9 L176.3,572.8 L180.4,573.0 L184.5,572.8 L188.6,572.9 L192.7,572.9 L196.8,573.8 L200.9,574.1 L205.0,574.2 L209.2,574.2 L213.3,574.2 L217.4,573.4 L221.5,573.3 L225.6,573.4 L229.7,573.2 L233.8,573.7 L237.9,574.5 L242.0,575.1 L246.1,575.3 L250.2,575.8 L254.3,575.6 L258.4,575.3 L262.6,575.2 L266.7,575.7 L270.8,575.9 L274.9,576.3 L279.0,576.2 L283.1,576.7 L287.2,576.4 L291.3,576.4 L295.4,575.7 L299.5,575.8 L303.6,575.5 L307.7,575.3 L311.8,575.1 L316.0,575.1 L320.1,574.8 L324.2,574.6 L328.3,574.8 L332.4,575.0 L336.5,575.4 L340.6,575.6 L344.7,575.8 L348.8,576.2 L352.9,576.4 L357.0,576.0 L361.1,575.8 L365.2,575.6 L369.3,575.3 L373.5,574.8 L377.6,575.2 L381.7,575.1 L385.8,574.6 L389.9,574.5 L394.0,574.2 L398.1,574.0 L402.2,574.2 L406.3,574.3 L410.4,574.8 L414.5,574.9 L418.6,574.6 L422.7,574.8 L426.9,575.1 L431.0,574.8 L435.1,575.0 L439.2,575.3 L443.3,575.0 L447.4,574.7 L451.5,574.8 L455.6,574.3 L459.7,574.3 L463.8,574.1 L467.9,574.0 L472.0,573.5 L476.1,572.7 L480.2,572.3 L484.4,571.6 L488.5,570.9 L492.6,570.3 L496.7,569.8 L500.8,568.6 L504.9,567.1 L509.0,565.4 L513.1,563.4 L517.2,561.1 L521.3,558.7 L525.4,556.0 L529.5,552.7 L533.6,549.3 L537.8,545.2 L541.9,540.5 L546.0,535.0 L550.1,527.6 L554.2,519.5 L558.3,511.6 L562.4,503.3 L566.5,494.3 L570.6,485.2 L574.7,475.9 L578.8,466.3 L582.9,456.7 L587.0,447.0 L591.2,437.2 L595.3,426.7 L599.4,416.8 L603.5,406.2 L607.6,395.4 L611.7,385.3 L615.8,374.6 L619.9,363.9 L624.0,353.8 L628.1,344.8 L632.2,335.9 L636.3,328.0 L640.4,320.7 L644.5,314.0 L648.7,307.7 L652.8,302.2 L656.9,298.4 L661.0,294.3 L665.1,291.0 L669.2,288.3 L673.3,285.8 L677.4,284.2 L681.5,283.0 L685.6,281.6 L689.7,279.9 L693.8,279.1 L697.9,277.7 L702.1,277.0 L706.2,276.7 L710.3,275.1 L714.4,274.7 L718.5,273.7 L722.6,273.1 L726.7,273.6 L730.8,272.8 L734.9,273.2 L739.0,272.9 L743.1,271.8 L747.2,271.7 L751.3,270.7 L755.5,270.6 L759.6,270.7 L763.7,269.9 L767.8,270.0 L771.9,269.2 L776.0,268.6 L780.1,268.2 L784.2,267.5 L788.3,266.0 L792.4,265.5 L796.5,264.7 L800.6,264.2 L804.7,264.0 L808.9,263.5 L813.0,263.9 L817.1,263.0 L821.2,262.5 L825.3,261.8 L829.4,261.3 L833.5,260.9 L837.6,261.0 L841.7,260.6 L845.8,259.3 L849.9,259.1 L854.0,258.2 L858.1,257.8 L862.2,257.7 L866.4,257.0 L870.5,256.9 L874.6,256.2 L878.7,255.7 L882.8,255.3 L886.9,254.7 L891.0,254.3"/>
<path d="M168.1,574.1 L172.2,573.9 L176.3,574.7 L180.4,574.8 L184.5,574.9 L188.6,575.1 L192.7,574.9 L196.8,574.2 L200.9,574.3 L205.0,573.5 L209.2,573.4 L213.3,573.5 L217.4,574.3 L221.5,574.8 L225.6,575.2 L229.7,576.3 L233.8,576.4 L237.9,576.9 L242.0,576.6 L246.1,576.4 L250.2,576.0 L254.3,576.0 L258.4,575.6 L262.6,575.4 L266.7,576.1 L270.8,576.1 L274.9,576.1 L279.0,576.2 L283.1,576.5 L287.2,575.7 L291.3,575.5 L295.4,575.5 L299.5,575.4 L303.6,575.2 L307.7,575.8 L311.8,576.4 L316.0,576.6 L320.1,576.5 L324.2,576.8 L328.3,576.9 L332.4,576.3 L336.5,576.3 L340.6,576.5 L344.7,575.5 L348.8,575.6 L352.9,575.4 L357.0,575.5 L361.1,574.9 L365.2,575.4 L369.3,574.7 L373.5,574.7 L377.6,574.6 L381.7,574.3 L385.8,574.4 L389.9,574.6 L394.0,574.6 L398.1,574.6 L402.2,574.9 L406.3,574.5 L410.4,574.0 L414.5,573.9 L418.6,573.5 L422.7,573.2 L426.9,573.9 L431.0,574.0 L435.1,573.9 L439.2,574.7 L443.3,574.8 L447.4,574.8 L451.5,575.2 L455.6,574.9 L459.7,574.5 L463.8,574.4 L467.9,573.4 L472.0,573.5 L476.1,573.8 L480.2,573.1 L484.4,572.5 L488.5,571.5 L492.6,570.1 L496.7,568.8 L500.8,567.8 L504.9,567.1 L509.0,566.2 L513.1,564.7 L517.2,562.7 L521.3,560.6 L525.4,557.8 L529.5,554.8 L533.6,551.6 L537.8,548.0 L541.9,543.7 L546.0,538.7 L550.1,533.7 L554.2,527.9 L558.3,520.9 L562.4,511.8 L566.5,501.2 L570.6,491.6 L574.7,482.7 L578.8,473.8 L582.9,465.0 L587.0,455.9 L591.2,447.1 L595.3,437.9 L599.4,428.4 L603.5,418.8 L607.6,408.5 L611.7,398.4 L615.8,388.4 L619.9,378.8 L624.0,369.0 L628.1,359.0 L632.2,350.5 L636.3,343.1 L640.4,336.8 L644.5,331.8 L648.7,326.2 L652.8,320.7 L656.9,316.1 L661.0,311.4 L665.1,308.0 L669.2,305.5 L673.3,302.3 L677.4,299.9 L681.5,298.3 L685.6,296.3 L689.7,294.4 L693.8,292.8 L697.9,291.7 L702.1,290.0 L706.2,288.9 L710.3,287.6 L714.4,285.4 L718.5,284.6 L722.6,283.8 L726.7,282.9 L730.8,282.6 L734.9,282.6 L739.0,282.0 L743.1,282.4 L747.2,282.6 L751.3,281.8 L755.5,280.9 L759.6,280.1 L763.7,278.7 L767.8,278.3 L771.9,277.8 L776.0,277.2 L780.1,276.2 L784.2,275.8 L788.3,276.1 L792.4,275.6 L796.5,276.8 L800.6,276.5 L804.7,276.1 L808.9,275.7 L813.0,274.8 L817.1,275.4 L821.2,275.7 L825.3,275.7 L829.4,275.5 L833.5,273.9 L837.6,272.9 L841.7,272.1 L845.8,271.3 L849.9,270.6 L854.0,269.8 L858.1,269.4 L862.2,269.2 L866.4,269.1 L870.5,268.5 L874.6,268.1 L878.7,267.1 L882.8,267.1 L886.9,266.9 L891.0,266.3"/>
<path d="M168.1,561.8 L172.2,564.7 L176.3,566.9 L180.4,567.9 L184.5,569.3 L188.6,570.1 L192.7,570.9 L196.8,572.0 L200.9,572.3 L205.0,572.0 L209.2,572.5 L213.3,573.0 L217.4,573.4 L221.5,573.6 L225.6,573.9 L229.7,574.3 L233.8,573.8 L237.9,573.7 L242.0,574.5 L246.1,574.9 L250.2,574.7 L254.3,575.4 L258.4,575.1 L262.6,574.9 L266.7,574.6 L270.8,574.7 L274.9,574.8 L279.0,575.4 L283.1,575.4 L287.2,575.7 L291.3,575.4 L295.4,575.1 L299.5,574.9 L303.6,574.5 L307.7,574.7 L311.8,575.3 L316.0,575.7 L320.1,575.1 L324.2,575.4 L328.3,575.3 L332.4,575.4 L336.5,574.9 L340.6,574.7 L344.7,574.9 L348.8,574.8 L352.9,574.3 L357.0,574.4 L361.1,574.7 L365.2,574.5 L369.3,574.5 L373.5,574.5 L377.6,574.2 L381.7,574.1 L385.8,573.3 L389.9,573.1 L394.0,572.9 L398.1,573.1 L402.2,572.9 L406.3,573.6 L410.4,573.6 L414.5,573.3 L418.6,573.2 L422.7,573.6 L426.9,574.0 L431.0,574.0 L435.1,574.8 L439.2,575.3 L443.3,575.5 L447.4,575.5 L451.5,575.7 L455.6,575.3 L459.7,575.1 L463.8,575.0 L467.9,574.5 L472.0,574.6 L476.1,574.1 L480.2,574.4 L484.4,574.6 L488.5,574.9 L492.6,574.4 L496.7,574.6 L500.8,574.3 L504.9,574.0 L509.0,573.6 L513.1,573.5 L517.2,573.4 L521.3,573.4 L525.4,573.2 L529.5,573.0 L533.6,572.5 L537.8,572.1 L541.9,571.8 L546.0,571.3 L550.1,570.6 L554.2,569.9 L558.3,569.0 L562.4,568.1 L566.5,567.6 L570.6,566.2 L574.7,564.8 L578.8,563.4 L582.9,561.3 L587.0,559.4 L591.2,557.0 L595.3,554.6 L599.4,551.5 L603.5,547.6 L607.6,543.4 L611.7,537.9 L615.8,532.3 L619.9,526.0 L624.0,518.3 L628.1,510.3 L632.2,500.9 L636.3,490.4 L640.4,480.1 L644.5,467.9 L648.7,456.3 L652.8,444.7 L656.9,432.1 L661.0,420.4 L665.1,407.9 L669.2,395.1 L673.3,383.5 L677.4,371.8 L681.5,360.9 L685.6,350.1 L689.7,338.3 L693.8,328.9 L697.9,320.0 L702.1,312.6 L706.2,306.8 L710.3,300.7 L714.4,295.9 L718.5,292.8 L722.6,290.2 L726.7,287.9 L730.8,286.9 L734.9,285.8 L739.0,284.6 L743.1,283.4 L747.2,282.0 L751.3,279.7 L755.5,278.6 L759.6,278.3 L763.7,277.5 L767.8,277.3 L771.9,276.8 L776.0,276.3 L780.1,276.4 L784.2,275.9 L788.3,275.5 L792.4,274.3 L796.5,273.2 L800.6,272.5 L804.7,271.6 L808.9,271.5 L813.0,270.9 L817.1,270.8 L821.2,271.0 L825.3,271.2 L829.4,271.8 L833.5,271.6 L837.6,271.4 L841.7,270.8 L845.8,270.7 L849.9,270.6 L854.0,270.3 L858.1,270.5 L862.2,269.6 L866.4,269.4 L870.5,269.2 L874.6,269.2 L878.7,269.0 L882.8,268.7 L886.9,268.6 L891.0,268.5"/>
<path d="M168.1,577.0 L172.2,576.4 L176.3,576.3 L180.4,576.1 L184.5,576.0 L188.6,575.4 L192.7,575.7 L196.8,576.2 L200.9,575.7 L205.0,575.2 L209.2,575.2 L213.3,574.5 L217.4,573.6 L221.5,573.7 L225.6,573.6 L229.7,574.1 L233.8,575.0 L237.9,575.8 L242.0,576.0 L246.1,575.8 L250.2,575.6 L254.3,575.2 L258.4,574.7 L262.6,574.9 L266.7,575.1 L270.8,575.4 L274.9,575.6 L279.0,576.0 L283.1,576.0 L287.2,575.5 L291.3,575.0 L295.4,574.7 L299.5,574.4 L303.6,574.6 L307.7,575.1 L311.8,575.5 L316.0,575.1 L320.1,575.4 L324.2,574.9 L328.3,574.9 L332.4,575.2 L336.5,574.8 L340.6,574.7 L344.7,575.1 L348.8,575.1 L352.9,574.5 L357.0,575.7 L361.1,575.4 L365.2,575.8 L369.3,575.2 L373.5,574.8 L377.6,573.9 L381.7,574.3 L385.8,573.5 L389.9,573.2 L394.0,573.7 L398.1,573.9 L402.2,573.3 L406.3,574.1 L410.4,574.6 L414.5,574.8 L418.6,574.6 L422.7,574.8 L426.9,574.5 L431.0,574.6 L435.1,574.9 L439.2,575.0 L443.3,575.3 L447.4,575.0 L451.5,574.6 L455.6,574.6 L459.7,574.4 L463.8,574.7 L467.9,574.6 L472.0,574.7 L476.1,574.3 L480.2,574.6 L484.4,574.0 L488.5,574.4 L492.6,573.6 L496.7,573.3 L500.8,573.3 L504.9,573.4 L509.0,573.3 L513.1,573.5 L517.2,573.6 L521.3,573.4 L525.4,573.5 L529.5,573.6 L533.6,573.2 L537.8,572.8 L541.9,572.1 L546.0,571.3 L550.1,570.7 L554.2,570.3 L558.3,569.6 L562.4,568.9 L566.5,568.0 L570.6,566.7 L574.7,565.3 L578.8,563.8 L582.9,562.0 L587.0,560.0 L591.2,558.0 L595.3,555.4 L599.4,552.3 L603.5,548.2 L607.6,543.8 L611.7,538.6 L615.8,533.3 L619.9,526.9 L624.0,520.1 L628.1,512.3 L632.2,503.6 L636.3,494.3 L640.4,483.1 L644.5,471.5 L648.7,459.6 L652.8,447.7 L656.9,435.9 L661.0,423.6 L665.1,411.2 L669.2,398.1 L673.3,385.0 L677.4,373.9 L681.5,362.3 L685.6,351.8 L689.7,340.8 L693.8,329.8 L697.9,320.6 L702.1,313.0 L706.2,307.3 L710.3,302.3 L714.4,298.5 L718.5,294.7 L722.6,291.5 L726.7,288.6 L730.8,286.4 L734.9,284.9 L739.0,283.7 L743.1,282.8 L747.2,282.0 L751.3,280.9 L755.5,279.4 L759.6,278.1 L763.7,277.5 L767.8,276.6 L771.9,276.7 L776.0,276.2 L780.1,276.0 L784.2,275.5 L788.3,275.0 L792.4,274.9 L796.5,274.2 L800.6,274.7 L804.7,274.4 L808.9,274.3 L813.0,273.8 L817.1,273.1 L821.2,272.5 L825.3,272.2 L829.4,272.6 L833.5,272.4 L837.6,273.1 L841.7,273.3 L845.8,272.7 L849.9,273.1 L854.0,272.7 L858.1,272.0 L862.2,272.0 L866.4,271.9 L870.5,272.0 L874.6,271.3 L878.7,271.0 L882.8,270.6 L886.9,270.0 L891.0,270.4"/>
<path d="M168.1,570.2 L172.2,571.4 L176.3,572.4 L180.4,572.8 L184.5,572.8 L188.6,573.0 L192.7,572.7 L196.8,572.8 L200.9,573.1 L205.0,573.6 L209.2,573.8 L213.3,573.6 L217.4,573.9 L221.5,574.1 L225.6,574.2 L229.7,574.1 L233.8,574.2 L237.9,574.2 L242.0,573.9 L246.1,574.4 L250.2,574.7 L254.3,574.7 L258.4,574.6 L262.6,574.7 L266.7,574.1 L270.8,574.0 L274.9,574.6 L279.0,574.5 L283.1,574.4 L287.2,575.4 L291.3,575.2 L295.4,575.0 L299.5,575.3 L303.6,575.6 L307.7,575.4 L311.8,575.5 L316.0,575.2 L320.1,575.3 L324.2,575.5 L328.3,575.2 L332.4,575.1 L336.5,575.8 L340.6,575.5 L344.7,575.0 L348.8,575.0 L352.9,575.3 L357.0,574.5 L361.1,574.2 L365.2,574.3 L369.3,574.1 L373.5,573.9 L377.6,573.9 L381.7,573.9 L385.8,574.1 L389.9,574.1 L394.0,573.8 L398.1,573.9 L402.2,574.3 L406.3,574.2 L410.4,574.1 L414.5,574.4 L418.6,574.6 L422.7,574.3 L426.9,574.2 L431.0,573.9 L435.1,573.8 L439.2,573.6 L443.3,573.5 L447.4,573.4 L451.5,573.8 L455.6,573.7 L459.7,573.8 L463.8,573.8 L467.9,573.9 L472.0,574.3 L476.1,573.8 L480.2,573.6 L484.4,573.7 L488.5,573.4 L492.6,573.0 L496.7,573.6 L500.8,573.8 L504.9,573.8 L509.0,574.0 L513.1,573.9 L517.2,573.9 L521.3,573.6 L525.4,573.5 L529.5,573.3 L533.6,573.0 L537.8,572.5 L541.9,572.1 L546.0,571.6 L550.1,570.9 L554.2,569.9 L558.3,569.2 L562.4,568.7 L566.5,567.8 L570.6,567.0 L574.7,565.7 L578.8,564.1 L582.9,562.4 L587.0,560.5 L591.2,558.3 L595.3,555.8 L599.4,552.6 L603.5,548.7 L607.6,544.2 L611.7,539.2 L615.8,534.5 L619.9,528.5 L624.0,521.9 L628.1,514.6 L632.2,505.5 L636.3,495.9 L640.4,485.3 L644.5,473.6 L648.7,462.3 L652.8,450.8 L656.9,438.6 L661.0,426.8 L665.1,414.4 L669.2,401.9 L673.3,389.6 L677.4,377.4 L681.5,366.1 L685.6,354.8 L689.7,343.6 L693.8,333.2 L697.9,322.9 L702.1,314.6 L706.2,308.6 L710.3,302.8 L714.4,298.9 L718.5,295.2 L722.6,292.1 L726.7,288.9 L730.8,286.5 L734.9,284.8 L739.0,282.3 L743.1,281.1 L747.2,280.1 L751.3,279.5 L755.5,279.2 L759.6,278.2 L763.7,277.8 L767.8,276.8 L771.9,276.0 L776.0,275.4 L780.1,275.1 L784.2,274.8 L788.3,274.9 L792.4,275.5 L796.5,275.9 L800.6,276.1 L804.7,275.6 L808.9,275.4 L813.0,275.8 L817.1,277.6 L821.2,278.6 L825.3,279.3 L829.4,279.2 L833.5,279.8 L837.6,279.4 L841.7,279.3 L845.8,279.1 L849.9,278.6 L854.0,279.5 L858.1,279.7 L862.2,280.1 L866.4,279.6 L870.5,278.8 L874.6,278.7 L878.7,278.2 L882.8,277.3 L886.9,277.2 L891.0,276.6"/>
<path d="M168.1,573.7 L172.2,572.9 L176.3,572.8 L180.4,572.8 L184.5,573.0 L188.6,573.3 L192.7,574.5 L196.8,574.7 L200.9,574.7 L205.0,574.7 L209.2,574.4 L213.3,573.6 L217.4,573.4 L221.5,573.8 L225.6,573.6 L229.7,573.9 L233.8,574.2 L237.9,574.4 L242.0,574.6 L246.1,574.7 L250.2,574.3 L254.3,574.2 L258.4,574.3 L262.6,575.0 L266.7,574.9 L270.8,574.5 L274.9,574.5 L279.0,574.8 L283.1,574.0 L287.2,574.4 L291.3,574.9 L295.4,574.8 L299.5,574.0 L303.6,574.2 L307.7,574.1 L311.8,574.1 L316.0,574.2 L320.1,574.1 L324.2,574.2 L328.3,574.0 L332.4,574.5 L336.5,574.2 L340.6,574.7 L344.7,574.7 L348.8,574.4 L352.9,573.9 L357.0,574.1 L361.1,574.2 L365.2,574.0 L369.3,574.1 L373.5,573.8 L377.6,573.9 L381.7,573.4 L385.8,573.9 L389.9,574.0 L394.0,574.3 L398.1,574.0 L402.2,574.3 L406.3,573.2 L410.4,573.3 L414.5,572.9 L418.6,573.7 L422.7,574.0 L426.9,574.2 L431.0,574.4 L435.1,574.3 L439.2,573.9 L443.3,573.4 L447.4,573.9 L451.5,573.5 L455.6,573.6 L459.7,573.2 L463.8,573.5 L467.9,573.5 L472.0,573.4 L476.1,573.6 L480.2,573.7 L484.4,573.9 L488.5,573.5 L492.6,573.6 L496.7,573.8 L500.8,574.0 L504.9,573.5 L509.0,573.7 L513.1,573.6 L517.2,573.6 L521.3,573.6 L525.4,573.4 L529.5,573.2 L533.6,572.8 L537.8,572.7 L541.9,572.3 L546.0,571.9 L550.1,571.3 L554.2,570.6 L558.3,569.8 L562.4,569.2 L566.5,568.6 L570.6,567.5 L574.7,566.2 L578.8,564.5 L582.9,562.8 L587.0,561.0 L591.2,559.1 L595.3,556.9 L599.4,553.9 L603.5,550.7 L607.6,546.5 L611.7,541.9 L615.8,536.5 L619.9,530.5 L624.0,523.5 L628.1,515.8 L632.2,506.9 L636.3,497.3 L640.4,486.7 L644.5,475.2 L648.7,464.1 L652.8,452.5 L656.9,441.4 L661.0,429.5 L665.1,416.9 L669.2,404.1 L673.3,390.6 L677.4,378.5 L681.5,367.3 L685.6,356.4 L689.7,345.9 L693.8,334.9 L697.9,325.1 L702.1,317.2 L706.2,310.8 L710.3,305.3 L714.4,300.9 L718.5,296.5 L722.6,292.0 L726.7,289.4 L730.8,286.5 L734.9,284.6 L739.0,283.7 L743.1,282.7 L747.2,281.5 L751.3,279.9 L755.5,278.7 L759.6,277.2 L763.7,277.1 L767.8,277.7 L771.9,277.4 L776.0,277.5 L780.1,277.4 L784.2,276.6 L788.3,276.3 L792.4,275.6 L796.5,275.3 L800.6,276.4 L804.7,277.3 L808.9,278.8 L813.0,280.0 L817.1,280.3 L821.2,281.2 L825.3,281.4 L829.4,281.8 L833.5,282.6 L837.6,282.9 L841.7,282.7 L845.8,282.7 L849.9,282.8 L854.0,282.8 L858.1,283.8 L862.2,284.2 L866.4,284.4 L870.5,285.2 L874.6,285.1 L878.7,284.9 L882.8,284.8 L886.9,284.5 L891.0,284.2"/>
<path d="M168.1,568.2 L172.2,569.6 L176.3,570.5 L180.4,571.1 L184.5,571.7 L188.6,572.3 L192.7,572.5 L196.8,573.2 L200.9,573.8 L205.0,574.5 L209.2,574.6 L213.3,574.9 L217.4,574.5 L221.5,574.1 L225.6,573.6 L229.7,573.6 L233.8,573.7 L237.9,573.2 L242.0,573.6 L246.1,573.9 L250.2,574.1 L254.3,574.4 L258.4,575.2 L262.6,574.8 L266.7,574.4 L270.8,573.9 L274.9,573.6 L279.0,573.3 L283.1,573.2 L287.2,573.2 L291.3,573.5 L295.4,573.6 L299.5,574.2 L303.6,574.3 L307.7,574.2 L311.8,574.2 L316.0,573.6 L320.1,573.4 L324.2,573.0 L328.3,573.3 L332.4,573.0 L336.5,573.1 L340.6,572.5 L344.7,573.1 L348.8,572.6 L352.9,572.7 L357.0,572.1 L361.1,572.3 L365.2,572.5 L369.3,572.5 L373.5,572.0 L377.6,572.2 L381.7,572.2 L385.8,572.0 L389.9,572.5 L394.0,572.6 L398.1,573.1 L402.2,573.0 L406.3,573.0 L410.4,573.4 L414.5,573.4 L418.6,573.4 L422.7,573.5 L426.9,573.8 L431.0,573.7 L435.1,573.8 L439.2,573.5 L443.3,573.2 L447.4,572.7 L451.5,571.9 L455.6,571.9 L459.7,572.2 L463.8,572.3 L467.9,572.7 L472.0,573.1 L476.1,573.0 L480.2,573.2 L484.4,573.1 L488.5,572.5 L492.6,572.9 L496.7,572.9 L500.8,572.7 L504.9,572.6 L509.0,572.9 L513.1,572.9 L517.2,573.0 L521.3,573.2 L525.4,573.0 L529.5,572.9 L533.6,572.9 L537.8,573.0 L541.9,573.1 L546.0,573.2 L550.1,572.8 L554.2,572.7 L558.3,572.4 L562.4,571.9 L566.5,571.7 L570.6,571.1 L574.7,570.8 L578.8,570.1 L582.9,569.3 L587.0,568.4 L591.2,567.3 L595.3,566.0 L599.4,564.3 L603.5,563.0 L607.6,561.0 L611.7,559.4 L615.8,557.7 L619.9,555.3 L624.0,552.7 L628.1,549.2 L632.2,544.6 L636.3,540.2 L640.4,535.3 L644.5,529.7 L648.7,523.7 L652.8,516.6 L656.9,509.0 L661.0,501.4 L665.1,494.1 L669.2,485.3 L673.3,476.8 L677.4,467.0 L681.5,456.9 L685.6,447.6 L689.7,437.5 L693.8,427.9 L697.9,417.9 L702.1,407.6 L706.2,397.5 L710.3,387.6 L714.4,377.4 L718.5,366.9 L722.6,356.5 L726.7,346.3 L730.8,336.1 L734.9,325.4 L739.0,314.7 L743.1,304.9 L747.2,295.0 L751.3,286.7 L755.5,278.3 L759.6,270.5 L763.7,264.8 L767.8,259.0 L771.9,256.0 L776.0,252.6 L780.1,249.6 L784.2,246.2 L788.3,241.1 L792.4,237.7 L796.5,234.3 L800.6,232.0 L804.7,229.8 L808.9,228.2 L813.0,225.9 L817.1,223.9 L821.2,222.5 L825.3,220.3 L829.4,219.0 L833.5,217.0 L837.6,215.6 L841.7,213.6 L845.8,212.9 L849.9,212.3 L854.0,210.9 L858.1,210.7 L862.2,209.7 L866.4,208.8 L870.5,208.1 L874.6,207.0 L878.7,205.3 L882.8,203.7 L886.9,202.8 L891.0,201.8"/>
<path d="M168.1,578.2 L172.2,576.9 L176.3,576.3 L180.4,575.5 L184.5,574.7 L188.6,575.0 L192.7,574.6 L196.8,573.9 L200.9,573.8 L205.0,573.5 L209.2,573.3 L213.3,573.5 L217.4,573.5 L221.5,573.7 L225.6,573.6 L229.7,574.2 L233.8,574.4 L237.9,574.0 L242.0,573.6 L246.1,573.5 L250.2,573.3 L254.3,572.9 L258.4,573.5 L262.6,574.1 L266.7,574.4 L270.8,574.7 L274.9,574.3 L279.0,574.2 L283.1,574.7 L287.2,574.5 L291.3,574.4 L295.4,574.5 L299.5,574.7 L303.6,574.2 L307.7,573.7 L311.8,572.8 L316.0,573.3 L320.1,573.1 L324.2,573.3 L328.3,573.3 L332.4,573.6 L336.5,573.4 L340.6,573.6 L344.7,573.0 L348.8,573.2 L352.9,572.9 L357.0,572.5 L361.1,572.4 L365.2,572.9 L369.3,572.6 L373.5,573.2 L377.6,573.5 L381.7,573.0 L385.8,573.4 L389.9,573.5 L394.0,573.1 L398.1,573.2 L402.2,573.5 L406.3,573.4 L410.4,573.2 L414.5,573.2 L418.6,573.2 L422.7,572.6 L426.9,572.2 L431.0,572.2 L435.1,571.8 L439.2,571.6 L443.3,571.8 L447.4,571.5 L451.5,571.5 L455.6,572.3 L459.7,572.1 L463.8,572.9 L467.9,573.4 L472.0,572.9 L476.1,572.8 L480.2,573.1 L484.4,572.8 L488.5,572.1 L492.6,572.6 L496.7,572.3 L500.8,572.7 L504.9,572.5 L509.0,572.7 L513.1,572.9 L517.2,572.9 L521.3,572.9 L525.4,573.0 L529.5,573.1 L533.6,573.4 L537.8,573.4 L541.9,573.3 L546.0,573.1 L550.1,572.8 L554.2,573.0 L558.3,572.8 L562.4,572.7 L566.5,572.2 L570.6,571.7 L574.7,571.2 L578.8,570.5 L582.9,569.8 L587.0,568.7 L591.2,567.8 L595.3,566.7 L599.4,565.0 L603.5,563.4 L607.6,561.4 L611.7,559.3 L615.8,557.3 L619.9,554.8 L624.0,551.7 L628.1,548.5 L632.2,545.3 L636.3,541.8 L640.4,537.7 L644.5,532.7 L648.7,526.7 L652.8,519.6 L656.9,512.3 L661.0,503.9 L665.1,495.0 L669.2,485.6 L673.3,476.6 L677.4,467.6 L681.5,458.3 L685.6,449.1 L689.7,439.2 L693.8,429.4 L697.9,420.4 L702.1,410.5 L706.2,400.5 L710.3,389.8 L714.4,378.3 L718.5,367.8 L722.6,357.4 L726.7,347.2 L730.8,337.4 L734.9,326.8 L739.0,316.5 L743.1,306.4 L747.2,296.6 L751.3,287.9 L755.5,279.6 L759.6,272.0 L763.7,265.5 L767.8,260.4 L771.9,256.0 L776.0,253.7 L780.1,250.2 L784.2,245.7 L788.3,241.5 L792.4,237.3 L796.5,235.1 L800.6,232.3 L804.7,229.9 L808.9,227.0 L813.0,224.5 L817.1,222.8 L821.2,220.5 L825.3,219.2 L829.4,217.5 L833.5,215.9 L837.6,214.8 L841.7,213.9 L845.8,213.1 L849.9,212.1 L854.0,211.2 L858.1,210.2 L862.2,209.0 L866.4,208.5 L870.5,207.8 L874.6,206.4 L878.7,205.1 L882.8,204.2 L886.9,203.3 L891.0,203.2"/>
<path d="M168.1,571.0 L172.2,571.5 L176.3,572.6 L180.4,572.6 L184.5,572.4 L188.6,572.9 L192.7,573.3 L196.8,573.6 L200.9,574.1 L205.0,573.8 L209.2,573.9 L213.3,574.1 L217.4,574.9 L221.5,574.9 L225.6,575.4 L229.7,575.5 L233.8,575.5 L237.9,574.9 L242.0,575.4 L246.1,575.1 L250.2,575.3 L254.3,574.8 L258.4,574.6 L262.6,574.7 L266.7,574.6 L270.8,574.4 L274.9,575.1 L279.0,575.7 L283.1,575.5 L287.2,575.5 L291.3,575.1 L295.4,574.6 L299.5,574.3 L303.6,574.6 L307.7,574.7 L311.8,575.1 L316.0,575.3 L320.1,575.2 L324.2,575.2 L328.3,575.2 L332.4,575.1 L336.5,575.7 L340.6,576.4 L344.7,576.3 L348.8,576.5 L352.9,576.1 L357.0,575.2 L361.1,573.9 L365.2,574.0 L369.3,573.6 L373.5,573.7 L377.6,574.0 L381.7,573.7 L385.8,573.8 L389.9,573.7 L394.0,573.7 L398.1,574.1 L402.2,574.7 L406.3,574.0 L410.4,574.3 L414.5,574.9 L418.6,574.7 L422.7,574.6 L426.9,575.3 L431.0,575.5 L435.1,574.8 L439.2,574.7 L443.3,574.9 L447.4,574.9 L451.5,574.6 L455.6,574.5 L459.7,574.2 L463.8,574.1 L467.9,573.9 L472.0,574.6 L476.1,574.5 L480.2,574.5 L484.4,574.1 L488.5,573.5 L492.6,573.1 L496.7,573.3 L500.8,573.7 L504.9,573.4 L509.0,574.1 L513.1,574.1 L517.2,573.7 L521.3,573.7 L525.4,573.7 L529.5,573.5 L533.6,573.3 L537.8,573.4 L541.9,573.4 L546.0,573.4 L550.1,573.3 L554.2,573.1 L558.3,572.7 L562.4,572.2 L566.5,571.9 L570.6,571.7 L574.7,571.2 L578.8,570.7 L582.9,570.0 L587.0,568.9 L591.2,568.1 L595.3,567.1 L599.4,565.4 L603.5,564.3 L607.6,562.5 L611.7,560.4 L615.8,558.7 L619.9,556.1 L624.0,553.1 L628.1,549.9 L632.2,546.4 L636.3,542.3 L640.4,538.2 L644.5,532.8 L648.7,526.6 L652.8,520.4 L656.9,513.2 L661.0,506.0 L665.1,497.9 L669.2,489.2 L673.3,480.1 L677.4,470.3 L681.5,461.2 L685.6,451.9 L689.7,442.4 L693.8,432.9 L697.9,423.0 L702.1,411.9 L706.2,402.2 L710.3,391.6 L714.4,381.6 L718.5,371.6 L722.6,361.0 L726.7,350.8 L730.8,339.2 L734.9,328.9 L739.0,318.3 L743.1,308.4 L747.2,299.3 L751.3,289.3 L755.5,281.6 L759.6,273.5 L763.7,266.3 L767.8,261.8 L771.9,257.1 L776.0,253.8 L780.1,251.3 L784.2,246.7 L788.3,242.5 L792.4,239.1 L796.5,235.9 L800.6,233.5 L804.7,231.8 L808.9,229.0 L813.0,227.1 L817.1,225.6 L821.2,222.3 L825.3,221.1 L829.4,219.1 L833.5,217.5 L837.6,216.4 L841.7,215.1 L845.8,214.4 L849.9,213.1 L854.0,212.3 L858.1,211.5 L862.2,210.7 L866.4,210.6 L870.5,209.6 L874.6,208.5 L878.7,207.7 L882.8,206.6 L886.9,206.5 L891.0,206.0"/>
<path d="M168.1,575.4 L172.2,574.9 L176.3,574.2 L180.4,574.6 L184.5,574.5 L188.6,573.5 L192.7,573.6 L196.8,573.8 L200.9,572.7 L205.0,572.7 L209.2,573.7 L213.3,573.9 L217.4,574.0 L221.5,574.6 L225.6,574.9 L229.7,575.1 L233.8,574.7 L237.9,574.7 L242.0,575.2 L246.1,575.1 L250.2,574.3 L254.3,574.4 L258.4,574.5 L262.6,574.6 L266.7,574.4 L270.8,575.2 L274.9,575.5 L279.0,574.9 L283.1,574.4 L287.2,574.0 L291.3,573.4 L295.4,573.1 L299.5,573.4 L303.6,574.0 L307.7,574.0 L311.8,574.2 L316.0,574.2 L320.1,574.2 L324.2,574.1 L328.3,574.2 L332.4,574.8 L336.5,574.9 L340.6,575.0 L344.7,575.0 L348.8,574.4 L352.9,574.2 L357.0,573.8 L361.1,573.5 L365.2,573.4 L369.3,573.6 L373.5,573.2 L377.6,573.3 L381.7,572.9 L385.8,572.9 L389.9,573.0 L394.0,573.4 L398.1,573.5 L402.2,573.8 L406.3,573.0 L410.4,573.5 L414.5,573.5 L418.6,573.4 L422.7,573.7 L426.9,574.3 L431.0,573.7 L435.1,573.4 L439.2,573.1 L443.3,573.0 L447.4,573.2 L451.5,573.8 L455.6,573.5 L459.7,573.5 L463.8,573.1 L467.9,572.8 L472.0,572.8 L476.1,573.3 L480.2,573.5 L484.4,573.7 L488.5,573.7 L492.6,573.3 L496.7,573.1 L500.8,572.9 L504.9,572.9 L509.0,573.3 L513.1,573.8 L517.2,573.7 L521.3,573.6 L525.4,573.6 L529.5,573.4 L533.6,573.2 L537.8,573.4 L541.9,573.4 L546.0,573.3 L550.1,573.4 L554.2,573.3 L558.3,572.9 L562.4,572.6 L566.5,572.2 L570.6,571.6 L574.7,571.2 L578.8,570.8 L582.9,570.2 L587.0,569.6 L591.2,568.6 L595.3,567.6 L599.4,565.7 L603.5,564.1 L607.6,562.8 L611.7,560.8 L615.8,558.9 L619.9,556.8 L624.0,553.9 L628.1,550.8 L632.2,548.0 L636.3,543.9 L640.4,539.3 L644.5,534.2 L648.7,528.4 L652.8,522.1 L656.9,515.2 L661.0,507.7 L665.1,499.0 L669.2,490.7 L673.3,482.2 L677.4,474.0 L681.5,465.7 L685.6,456.2 L689.7,447.0 L693.8,436.8 L697.9,427.2 L702.1,417.9 L706.2,408.2 L710.3,398.1 L714.4,387.7 L718.5,377.6 L722.6,367.7 L726.7,357.8 L730.8,347.1 L734.9,337.3 L739.0,326.3 L743.1,316.2 L747.2,306.5 L751.3,296.3 L755.5,287.2 L759.6,279.3 L763.7,272.7 L767.8,267.2 L771.9,262.7 L776.0,259.6 L780.1,256.8 L784.2,253.4 L788.3,249.0 L792.4,245.1 L796.5,241.7 L800.6,238.9 L804.7,236.8 L808.9,233.7 L813.0,231.6 L817.1,229.7 L821.2,227.7 L825.3,225.9 L829.4,224.1 L833.5,222.2 L837.6,221.4 L841.7,220.2 L845.8,219.3 L849.9,219.0 L854.0,217.4 L858.1,217.3 L862.2,216.2 L866.4,214.4 L870.5,214.0 L874.6,213.1 L878.7,212.1 L882.8,211.8 L886.9,210.6 L891.0,210.3"/>
<path d="M168.1,565.0 L172.2,566.8 L176.3,568.2 L180.4,569.4 L184.5,570.3 L188.6,571.0 L192.7,571.6 L196.8,572.1 L200.9,572.5 L205.0,572.8 L209.2,573.0 L213.3,573.2 L217.4,573.4 L221.5,573.5 L225.6,573.6 L229.7,573.7 L233.8,573.8 L237.9,573.7 L242.0,573.7 L246.1,573.6 L250.2,573.6 L254.3,573.5 L258.4,573.4 L262.6,573.4 L266.7,573.3 L270.8,573.2 L274.9,573.1 L279.0,573.1 L283.1,573.1"/>
<path d="M168.1,565.2 L172.2,567.0 L176.3,568.5 L180.4,569.7 L184.5,570.7 L188.6,571.4 L192.7,572.0 L196.8,572.5 L200.9,572.9 L205.0,573.2 L209.2,573.4 L213.3,573.6 L217.4,573.8 L221.5,573.9 L225.6,574.0 L229.7,574.1 L233.8,574.1 L237.9,574.3 L242.0,574.4 L246.1,574.5 L250.2,574.6 L254.3,574.7 L258.4,574.8 L262.6,574.9 L266.7,575.0 L270.8,575.1 L274.9,575.1 L279.0,575.1 L283.1,575.2"/>
<path d="M168.1,573.7 L172.2,573.8 L176.3,573.9 L180.4,574.0 L184.5,574.0 L188.6,574.1 L192.7,574.1 L196.8,574.1 L200.9,574.2 L205.0,574.2 L209.2,574.2 L213.3,574.2 L217.4,574.2 L221.5,574.2 L225.6,574.2 L229.7,574.2 L233.8,574.2 L237.9,574.2 L242.0,574.3 L246.1,574.3 L250.2,574.3 L254.3,574.3 L258.4,574.3 L262.6,574.3 L266.7,574.4 L270.8,574.4 L274.9,574.4 L279.0,574.4 L283.1,574.4"/>
<path d="M168.1,576.8 L172.2,576.3 L176.3,575.9 L180.4,575.5 L184.5,575.2 L188.6,575.0 L192.7,574.9 L196.8,574.7 L200.9,574.6 L205.0,574.6 L209.2,574.5 L213.3,574.4 L217.4,574.4 L221.5,574.4 L225.6,574.4 L229.7,574.3 L233.8,574.3 L237.9,574.3 L242.0,574.4 L246.1,574.4 L250.2,574.4 L254.3,574.5 L258.4,574.5 L262.6,574.5 L266.7,574.6 L270.8,574.6 L274.9,574.6 L279.0,574.6 L283.1,574.6"/>
<path d="M168.1,569.8 L172.2,570.6 L176.3,571.3 L180.4,571.8 L184.5,572.2 L188.6,572.6 L192.7,572.9 L196.8,573.1 L200.9,573.3 L205.0,573.4 L209.2,573.5 L213.3,573.6 L217.4,573.7 L221.5,573.8 L225.6,573.8 L229.7,573.9 L233.8,573.9 L237.9,573.8 L242.0,573.7 L246.1,573.7 L250.2,573.6 L254.3,573.5 L258.4,573.4 L262.6,573.3 L266.7,573.3 L270.8,573.2 L274.9,573.1 L279.0,573.1 L283.1,573.1"/>
<path d="M168.1,570.8 L172.2,571.7 L176.3,572.4 L180.4,572.8 L184.5,573.2 L188.6,573.4 L192.7,573.6 L196.8,573.7 L200.9,573.8 L205.0,573.9 L209.2,573.9 L213.3,574.0 L217.4,574.0 L221.5,574.0 L225.6,574.0 L229.7,574.0 L233.8,574.0 L237.9,573.9 L242.0,573.9 L246.1,573.8 L250.2,573.7 L254.3,573.6 L258.4,573.5 L262.6,573.5 L266.7,573.4 L270.8,573.3 L274.9,573.2 L279.0,573.2 L283.1,573.2"/>
<path d="M168.1,568.8 L172.2,569.9 L176.3,570.8 L180.4,571.6 L184.5,572.2 L188.6,572.6 L192.7,573.0 L196.8,573.3 L200.9,573.5 L205.0,573.7 L209.2,573.8 L213.3,573.9 L217.4,574.0 L221.5,574.1 L225.6,574.2 L229.7,574.2 L233.8,574.3 L237.9,574.4 L242.0,574.5 L246.1,574.6 L250.2,574.7 L254.3,574.9 L258.4,575.0 L262.6,575.1 L266.7,575.2 L270.8,575.3 L274.9,575.4 L279.0,575.4 L283.1,575.4"/>
<path d="M168.1,573.7 L172.2,573.8 L176.3,573.9 L180.4,573.9 L184.5,574.0 L188.6,574.0 L192.7,574.0 L196.8,574.1 L200.9,574.1 L205.0,574.1 L209.2,574.1 L213.3,574.1 L217.4,574.1 L221.5,574.1 L225.6,574.1 L229.7,574.2 L233.8,574.2 L237.9,574.1 L242.0,574.1 L246.1,574.1 L250.2,574.1 L254.3,574.1 L258.4,574.0 L262.6,574.0 L266.7,574.0 L270.8,574.0 L274.9,574.0 L279.0,574.0 L283.1,574.0"/>
<path d="M168.1,570.8 L172.2,571.6 L176.3,572.2 L180.4,572.6 L184.5,573.0 L188.6,573.3 L192.7,573.5 L196.8,573.7 L200.9,573.8 L205.0,573.9 L209.2,574.0 L213.3,574.1 L217.4,574.1 L221.5,574.2 L225.6,574.2 L229.7,574.2 L233.8,574.3 L237.9,574.4 L242.0,574.5 L246.1,574.5 L250.2,574.6 L254.3,574.7 L258.4,574.8 L262.6,574.9 L266.7,574.9 L270.8,575.0 L274.9,575.1 L279.0,575.1 L283.1,575.1"/>
<path d="M168.1,575.4 L172.2,575.1 L176.3,574.9 L180.4,574.7 L184.5,574.6 L188.6,574.5 L192.7,574.4 L196.8,574.3 L200.9,574.3 L205.0,574.2 L209.2,574.2 L213.3,574.2 L217.4,574.2 L221.5,574.1 L225.6,574.1 L229.7,574.1 L233.8,574.1 L237.9,574.0 L242.0,574.0 L246.1,573.9 L250.2,573.8 L254.3,573.8 L258.4,573.7 L262.6,573.7 L266.7,573.6 L270.8,573.5 L274.9,573.5 L279.0,573.5 L283.1,573.5"/>
<path d="M168.1,574.2 L172.2,574.2 L176.3,574.2 L180.4,574.2 L184.5,574.2 L188.6,574.2 L192.7,574.2 L196.8,574.2 L200.9,574.2 L205.0,574.2 L209.2,574.2 L213.3,574.2 L217.4,574.2 L221.5,574.2 L225.6,574.2 L229.7,574.2 L233.8,574.2 L237.9,574.3 L242.0,574.3 L246.1,574.3 L250.2,574.3 L254.3,574.3 L258.4,574.3 L262.6,574.4 L266.7,574.4 L270.8,574.4 L274.9,574.4 L279.0,574.4 L283.1,574.4"/>
<path d="M168.1,568.0 L172.2,569.7 L176.3,571.0 L180.4,571.9 L184.5,572.6 L188.6,573.0 L192.7,573.4 L196.8,573.6 L200.9,573.8 L205.0,573.9 L209.2,574.0 L213.3,574.1 L217.4,574.2 L221.5,574.2 L225.6,574.2 L229.7,574.2 L233.8,574.3 L237.9,574.3 L242.0,574.4 L246.1,574.5 L250.2,574.5 L254.3,574.6 L258.4,574.6 L262.6,574.7 L266.7,574.7 L270.8,574.8 L274.9,574.9 L279.0,574.9 L283.1,574.9"/>
<path d="M168.1,572.8 L172.2,573.1 L176.3,573.3 L180.4,573.5 L184.5,573.7 L188.6,573.8 L192.7,573.9 L196.8,574.0 L200.9,574.0 L205.0,574.1 L209.2,574.1 L213.3,574.2 L217.4,574.2 L221.5,574.2 L225.6,574.2 L229.7,574.2 L233.8,574.3 L237.9,574.3 L242.0,574.4 L246.1,574.5 L250.2,574.5 L254.3,574.6 L258.4,574.7 L262.6,574.7 L266.7,574.8 L270.8,574.9 L274.9,574.9 L279.0,574.9 L283.1,574.9"/>
<path d="M168.1,569.0 L172.2,570.2 L176.3,571.2 L180.4,571.9 L184.5,572.4 L188.6,572.8 L192.7,573.2 L196.8,573.4 L200.9,573.6 L205.0,573.7 L209.2,573.8 L213.3,573.9 L217.4,574.0 L221.5,574.0 L225.6,574.0 L229.7,574.1 L233.8,574.1 L237.9,574.1 L242.0,574.0 L246.1,574.0 L250.2,574.0 L254.3,574.0 L258.4,573.9 L262.6,573.9 L266.7,573.9 L270.8,573.8 L274.9,573.8 L279.0,573.8 L283.1,573.8"/>
</g>
<g stroke="#999" fill="none">
<path d="M167.5,36 V590.3" stroke-width="2.3"/>
<path d="M166.4,589.3 H891.5" stroke-width="1.8"/>
</g>
<g stroke-width="1" fill="none">
<path d="M168.1,589.5 v2.6" stroke="#555"/>
<path d="M184.5,589.5 v2.6" stroke="#555"/>
<path d="M200.9,589.5 v2.6" stroke="#555"/>
<path d="M217.4,589.5 v2.6" stroke="#555"/>
<path d="M233.8,589.5 v5" stroke="#8c8c8c"/>
<path d="M250.2,589.5 v2.6" stroke="#555"/>
<path d="M266.7,589.5 v2.6" stroke="#555"/>
<path d="M283.1,589.5 v2.6" stroke="#555"/>
<path d="M299.5,589.5 v2.6" stroke="#555"/>
<path d="M316.0,589.5 v5" stroke="#8c8c8c"/>
<path d="M332.4,589.5 v2.6" stroke="#555"/>
<path d="M348.8,589.5 v2.6" stroke="#555"/>
<path d="M365.2,589.5 v2.6" stroke="#555"/>
<path d="M381.7,589.5 v2.6" stroke="#555"/>
<path d="M398.1,589.5 v5" stroke="#8c8c8c"/>
<path d="M414.5,589.5 v2.6" stroke="#555"/>
<path d="M431.0,589.5 v2.6" stroke="#555"/>
<path d="M447.4,589.5 v2.6" stroke="#555"/>
<path d="M463.8,589.5 v2.6" stroke="#555"/>
<path d="M480.2,589.5 v5" stroke="#8c8c8c"/>
<path d="M496.7,589.5 v2.6" stroke="#555"/>
<path d="M513.1,589.5 v2.6" stroke="#555"/>
<path d="M529.5,589.5 v2.6" stroke="#555"/>
<path d="M546.0,589.5 v2.6" stroke="#555"/>
<path d="M562.4,589.5 v5" stroke="#8c8c8c"/>
<path d="M578.8,589.5 v2.6" stroke="#555"/>
<path d="M595.3,589.5 v2.6" stroke="#555"/>
<path d="M611.7,589.5 v2.6" stroke="#555"/>
<path d="M628.1,589.5 v2.6" stroke="#555"/>
<path d="M644.5,589.5 v5" stroke="#8c8c8c"/>
<path d="M661.0,589.5 v2.6" stroke="#555"/>
<path d="M677.4,589.5 v2.6" stroke="#555"/>
<path d="M693.8,589.5 v2.6" stroke="#555"/>
<path d="M710.3,589.5 v2.6" stroke="#555"/>
<path d="M726.7,589.5 v5" stroke="#8c8c8c"/>
<path d="M743.1,589.5 v2.6" stroke="#555"/>
<path d="M759.6,589.5 v2.6" stroke="#555"/>
<path d="M776.0,589.5 v2.6" stroke="#555"/>
<path d="M792.4,589.5 v2.6" stroke="#555"/>
<path d="M808.9,589.5 v5" stroke="#8c8c8c"/>
<path d="M825.3,589.5 v2.6" stroke="#555"/>
<path d="M841.7,589.5 v2.6" stroke="#555"/>
<path d="M858.1,589.5 v2.6" stroke="#555"/>
<path d="M874.6,589.5 v2.6" stroke="#555"/>
<path d="M891.0,589.5 v5" stroke="#8c8c8c"/>
<path d="M162.6,574.2 h5" stroke="#a8a8a8"/>
<path d="M165.0,559.1 h2.8" stroke="#444"/>
<path d="M165.0,544.0 h2.8" stroke="#444"/>
<path d="M165.0,528.9 h2.8" stroke="#444"/>
<path d="M165.0,513.8 h2.8" stroke="#444"/>
<path d="M162.6,498.7 h5" stroke="#a8a8a8"/>
<path d="M165.0,483.6 h2.8" stroke="#444"/>
<path d="M165.0,468.5 h2.8" stroke="#444"/>
<path d="M165.0,453.4 h2.8" stroke="#444"/>
<path d="M165.0,438.3 h2.8" stroke="#444"/>
<path d="M162.6,423.2 h5" stroke="#a8a8a8"/>
<path d="M165.0,408.0 h2.8" stroke="#444"/>
<path d="M165.0,392.9 h2.8" stroke="#444"/>
<path d="M165.0,377.8 h2.8" stroke="#444"/>
<path d="M165.0,362.7 h2.8" stroke="#444"/>
<path d="M162.6,347.6 h5" stroke="#a8a8a8"/>
<path d="M165.0,332.5 h2.8" stroke="#444"/>
<path d="M165.0,317.4 h2.8" stroke="#444"/>
<path d="M165.0,302.3 h2.8" stroke="#444"/>
<path d="M165.0,287.2 h2.8" stroke="#444"/>
<path d="M162.6,272.1 h5" stroke="#a8a8a8"/>
<path d="M165.0,257.0 h2.8" stroke="#444"/>
<path d="M165.0,241.9 h2.8" stroke="#444"/>
<path d="M165.0,226.8 h2.8" stroke="#444"/>
<path d="M165.0,211.7 h2.8" stroke="#444"/>
<path d="M162.6,196.6 h5" stroke="#a8a8a8"/>
<path d="M165.0,181.5 h2.8" stroke="#444"/>
<path d="M165.0,166.4 h2.8" stroke="#444"/>
<path d="M165.0,151.3 h2.8" stroke="#444"/>
<path d="M165.0,136.2 h2.8" stroke="#444"/>
<path d="M162.6,121.1 h5" stroke="#a8a8a8"/>
<path d="M165.0,105.9 h2.8" stroke="#444"/>
<path d="M165.0,90.8 h2.8" stroke="#444"/>
<path d="M165.0,75.7 h2.8" stroke="#444"/>
<path d="M165.0,60.6 h2.8" stroke="#444"/>
<path d="M162.6,45.5 h5" stroke="#a8a8a8"/>
</g>
<g font-family="Liberation Sans, sans-serif" font-size="10.3" fill="#2b2b2b" stroke="#2b2b2b" stroke-width="0.25">
<text x="160.4" y="578.0" text-anchor="end">0</text>
<text x="160.4" y="502.5" text-anchor="end">0.25</text>
<text x="160.4" y="427.0" text-anchor="end">0.5</text>
<text x="160.4" y="351.4" text-anchor="end">0.75</text>
<text x="160.4" y="275.9" text-anchor="end">1</text>
<text x="160.4" y="200.4" text-anchor="end">1.25</text>
<text x="160.4" y="124.9" text-anchor="end">1.5</text>
<text x="160.4" y="49.3" text-anchor="end">1.75</text>
<text x="233.2" y="603.2" text-anchor="middle">5</text>
<text x="315.4" y="603.2" text-anchor="middle">10</text>
<text x="397.5" y="603.2" text-anchor="middle">15</text>
<text x="479.6" y="603.2" text-anchor="middle">20</text>
<text x="561.8" y="603.2" text-anchor="middle">25</text>
<text x="643.9" y="603.2" text-anchor="middle">30</text>
<text x="726.1" y="603.2" text-anchor="middle">35</text>
<text x="808.2" y="603.2" text-anchor="middle">40</text>
<text x="890.4" y="603.2" text-anchor="middle">45</text>
<text x="889.3" y="614" font-size="9" textLength="22.8" lengthAdjust="spacingAndGlyphs">Cycle</text>
<text transform="translate(136,344) rotate(-90)" font-size="9" textLength="62.6" lengthAdjust="spacingAndGlyphs">Intensity (RFU)</text>
</g>
</svg>
<div id="cap">
<span class="ln" style="left:180.80px;top:683.60px;transform:scaleX(0.9951)">Figure</span>
<span class="ln" style="left:258.54px;top:683.60px;transform:scaleX(1.0347)">1:</span>
<span class="ln" style="left:286.74px;top:683.60px;transform:scaleX(1.0900)">Multiplex</span>
<span class="ln" style="left:401.94px;top:683.60px;transform:scaleX(0.8848)">qPCR</span>
<span class="ln" style="left:468.03px;top:683.60px;transform:scaleX(1.1124)">of</span>
<span class="ln" style="left:497.87px;top:683.60px;transform:scaleX(1.0155)">5</span>
<span class="ln" style="left:518.53px;top:683.60px;transform:scaleX(1.1063)">different</span>
<span class="ln" style="left:625.54px;top:683.60px;transform:scaleX(0.9743)">genes</span>
<span class="ln" style="left:180.80px;top:717.37px;transform:scaleX(1.1023)">from</span>
<span class="ln" style="left:242.95px;top:717.37px;transform:scaleX(1.0393)">human</span>
<span class="ln" style="left:329.72px;top:717.37px;transform:scaleX(0.9646)">cDNA</span>
<span class="ln" style="left:399.82px;top:717.37px;transform:scaleX(1.1300)">with</span>
<span class="ln" style="left:457.04px;top:717.37px;transform:scaleX(1.0197)">App</span>
<span class="ln" style="left:509.31px;top:717.37px;transform:scaleX(1.0079)">Probe</span>
<span class="ln" style="left:583.73px;top:717.37px;transform:scaleX(1.0092)">Low</span>
<span class="ln" style="left:636.94px;top:717.37px;transform:scaleX(0.8859)">ROX</span>
<span class="ln" style="left:691.88px;top:717.37px;transform:scaleX(1.0866)">Mix</span>
<span class="ln" style="left:741.00px;top:717.37px;transform:scaleX(0.9685)">(2X).</span>
<span class="ln" style="left:180.80px;top:751.14px;transform:scaleX(1.0058)">Reaction</span>
<span class="ln" style="left:287.61px;top:751.14px;transform:scaleX(1.0497)">conditions</span>
<span class="ln" style="left:413.58px;top:751.14px;transform:scaleX(1.0608)">were:</span>
<span class="ln" style="left:485.59px;top:751.14px;transform:scaleX(1.0163)">1</span>
<span class="ln" style="left:506.27px;top:751.14px;transform:scaleX(0.9914)">cycle</span>
<span class="ln" style="left:569.79px;top:751.14px;transform:scaleX(1.1132)">of</span>
<span class="ln" style="left:599.66px;top:751.14px;transform:scaleX(1.0163)">95</span>
<span class="ln" style="left:634.64px;top:751.14px;transform:scaleX(0.8234)">C</span>
<span class="ln" style="left:656.06px;top:751.14px;transform:scaleX(1.1287)">for</span>
<span class="ln" style="left:695.77px;top:751.14px;transform:scaleX(0.9831)">180s</span>
<span class="ln" style="left:180.80px;top:784.91px;transform:scaleX(1.0910)">(initial</span>
<span class="ln" style="left:259.26px;top:784.91px;transform:scaleX(1.0901)">denaturation/</span>
<span class="ln" style="left:426.64px;top:784.91px;transform:scaleX(1.0065)">enzyme</span>
<span class="ln" style="left:522.17px;top:784.91px;transform:scaleX(1.0510)">activation),</span>
<span class="ln" style="left:657.12px;top:784.91px;transform:scaleX(1.0141)">45</span>
<span class="ln" style="left:692.02px;top:784.91px;transform:scaleX(0.9679)">cycles</span>
<span class="ln" style="left:766.43px;top:784.91px;transform:scaleX(1.1012)">of:</span>
<span class="ln" style="left:180.80px;top:818.68px;transform:scaleX(1.0132)">95</span>
<span class="ln" style="left:215.67px;top:818.68px;transform:scaleX(0.8209)">C</span>
<span class="ln" style="left:237.03px;top:818.68px;transform:scaleX(1.1253)">for</span>
<span class="ln" style="left:276.62px;top:818.68px;transform:scaleX(0.9687)">10s</span>
<span class="ln" style="left:322.49px;top:818.68px;transform:scaleX(1.0605)">(denaturation)</span>
<span class="ln" style="left:495.91px;top:818.68px;transform:scaleX(1.0194)">and</span>
<span class="ln" style="left:545.30px;top:818.68px;transform:scaleX(1.0132)">60</span>
<span class="ln" style="left:580.18px;top:818.68px;transform:scaleX(0.8209)">C</span>
<span class="ln" style="left:601.53px;top:818.68px;transform:scaleX(1.1253)">for</span>
<span class="ln" style="left:641.12px;top:818.68px;transform:scaleX(0.9687)">30s</span>
<span class="ln" style="left:686.99px;top:818.68px;transform:scaleX(1.0259)">(extension).</span>
<span class="ln" style="left:180.80px;top:852.45px;transform:scaleX(1.0174)">App</span>
<span class="ln" style="left:232.96px;top:852.45px;transform:scaleX(1.0057)">Probe</span>
<span class="ln" style="left:307.21px;top:852.45px;transform:scaleX(1.0070)">Low</span>
<span class="ln" style="left:360.31px;top:852.45px;transform:scaleX(0.8840)">ROX</span>
<span class="ln" style="left:415.13px;top:852.45px;transform:scaleX(1.0441)">mix</span>
<span class="ln" style="left:462.56px;top:852.45px;transform:scaleX(1.0367)">works</span>
<span class="ln" style="left:537.41px;top:852.45px;transform:scaleX(1.0788)">efficiently</span>
<span class="ln" style="left:657.04px;top:852.45px;transform:scaleX(1.0523)">under</span>
<span class="ln" style="left:731.49px;top:852.45px;transform:scaleX(1.0411)">fast</span>
<span class="ln" style="left:780.30px;top:852.45px;transform:scaleX(1.0008)">cycling</span>
<span class="ln" style="left:180.80px;top:886.22px;transform:scaleX(1.0463)">conditions</span>
<span class="ln" style="left:306.36px;top:886.22px;transform:scaleX(1.1493)">to</span>
<span class="ln" style="left:336.97px;top:886.22px;transform:scaleX(1.0281)">generate</span>
<span class="ln" style="left:446.01px;top:886.22px;transform:scaleX(1.0692)">distinct</span>
<span class="ln" style="left:536.56px;top:886.22px;transform:scaleX(1.0191)">and</span>
<span class="ln" style="left:585.94px;top:886.22px;transform:scaleX(1.0509)">reproducible</span>
<span class="ln" style="left:738.62px;top:886.22px;transform:scaleX(1.0099)">traces</span>
<span class="ln" style="left:180.80px;top:919.99px;transform:scaleX(1.1298)">for</span>
<span class="ln" style="left:220.54px;top:919.99px;transform:scaleX(0.9909)">each</span>
<span class="ln" style="left:281.29px;top:919.99px;transform:scaleX(0.9992)">gene</span>
<span class="ln" style="left:343.91px;top:919.99px;transform:scaleX(1.0460)">studied.</span>
</div>
</body></html>
